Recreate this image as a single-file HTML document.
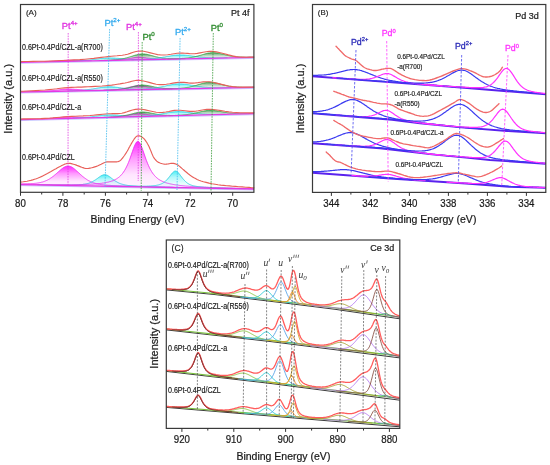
<!DOCTYPE html>
<html><head><meta charset="utf-8"><style>
html,body{margin:0;padding:0;background:#fff;}
body{width:550px;height:465px;overflow:hidden;}
svg{display:block;}
#w{will-change:transform;width:550px;height:465px;}
text{font-family:"Liberation Sans",sans-serif;}
.serif{font-family:"Liberation Serif",serif;font-style:italic;}
</style></head><body>
<div id="w">
<svg width="550" height="465" viewBox="0 0 550 465">
<defs><linearGradient id="g1" x1="0" y1="0" x2="0" y2="1"><stop offset="0" stop-color="#ff00ff" stop-opacity="0.85"/><stop offset="0.35" stop-color="#ff00ff" stop-opacity="0.4"/><stop offset="0.7" stop-color="#ff00ff" stop-opacity="0.1"/><stop offset="1" stop-color="#ff00ff" stop-opacity="0.03"/></linearGradient>
<linearGradient id="g2" x1="0" y1="0" x2="0" y2="1"><stop offset="0" stop-color="#00e8f0" stop-opacity="0.7"/><stop offset="0.35" stop-color="#00e8f0" stop-opacity="0.3"/><stop offset="0.7" stop-color="#00e8f0" stop-opacity="0.1"/><stop offset="1" stop-color="#00e8f0" stop-opacity="0.03"/></linearGradient>
<linearGradient id="g3" x1="0" y1="0" x2="0" y2="1"><stop offset="0" stop-color="#ff00ff" stop-opacity="0.85"/><stop offset="0.35" stop-color="#ff00ff" stop-opacity="0.4"/><stop offset="0.7" stop-color="#ff00ff" stop-opacity="0.1"/><stop offset="1" stop-color="#ff00ff" stop-opacity="0.03"/></linearGradient>
<linearGradient id="g4" x1="0" y1="0" x2="0" y2="1"><stop offset="0" stop-color="#2e8b3e" stop-opacity="0.85"/><stop offset="0.35" stop-color="#2e8b3e" stop-opacity="0.4"/><stop offset="0.7" stop-color="#2e8b3e" stop-opacity="0.1"/><stop offset="1" stop-color="#2e8b3e" stop-opacity="0.03"/></linearGradient>
<linearGradient id="g5" x1="0" y1="0" x2="0" y2="1"><stop offset="0" stop-color="#00e8f0" stop-opacity="0.7"/><stop offset="0.35" stop-color="#00e8f0" stop-opacity="0.3"/><stop offset="0.7" stop-color="#00e8f0" stop-opacity="0.1"/><stop offset="1" stop-color="#00e8f0" stop-opacity="0.03"/></linearGradient>
<linearGradient id="g6" x1="0" y1="0" x2="0" y2="1"><stop offset="0" stop-color="#2e8b3e" stop-opacity="0.85"/><stop offset="0.35" stop-color="#2e8b3e" stop-opacity="0.4"/><stop offset="0.7" stop-color="#2e8b3e" stop-opacity="0.1"/><stop offset="1" stop-color="#2e8b3e" stop-opacity="0.03"/></linearGradient>
<linearGradient id="g7" x1="0" y1="0" x2="0" y2="1"><stop offset="0" stop-color="#ff00ff" stop-opacity="0.85"/><stop offset="0.35" stop-color="#ff00ff" stop-opacity="0.4"/><stop offset="0.7" stop-color="#ff00ff" stop-opacity="0.1"/><stop offset="1" stop-color="#ff00ff" stop-opacity="0.03"/></linearGradient>
<linearGradient id="g8" x1="0" y1="0" x2="0" y2="1"><stop offset="0" stop-color="#00e8f0" stop-opacity="0.7"/><stop offset="0.35" stop-color="#00e8f0" stop-opacity="0.3"/><stop offset="0.7" stop-color="#00e8f0" stop-opacity="0.1"/><stop offset="1" stop-color="#00e8f0" stop-opacity="0.03"/></linearGradient>
<linearGradient id="g9" x1="0" y1="0" x2="0" y2="1"><stop offset="0" stop-color="#ff00ff" stop-opacity="0.85"/><stop offset="0.35" stop-color="#ff00ff" stop-opacity="0.4"/><stop offset="0.7" stop-color="#ff00ff" stop-opacity="0.1"/><stop offset="1" stop-color="#ff00ff" stop-opacity="0.03"/></linearGradient>
<linearGradient id="g10" x1="0" y1="0" x2="0" y2="1"><stop offset="0" stop-color="#2e8b3e" stop-opacity="0.85"/><stop offset="0.35" stop-color="#2e8b3e" stop-opacity="0.4"/><stop offset="0.7" stop-color="#2e8b3e" stop-opacity="0.1"/><stop offset="1" stop-color="#2e8b3e" stop-opacity="0.03"/></linearGradient>
<linearGradient id="g11" x1="0" y1="0" x2="0" y2="1"><stop offset="0" stop-color="#00e8f0" stop-opacity="0.7"/><stop offset="0.35" stop-color="#00e8f0" stop-opacity="0.3"/><stop offset="0.7" stop-color="#00e8f0" stop-opacity="0.1"/><stop offset="1" stop-color="#00e8f0" stop-opacity="0.03"/></linearGradient>
<linearGradient id="g12" x1="0" y1="0" x2="0" y2="1"><stop offset="0" stop-color="#2e8b3e" stop-opacity="0.85"/><stop offset="0.35" stop-color="#2e8b3e" stop-opacity="0.4"/><stop offset="0.7" stop-color="#2e8b3e" stop-opacity="0.1"/><stop offset="1" stop-color="#2e8b3e" stop-opacity="0.03"/></linearGradient>
<linearGradient id="g13" x1="0" y1="0" x2="0" y2="1"><stop offset="0" stop-color="#ff00ff" stop-opacity="0.85"/><stop offset="0.35" stop-color="#ff00ff" stop-opacity="0.4"/><stop offset="0.7" stop-color="#ff00ff" stop-opacity="0.1"/><stop offset="1" stop-color="#ff00ff" stop-opacity="0.03"/></linearGradient>
<linearGradient id="g14" x1="0" y1="0" x2="0" y2="1"><stop offset="0" stop-color="#00e8f0" stop-opacity="0.7"/><stop offset="0.35" stop-color="#00e8f0" stop-opacity="0.3"/><stop offset="0.7" stop-color="#00e8f0" stop-opacity="0.1"/><stop offset="1" stop-color="#00e8f0" stop-opacity="0.03"/></linearGradient>
<linearGradient id="g15" x1="0" y1="0" x2="0" y2="1"><stop offset="0" stop-color="#ff00ff" stop-opacity="0.85"/><stop offset="0.35" stop-color="#ff00ff" stop-opacity="0.4"/><stop offset="0.7" stop-color="#ff00ff" stop-opacity="0.1"/><stop offset="1" stop-color="#ff00ff" stop-opacity="0.03"/></linearGradient>
<linearGradient id="g16" x1="0" y1="0" x2="0" y2="1"><stop offset="0" stop-color="#2e8b3e" stop-opacity="0.85"/><stop offset="0.35" stop-color="#2e8b3e" stop-opacity="0.4"/><stop offset="0.7" stop-color="#2e8b3e" stop-opacity="0.1"/><stop offset="1" stop-color="#2e8b3e" stop-opacity="0.03"/></linearGradient>
<linearGradient id="g17" x1="0" y1="0" x2="0" y2="1"><stop offset="0" stop-color="#00e8f0" stop-opacity="0.7"/><stop offset="0.35" stop-color="#00e8f0" stop-opacity="0.3"/><stop offset="0.7" stop-color="#00e8f0" stop-opacity="0.1"/><stop offset="1" stop-color="#00e8f0" stop-opacity="0.03"/></linearGradient>
<linearGradient id="g18" x1="0" y1="0" x2="0" y2="1"><stop offset="0" stop-color="#2e8b3e" stop-opacity="0.85"/><stop offset="0.35" stop-color="#2e8b3e" stop-opacity="0.4"/><stop offset="0.7" stop-color="#2e8b3e" stop-opacity="0.1"/><stop offset="1" stop-color="#2e8b3e" stop-opacity="0.03"/></linearGradient>
<linearGradient id="g19" x1="0" y1="0" x2="0" y2="1"><stop offset="0" stop-color="#ff00ff" stop-opacity="0.85"/><stop offset="0.35" stop-color="#ff00ff" stop-opacity="0.4"/><stop offset="0.7" stop-color="#ff00ff" stop-opacity="0.1"/><stop offset="1" stop-color="#ff00ff" stop-opacity="0.03"/></linearGradient>
<linearGradient id="g20" x1="0" y1="0" x2="0" y2="1"><stop offset="0" stop-color="#00e8f0" stop-opacity="0.7"/><stop offset="0.35" stop-color="#00e8f0" stop-opacity="0.3"/><stop offset="0.7" stop-color="#00e8f0" stop-opacity="0.1"/><stop offset="1" stop-color="#00e8f0" stop-opacity="0.03"/></linearGradient>
<linearGradient id="g21" x1="0" y1="0" x2="0" y2="1"><stop offset="0" stop-color="#ff00ff" stop-opacity="0.85"/><stop offset="0.35" stop-color="#ff00ff" stop-opacity="0.4"/><stop offset="0.7" stop-color="#ff00ff" stop-opacity="0.1"/><stop offset="1" stop-color="#ff00ff" stop-opacity="0.03"/></linearGradient>
<linearGradient id="g22" x1="0" y1="0" x2="0" y2="1"><stop offset="0" stop-color="#00e8f0" stop-opacity="0.7"/><stop offset="0.35" stop-color="#00e8f0" stop-opacity="0.3"/><stop offset="0.7" stop-color="#00e8f0" stop-opacity="0.1"/><stop offset="1" stop-color="#00e8f0" stop-opacity="0.03"/></linearGradient></defs>
<rect width="550" height="465" fill="#fff"/>
<path d="M44.5 61.7 L45.5 61.6 L46.5 61.6 L47.5 61.5 L48.5 61.5 L49.5 61.4 L50.5 61.4 L51.5 61.3 L52.5 61.2 L53.5 61.2 L54.5 61.1 L55.5 61 L56.5 61 L57.5 60.9 L58.5 60.8 L59.5 60.8 L60.5 60.7 L61.5 60.6 L62.5 60.5 L63.5 60.5 L64.5 60.4 L65.5 60.4 L66.5 60.3 L67.5 60.3 L68.5 60.3 L69.5 60.3 L70.5 60.3 L71.5 60.3 L72.5 60.3 L73.5 60.3 L74.5 60.3 L75.5 60.4 L76.5 60.4 L77.5 60.4 L78.5 60.5 L79.5 60.5 L80.5 60.5 L81.5 60.5 L82.5 60.6 L83.5 60.6 L84.5 60.6 L85.5 60.6 L86.5 60.6 L87.5 60.7 L88.5 60.7 L89.5 60.7 L90.5 60.7 L91.5 60.7 L91.5 60.8 L90.5 60.8 L89.5 60.9 L88.5 60.9 L87.5 60.9 L86.5 60.9 L85.5 60.9 L84.5 61 L83.5 61 L82.5 61 L81.5 61 L80.5 61 L79.5 61.1 L78.5 61.1 L77.5 61.1 L76.5 61.1 L75.5 61.1 L74.5 61.2 L73.5 61.2 L72.5 61.2 L71.5 61.2 L70.5 61.3 L69.5 61.3 L68.5 61.3 L67.5 61.3 L66.5 61.3 L65.5 61.4 L64.5 61.4 L63.5 61.4 L62.5 61.4 L61.5 61.4 L60.5 61.5 L59.5 61.5 L58.5 61.5 L57.5 61.5 L56.5 61.5 L55.5 61.6 L54.5 61.6 L53.5 61.6 L52.5 61.6 L51.5 61.6 L50.5 61.7 L49.5 61.7 L48.5 61.7 L47.5 61.7 L46.5 61.8 L45.5 61.8 L44.5 61.8 Z" fill="url(#g1)" stroke="none"/>
<path d="M44.5 61.7 L45.5 61.6 L46.5 61.6 L47.5 61.5 L48.5 61.5 L49.5 61.4 L50.5 61.4 L51.5 61.3 L52.5 61.2 L53.5 61.2 L54.5 61.1 L55.5 61 L56.5 61 L57.5 60.9 L58.5 60.8 L59.5 60.8 L60.5 60.7 L61.5 60.6 L62.5 60.5 L63.5 60.5 L64.5 60.4 L65.5 60.4 L66.5 60.3 L67.5 60.3 L68.5 60.3 L69.5 60.3 L70.5 60.3 L71.5 60.3 L72.5 60.3 L73.5 60.3 L74.5 60.3 L75.5 60.4 L76.5 60.4 L77.5 60.4 L78.5 60.5 L79.5 60.5 L80.5 60.5 L81.5 60.5 L82.5 60.6 L83.5 60.6 L84.5 60.6 L85.5 60.6 L86.5 60.6 L87.5 60.7 L88.5 60.7 L89.5 60.7 L90.5 60.7 L91.5 60.7" stroke="#ee22ee" stroke-width="0.8" fill="none"/>
<path d="M72.5 61.1 L73.5 61 L74.5 61 L75.5 61 L76.5 60.9 L77.5 60.9 L78.5 60.8 L79.5 60.8 L80.5 60.7 L81.5 60.7 L82.5 60.6 L83.5 60.5 L84.5 60.4 L85.5 60.4 L86.5 60.3 L87.5 60.2 L88.5 60.1 L89.5 60 L90.5 59.9 L91.5 59.8 L92.5 59.6 L93.5 59.5 L94.5 59.4 L95.5 59.3 L96.5 59.1 L97.5 59 L98.5 58.9 L99.5 58.7 L100.5 58.6 L101.5 58.5 L102.5 58.4 L103.5 58.3 L104.5 58.2 L105.5 58.1 L106.5 58 L107.5 58 L108.5 58 L109.5 57.9 L110.5 57.9 L111.5 58 L112.5 58 L113.5 58.1 L114.5 58.1 L115.5 58.2 L116.5 58.3 L117.5 58.3 L118.5 58.4 L119.5 58.5 L120.5 58.6 L121.5 58.7 L122.5 58.8 L123.5 58.9 L124.5 59 L125.5 59 L126.5 59.1 L127.5 59.2 L128.5 59.3 L129.5 59.3 L130.5 59.4 L131.5 59.4 L132.5 59.4 L133.5 59.5 L134.5 59.5 L135.5 59.5 L136.5 59.5 L137.5 59.6 L138.5 59.6 L139.5 59.6 L140.5 59.6 L141.5 59.6 L142.5 59.6 L143.5 59.6 L144.5 59.6 L144.5 59.7 L143.5 59.7 L142.5 59.7 L141.5 59.8 L140.5 59.8 L139.5 59.8 L138.5 59.8 L137.5 59.8 L136.5 59.9 L135.5 59.9 L134.5 59.9 L133.5 59.9 L132.5 59.9 L131.5 60 L130.5 60 L129.5 60 L128.5 60 L127.5 60.1 L126.5 60.1 L125.5 60.1 L124.5 60.1 L123.5 60.1 L122.5 60.2 L121.5 60.2 L120.5 60.2 L119.5 60.2 L118.5 60.2 L117.5 60.3 L116.5 60.3 L115.5 60.3 L114.5 60.3 L113.5 60.3 L112.5 60.4 L111.5 60.4 L110.5 60.4 L109.5 60.4 L108.5 60.5 L107.5 60.5 L106.5 60.5 L105.5 60.5 L104.5 60.5 L103.5 60.6 L102.5 60.6 L101.5 60.6 L100.5 60.6 L99.5 60.6 L98.5 60.7 L97.5 60.7 L96.5 60.7 L95.5 60.7 L94.5 60.7 L93.5 60.8 L92.5 60.8 L91.5 60.8 L90.5 60.8 L89.5 60.9 L88.5 60.9 L87.5 60.9 L86.5 60.9 L85.5 60.9 L84.5 61 L83.5 61 L82.5 61 L81.5 61 L80.5 61 L79.5 61.1 L78.5 61.1 L77.5 61.1 L76.5 61.1 L75.5 61.1 L74.5 61.2 L73.5 61.2 L72.5 61.2 Z" fill="url(#g2)" stroke="none"/>
<path d="M72.5 61.1 L73.5 61 L74.5 61 L75.5 61 L76.5 60.9 L77.5 60.9 L78.5 60.8 L79.5 60.8 L80.5 60.7 L81.5 60.7 L82.5 60.6 L83.5 60.5 L84.5 60.4 L85.5 60.4 L86.5 60.3 L87.5 60.2 L88.5 60.1 L89.5 60 L90.5 59.9 L91.5 59.8 L92.5 59.6 L93.5 59.5 L94.5 59.4 L95.5 59.3 L96.5 59.1 L97.5 59 L98.5 58.9 L99.5 58.7 L100.5 58.6 L101.5 58.5 L102.5 58.4 L103.5 58.3 L104.5 58.2 L105.5 58.1 L106.5 58 L107.5 58 L108.5 58 L109.5 57.9 L110.5 57.9 L111.5 58 L112.5 58 L113.5 58.1 L114.5 58.1 L115.5 58.2 L116.5 58.3 L117.5 58.3 L118.5 58.4 L119.5 58.5 L120.5 58.6 L121.5 58.7 L122.5 58.8 L123.5 58.9 L124.5 59 L125.5 59 L126.5 59.1 L127.5 59.2 L128.5 59.3 L129.5 59.3 L130.5 59.4 L131.5 59.4 L132.5 59.4 L133.5 59.5 L134.5 59.5 L135.5 59.5 L136.5 59.5 L137.5 59.6 L138.5 59.6 L139.5 59.6 L140.5 59.6 L141.5 59.6 L142.5 59.6 L143.5 59.6 L144.5 59.6" stroke="#22ccdd" stroke-width="0.8" fill="none"/>
<path d="M111.5 60.3 L112.5 60.2 L113.5 60.2 L114.5 60.1 L115.5 60.1 L116.5 60 L117.5 60 L118.5 59.9 L119.5 59.8 L120.5 59.7 L121.5 59.6 L122.5 59.5 L123.5 59.4 L124.5 59.3 L125.5 59.1 L126.5 59 L127.5 58.8 L128.5 58.6 L129.5 58.5 L130.5 58.3 L131.5 58.1 L132.5 57.9 L133.5 57.8 L134.5 57.6 L135.5 57.5 L136.5 57.4 L137.5 57.4 L138.5 57.3 L139.5 57.3 L140.5 57.3 L141.5 57.4 L142.5 57.5 L143.5 57.6 L144.5 57.7 L145.5 57.8 L146.5 58 L147.5 58.1 L148.5 58.2 L149.5 58.3 L150.5 58.5 L151.5 58.6 L152.5 58.7 L153.5 58.8 L154.5 58.8 L155.5 58.9 L156.5 59 L157.5 59 L158.5 59.1 L159.5 59.1 L160.5 59.1 L161.5 59.1 L162.5 59.1 L163.5 59.1 L164.5 59.1 L165.5 59.1 L165.5 59.3 L164.5 59.3 L163.5 59.3 L162.5 59.3 L161.5 59.3 L160.5 59.4 L159.5 59.4 L158.5 59.4 L157.5 59.4 L156.5 59.4 L155.5 59.5 L154.5 59.5 L153.5 59.5 L152.5 59.5 L151.5 59.5 L150.5 59.6 L149.5 59.6 L148.5 59.6 L147.5 59.6 L146.5 59.7 L145.5 59.7 L144.5 59.7 L143.5 59.7 L142.5 59.7 L141.5 59.8 L140.5 59.8 L139.5 59.8 L138.5 59.8 L137.5 59.8 L136.5 59.9 L135.5 59.9 L134.5 59.9 L133.5 59.9 L132.5 59.9 L131.5 60 L130.5 60 L129.5 60 L128.5 60 L127.5 60.1 L126.5 60.1 L125.5 60.1 L124.5 60.1 L123.5 60.1 L122.5 60.2 L121.5 60.2 L120.5 60.2 L119.5 60.2 L118.5 60.2 L117.5 60.3 L116.5 60.3 L115.5 60.3 L114.5 60.3 L113.5 60.3 L112.5 60.4 L111.5 60.4 Z" fill="url(#g3)" stroke="none"/>
<path d="M111.5 60.3 L112.5 60.2 L113.5 60.2 L114.5 60.1 L115.5 60.1 L116.5 60 L117.5 60 L118.5 59.9 L119.5 59.8 L120.5 59.7 L121.5 59.6 L122.5 59.5 L123.5 59.4 L124.5 59.3 L125.5 59.1 L126.5 59 L127.5 58.8 L128.5 58.6 L129.5 58.5 L130.5 58.3 L131.5 58.1 L132.5 57.9 L133.5 57.8 L134.5 57.6 L135.5 57.5 L136.5 57.4 L137.5 57.4 L138.5 57.3 L139.5 57.3 L140.5 57.3 L141.5 57.4 L142.5 57.5 L143.5 57.6 L144.5 57.7 L145.5 57.8 L146.5 58 L147.5 58.1 L148.5 58.2 L149.5 58.3 L150.5 58.5 L151.5 58.6 L152.5 58.7 L153.5 58.8 L154.5 58.8 L155.5 58.9 L156.5 59 L157.5 59 L158.5 59.1 L159.5 59.1 L160.5 59.1 L161.5 59.1 L162.5 59.1 L163.5 59.1 L164.5 59.1 L165.5 59.1" stroke="#ee22ee" stroke-width="0.8" fill="none"/>
<path d="M99.5 60.5 L100.5 60.5 L101.5 60.4 L102.5 60.4 L103.5 60.4 L104.5 60.3 L105.5 60.3 L106.5 60.3 L107.5 60.2 L108.5 60.2 L109.5 60.1 L110.5 60.1 L111.5 60 L112.5 60 L113.5 59.9 L114.5 59.8 L115.5 59.8 L116.5 59.7 L117.5 59.6 L118.5 59.4 L119.5 59.3 L120.5 59.2 L121.5 59 L122.5 58.8 L123.5 58.6 L124.5 58.4 L125.5 58.1 L126.5 57.9 L127.5 57.6 L128.5 57.3 L129.5 57 L130.5 56.7 L131.5 56.4 L132.5 56.1 L133.5 55.7 L134.5 55.4 L135.5 55.1 L136.5 54.9 L137.5 54.6 L138.5 54.4 L139.5 54.2 L140.5 54.1 L141.5 54 L142.5 53.9 L143.5 54 L144.5 54 L145.5 54.2 L146.5 54.3 L147.5 54.5 L148.5 54.8 L149.5 55 L150.5 55.3 L151.5 55.6 L152.5 55.8 L153.5 56.1 L154.5 56.4 L155.5 56.7 L156.5 56.9 L157.5 57.1 L158.5 57.4 L159.5 57.6 L160.5 57.7 L161.5 57.9 L162.5 58.1 L163.5 58.2 L164.5 58.3 L165.5 58.4 L166.5 58.5 L167.5 58.6 L168.5 58.6 L169.5 58.7 L170.5 58.7 L171.5 58.7 L172.5 58.7 L173.5 58.8 L174.5 58.8 L175.5 58.8 L176.5 58.8 L177.5 58.8 L178.5 58.8 L179.5 58.8 L180.5 58.8 L181.5 58.7 L182.5 58.7 L183.5 58.7 L184.5 58.7 L185.5 58.7 L185.5 58.8 L184.5 58.9 L183.5 58.9 L182.5 58.9 L181.5 58.9 L180.5 58.9 L179.5 59 L178.5 59 L177.5 59 L176.5 59 L175.5 59 L174.5 59.1 L173.5 59.1 L172.5 59.1 L171.5 59.1 L170.5 59.2 L169.5 59.2 L168.5 59.2 L167.5 59.2 L166.5 59.2 L165.5 59.3 L164.5 59.3 L163.5 59.3 L162.5 59.3 L161.5 59.3 L160.5 59.4 L159.5 59.4 L158.5 59.4 L157.5 59.4 L156.5 59.4 L155.5 59.5 L154.5 59.5 L153.5 59.5 L152.5 59.5 L151.5 59.5 L150.5 59.6 L149.5 59.6 L148.5 59.6 L147.5 59.6 L146.5 59.7 L145.5 59.7 L144.5 59.7 L143.5 59.7 L142.5 59.7 L141.5 59.8 L140.5 59.8 L139.5 59.8 L138.5 59.8 L137.5 59.8 L136.5 59.9 L135.5 59.9 L134.5 59.9 L133.5 59.9 L132.5 59.9 L131.5 60 L130.5 60 L129.5 60 L128.5 60 L127.5 60.1 L126.5 60.1 L125.5 60.1 L124.5 60.1 L123.5 60.1 L122.5 60.2 L121.5 60.2 L120.5 60.2 L119.5 60.2 L118.5 60.2 L117.5 60.3 L116.5 60.3 L115.5 60.3 L114.5 60.3 L113.5 60.3 L112.5 60.4 L111.5 60.4 L110.5 60.4 L109.5 60.4 L108.5 60.5 L107.5 60.5 L106.5 60.5 L105.5 60.5 L104.5 60.5 L103.5 60.6 L102.5 60.6 L101.5 60.6 L100.5 60.6 L99.5 60.6 Z" fill="url(#g4)" stroke="none"/>
<path d="M99.5 60.5 L100.5 60.5 L101.5 60.4 L102.5 60.4 L103.5 60.4 L104.5 60.3 L105.5 60.3 L106.5 60.3 L107.5 60.2 L108.5 60.2 L109.5 60.1 L110.5 60.1 L111.5 60 L112.5 60 L113.5 59.9 L114.5 59.8 L115.5 59.8 L116.5 59.7 L117.5 59.6 L118.5 59.4 L119.5 59.3 L120.5 59.2 L121.5 59 L122.5 58.8 L123.5 58.6 L124.5 58.4 L125.5 58.1 L126.5 57.9 L127.5 57.6 L128.5 57.3 L129.5 57 L130.5 56.7 L131.5 56.4 L132.5 56.1 L133.5 55.7 L134.5 55.4 L135.5 55.1 L136.5 54.9 L137.5 54.6 L138.5 54.4 L139.5 54.2 L140.5 54.1 L141.5 54 L142.5 53.9 L143.5 54 L144.5 54 L145.5 54.2 L146.5 54.3 L147.5 54.5 L148.5 54.8 L149.5 55 L150.5 55.3 L151.5 55.6 L152.5 55.8 L153.5 56.1 L154.5 56.4 L155.5 56.7 L156.5 56.9 L157.5 57.1 L158.5 57.4 L159.5 57.6 L160.5 57.7 L161.5 57.9 L162.5 58.1 L163.5 58.2 L164.5 58.3 L165.5 58.4 L166.5 58.5 L167.5 58.6 L168.5 58.6 L169.5 58.7 L170.5 58.7 L171.5 58.7 L172.5 58.7 L173.5 58.8 L174.5 58.8 L175.5 58.8 L176.5 58.8 L177.5 58.8 L178.5 58.8 L179.5 58.8 L180.5 58.8 L181.5 58.7 L182.5 58.7 L183.5 58.7 L184.5 58.7 L185.5 58.7" stroke="#2a9a3a" stroke-width="0.8" fill="none"/>
<path d="M131.5 59.8 L132.5 59.8 L133.5 59.8 L134.5 59.7 L135.5 59.7 L136.5 59.7 L137.5 59.6 L138.5 59.6 L139.5 59.6 L140.5 59.5 L141.5 59.5 L142.5 59.4 L143.5 59.4 L144.5 59.3 L145.5 59.3 L146.5 59.2 L147.5 59.1 L148.5 59.1 L149.5 59 L150.5 58.9 L151.5 58.8 L152.5 58.7 L153.5 58.6 L154.5 58.5 L155.5 58.4 L156.5 58.2 L157.5 58.1 L158.5 58 L159.5 57.8 L160.5 57.6 L161.5 57.5 L162.5 57.3 L163.5 57.1 L164.5 57 L165.5 56.8 L166.5 56.6 L167.5 56.4 L168.5 56.3 L169.5 56.1 L170.5 55.9 L171.5 55.7 L172.5 55.6 L173.5 55.5 L174.5 55.3 L175.5 55.2 L176.5 55.1 L177.5 55 L178.5 55 L179.5 55 L180.5 55 L181.5 55 L182.5 55 L183.5 55 L184.5 55.1 L185.5 55.2 L186.5 55.3 L187.5 55.4 L188.5 55.5 L189.5 55.7 L190.5 55.8 L191.5 55.9 L192.5 56.1 L193.5 56.2 L194.5 56.3 L195.5 56.5 L196.5 56.6 L197.5 56.7 L198.5 56.9 L199.5 57 L200.5 57.1 L201.5 57.2 L202.5 57.3 L203.5 57.4 L204.5 57.4 L205.5 57.5 L206.5 57.6 L207.5 57.6 L208.5 57.7 L209.5 57.7 L210.5 57.8 L211.5 57.8 L212.5 57.8 L213.5 57.8 L214.5 57.8 L215.5 57.9 L216.5 57.9 L217.5 57.9 L218.5 57.9 L219.5 57.9 L220.5 57.9 L221.5 57.9 L222.5 57.9 L223.5 57.9 L224.5 57.8 L225.5 57.8 L226.5 57.8 L227.5 57.8 L227.5 58 L226.5 58 L225.5 58 L224.5 58 L223.5 58 L222.5 58.1 L221.5 58.1 L220.5 58.1 L219.5 58.1 L218.5 58.1 L217.5 58.2 L216.5 58.2 L215.5 58.2 L214.5 58.2 L213.5 58.2 L212.5 58.3 L211.5 58.3 L210.5 58.3 L209.5 58.3 L208.5 58.4 L207.5 58.4 L206.5 58.4 L205.5 58.4 L204.5 58.4 L203.5 58.5 L202.5 58.5 L201.5 58.5 L200.5 58.5 L199.5 58.5 L198.5 58.6 L197.5 58.6 L196.5 58.6 L195.5 58.6 L194.5 58.6 L193.5 58.7 L192.5 58.7 L191.5 58.7 L190.5 58.7 L189.5 58.8 L188.5 58.8 L187.5 58.8 L186.5 58.8 L185.5 58.8 L184.5 58.9 L183.5 58.9 L182.5 58.9 L181.5 58.9 L180.5 58.9 L179.5 59 L178.5 59 L177.5 59 L176.5 59 L175.5 59 L174.5 59.1 L173.5 59.1 L172.5 59.1 L171.5 59.1 L170.5 59.2 L169.5 59.2 L168.5 59.2 L167.5 59.2 L166.5 59.2 L165.5 59.3 L164.5 59.3 L163.5 59.3 L162.5 59.3 L161.5 59.3 L160.5 59.4 L159.5 59.4 L158.5 59.4 L157.5 59.4 L156.5 59.4 L155.5 59.5 L154.5 59.5 L153.5 59.5 L152.5 59.5 L151.5 59.5 L150.5 59.6 L149.5 59.6 L148.5 59.6 L147.5 59.6 L146.5 59.7 L145.5 59.7 L144.5 59.7 L143.5 59.7 L142.5 59.7 L141.5 59.8 L140.5 59.8 L139.5 59.8 L138.5 59.8 L137.5 59.8 L136.5 59.9 L135.5 59.9 L134.5 59.9 L133.5 59.9 L132.5 59.9 L131.5 60 Z" fill="url(#g5)" stroke="none"/>
<path d="M131.5 59.8 L132.5 59.8 L133.5 59.8 L134.5 59.7 L135.5 59.7 L136.5 59.7 L137.5 59.6 L138.5 59.6 L139.5 59.6 L140.5 59.5 L141.5 59.5 L142.5 59.4 L143.5 59.4 L144.5 59.3 L145.5 59.3 L146.5 59.2 L147.5 59.1 L148.5 59.1 L149.5 59 L150.5 58.9 L151.5 58.8 L152.5 58.7 L153.5 58.6 L154.5 58.5 L155.5 58.4 L156.5 58.2 L157.5 58.1 L158.5 58 L159.5 57.8 L160.5 57.6 L161.5 57.5 L162.5 57.3 L163.5 57.1 L164.5 57 L165.5 56.8 L166.5 56.6 L167.5 56.4 L168.5 56.3 L169.5 56.1 L170.5 55.9 L171.5 55.7 L172.5 55.6 L173.5 55.5 L174.5 55.3 L175.5 55.2 L176.5 55.1 L177.5 55 L178.5 55 L179.5 55 L180.5 55 L181.5 55 L182.5 55 L183.5 55 L184.5 55.1 L185.5 55.2 L186.5 55.3 L187.5 55.4 L188.5 55.5 L189.5 55.7 L190.5 55.8 L191.5 55.9 L192.5 56.1 L193.5 56.2 L194.5 56.3 L195.5 56.5 L196.5 56.6 L197.5 56.7 L198.5 56.9 L199.5 57 L200.5 57.1 L201.5 57.2 L202.5 57.3 L203.5 57.4 L204.5 57.4 L205.5 57.5 L206.5 57.6 L207.5 57.6 L208.5 57.7 L209.5 57.7 L210.5 57.8 L211.5 57.8 L212.5 57.8 L213.5 57.8 L214.5 57.8 L215.5 57.9 L216.5 57.9 L217.5 57.9 L218.5 57.9 L219.5 57.9 L220.5 57.9 L221.5 57.9 L222.5 57.9 L223.5 57.9 L224.5 57.8 L225.5 57.8 L226.5 57.8 L227.5 57.8" stroke="#22ccdd" stroke-width="0.8" fill="none"/>
<path d="M167.5 59.1 L168.5 59 L169.5 59 L170.5 59 L171.5 58.9 L172.5 58.9 L173.5 58.9 L174.5 58.8 L175.5 58.8 L176.5 58.8 L177.5 58.7 L178.5 58.7 L179.5 58.6 L180.5 58.6 L181.5 58.5 L182.5 58.4 L183.5 58.4 L184.5 58.3 L185.5 58.2 L186.5 58.1 L187.5 58 L188.5 57.9 L189.5 57.7 L190.5 57.6 L191.5 57.4 L192.5 57.2 L193.5 57 L194.5 56.8 L195.5 56.6 L196.5 56.3 L197.5 56.1 L198.5 55.8 L199.5 55.5 L200.5 55.3 L201.5 55 L202.5 54.7 L203.5 54.4 L204.5 54.1 L205.5 53.8 L206.5 53.6 L207.5 53.3 L208.5 53.1 L209.5 53 L210.5 52.8 L211.5 52.7 L212.5 52.7 L213.5 52.7 L214.5 52.7 L215.5 52.8 L216.5 52.9 L217.5 53 L218.5 53.2 L219.5 53.4 L220.5 53.7 L221.5 53.9 L222.5 54.1 L223.5 54.4 L224.5 54.6 L225.5 54.9 L226.5 55.1 L227.5 55.4 L228.5 55.6 L229.5 55.8 L230.5 56 L231.5 56.1 L232.5 56.3 L233.5 56.5 L234.5 56.6 L235.5 56.7 L236.5 56.8 L237.5 56.9 L238.5 57 L239.5 57 L240.5 57.1 L241.5 57.1 L242.5 57.2 L243.5 57.2 L244.5 57.2 L245.5 57.2 L246.5 57.2 L247.5 57.2 L248.5 57.2 L249.5 57.2 L250.5 57.2 L251.5 57.2 L252.5 57.2 L253.5 57.2 L253.9 57.2 L253.9 57.4 L253.5 57.4 L252.5 57.4 L251.5 57.5 L250.5 57.5 L249.5 57.5 L248.5 57.5 L247.5 57.5 L246.5 57.6 L245.5 57.6 L244.5 57.6 L243.5 57.6 L242.5 57.6 L241.5 57.7 L240.5 57.7 L239.5 57.7 L238.5 57.7 L237.5 57.7 L236.5 57.8 L235.5 57.8 L234.5 57.8 L233.5 57.8 L232.5 57.8 L231.5 57.9 L230.5 57.9 L229.5 57.9 L228.5 57.9 L227.5 58 L226.5 58 L225.5 58 L224.5 58 L223.5 58 L222.5 58.1 L221.5 58.1 L220.5 58.1 L219.5 58.1 L218.5 58.1 L217.5 58.2 L216.5 58.2 L215.5 58.2 L214.5 58.2 L213.5 58.2 L212.5 58.3 L211.5 58.3 L210.5 58.3 L209.5 58.3 L208.5 58.4 L207.5 58.4 L206.5 58.4 L205.5 58.4 L204.5 58.4 L203.5 58.5 L202.5 58.5 L201.5 58.5 L200.5 58.5 L199.5 58.5 L198.5 58.6 L197.5 58.6 L196.5 58.6 L195.5 58.6 L194.5 58.6 L193.5 58.7 L192.5 58.7 L191.5 58.7 L190.5 58.7 L189.5 58.8 L188.5 58.8 L187.5 58.8 L186.5 58.8 L185.5 58.8 L184.5 58.9 L183.5 58.9 L182.5 58.9 L181.5 58.9 L180.5 58.9 L179.5 59 L178.5 59 L177.5 59 L176.5 59 L175.5 59 L174.5 59.1 L173.5 59.1 L172.5 59.1 L171.5 59.1 L170.5 59.2 L169.5 59.2 L168.5 59.2 L167.5 59.2 Z" fill="url(#g6)" stroke="none"/>
<path d="M167.5 59.1 L168.5 59 L169.5 59 L170.5 59 L171.5 58.9 L172.5 58.9 L173.5 58.9 L174.5 58.8 L175.5 58.8 L176.5 58.8 L177.5 58.7 L178.5 58.7 L179.5 58.6 L180.5 58.6 L181.5 58.5 L182.5 58.4 L183.5 58.4 L184.5 58.3 L185.5 58.2 L186.5 58.1 L187.5 58 L188.5 57.9 L189.5 57.7 L190.5 57.6 L191.5 57.4 L192.5 57.2 L193.5 57 L194.5 56.8 L195.5 56.6 L196.5 56.3 L197.5 56.1 L198.5 55.8 L199.5 55.5 L200.5 55.3 L201.5 55 L202.5 54.7 L203.5 54.4 L204.5 54.1 L205.5 53.8 L206.5 53.6 L207.5 53.3 L208.5 53.1 L209.5 53 L210.5 52.8 L211.5 52.7 L212.5 52.7 L213.5 52.7 L214.5 52.7 L215.5 52.8 L216.5 52.9 L217.5 53 L218.5 53.2 L219.5 53.4 L220.5 53.7 L221.5 53.9 L222.5 54.1 L223.5 54.4 L224.5 54.6 L225.5 54.9 L226.5 55.1 L227.5 55.4 L228.5 55.6 L229.5 55.8 L230.5 56 L231.5 56.1 L232.5 56.3 L233.5 56.5 L234.5 56.6 L235.5 56.7 L236.5 56.8 L237.5 56.9 L238.5 57 L239.5 57 L240.5 57.1 L241.5 57.1 L242.5 57.2 L243.5 57.2 L244.5 57.2 L245.5 57.2 L246.5 57.2 L247.5 57.2 L248.5 57.2 L249.5 57.2 L250.5 57.2 L251.5 57.2 L252.5 57.2 L253.5 57.2 L253.9 57.2" stroke="#2a9a3a" stroke-width="0.8" fill="none"/>
<path d="M20.5 63.3 L253.9 58.4" stroke="#9a9cff" stroke-width="0.7" fill="none" opacity="0.8"/>
<path d="M20.5 62.3 L253.9 57.4" stroke="#e438e4" stroke-width="1.3" fill="none"/>
<path d="M20.5 61.6 L23.6 61.5 L27.9 61.5 L33.1 61.4 L38.7 61.3 L44.4 61.2 L50 61 L55.7 60.8 L61.7 60.5 L67.9 60.2 L74 59.9 L79.8 59.6 L85 59.2 L89.6 58.8 L93.8 58.4 L97.6 57.9 L101.2 57.4 L104.7 57 L108 56.6 L111.2 56.3 L114.2 56 L117 55.8 L119.7 55.5 L122.3 55.2 L125 54.8 L127.6 54.2 L130.1 53.4 L132.5 52.5 L135 51.8 L137.6 51.2 L140.5 51 L143.6 51.3 L147 52 L150.5 52.9 L154.1 53.8 L157.6 54.6 L161 55 L164.3 55 L167.6 54.7 L170.9 54.3 L174.1 53.8 L177.1 53.3 L180 53.1 L182.6 53.1 L185 53.2 L187.3 53.4 L189.6 53.6 L191.9 53.7 L194.5 53.7 L197.3 53.4 L200.1 52.9 L203.1 52.3 L206.1 51.7 L209.3 51.4 L212.7 51.4 L216.4 51.9 L220.3 52.8 L224.4 53.8 L228.4 54.9 L232.4 55.9 L236 56.6 L239.5 57 L243 57.1 L246.4 57.2 L249.5 57.1 L252 57.1 L253.9 57.1" stroke="#e8605a" stroke-width="1.15" fill="none" stroke-linejoin="round" stroke-linecap="round" />
<path d="M38.5 91.5 L39.5 91.5 L40.5 91.4 L41.5 91.4 L42.5 91.3 L43.5 91.3 L44.5 91.2 L45.5 91.2 L46.5 91.1 L47.5 91 L48.5 91 L49.5 90.9 L50.5 90.8 L51.5 90.7 L52.5 90.6 L53.5 90.5 L54.5 90.4 L55.5 90.3 L56.5 90.1 L57.5 90 L58.5 89.9 L59.5 89.8 L60.5 89.6 L61.5 89.5 L62.5 89.4 L63.5 89.3 L64.5 89.2 L65.5 89.2 L66.5 89.1 L67.5 89.1 L68.5 89.1 L69.5 89.1 L70.5 89.1 L71.5 89.1 L72.5 89.2 L73.5 89.2 L74.5 89.3 L75.5 89.4 L76.5 89.4 L77.5 89.5 L78.5 89.6 L79.5 89.7 L80.5 89.8 L81.5 89.8 L82.5 89.9 L83.5 90 L84.5 90.1 L85.5 90.1 L86.5 90.2 L87.5 90.2 L88.5 90.2 L89.5 90.3 L90.5 90.3 L91.5 90.3 L92.5 90.3 L93.5 90.3 L94.5 90.3 L95.5 90.3 L96.5 90.3 L97.5 90.3 L97.5 90.5 L96.5 90.5 L95.5 90.5 L94.5 90.5 L93.5 90.6 L92.5 90.6 L91.5 90.6 L90.5 90.6 L89.5 90.6 L88.5 90.7 L87.5 90.7 L86.5 90.7 L85.5 90.7 L84.5 90.7 L83.5 90.8 L82.5 90.8 L81.5 90.8 L80.5 90.8 L79.5 90.8 L78.5 90.9 L77.5 90.9 L76.5 90.9 L75.5 90.9 L74.5 90.9 L73.5 91 L72.5 91 L71.5 91 L70.5 91 L69.5 91 L68.5 91.1 L67.5 91.1 L66.5 91.1 L65.5 91.1 L64.5 91.1 L63.5 91.2 L62.5 91.2 L61.5 91.2 L60.5 91.2 L59.5 91.2 L58.5 91.3 L57.5 91.3 L56.5 91.3 L55.5 91.3 L54.5 91.3 L53.5 91.3 L52.5 91.4 L51.5 91.4 L50.5 91.4 L49.5 91.4 L48.5 91.4 L47.5 91.5 L46.5 91.5 L45.5 91.5 L44.5 91.5 L43.5 91.5 L42.5 91.6 L41.5 91.6 L40.5 91.6 L39.5 91.6 L38.5 91.6 Z" fill="url(#g7)" stroke="none"/>
<path d="M38.5 91.5 L39.5 91.5 L40.5 91.4 L41.5 91.4 L42.5 91.3 L43.5 91.3 L44.5 91.2 L45.5 91.2 L46.5 91.1 L47.5 91 L48.5 91 L49.5 90.9 L50.5 90.8 L51.5 90.7 L52.5 90.6 L53.5 90.5 L54.5 90.4 L55.5 90.3 L56.5 90.1 L57.5 90 L58.5 89.9 L59.5 89.8 L60.5 89.6 L61.5 89.5 L62.5 89.4 L63.5 89.3 L64.5 89.2 L65.5 89.2 L66.5 89.1 L67.5 89.1 L68.5 89.1 L69.5 89.1 L70.5 89.1 L71.5 89.1 L72.5 89.2 L73.5 89.2 L74.5 89.3 L75.5 89.4 L76.5 89.4 L77.5 89.5 L78.5 89.6 L79.5 89.7 L80.5 89.8 L81.5 89.8 L82.5 89.9 L83.5 90 L84.5 90.1 L85.5 90.1 L86.5 90.2 L87.5 90.2 L88.5 90.2 L89.5 90.3 L90.5 90.3 L91.5 90.3 L92.5 90.3 L93.5 90.3 L94.5 90.3 L95.5 90.3 L96.5 90.3 L97.5 90.3" stroke="#ee22ee" stroke-width="0.8" fill="none"/>
<path d="M68.5 90.9 L69.5 90.9 L70.5 90.8 L71.5 90.8 L72.5 90.8 L73.5 90.7 L74.5 90.7 L75.5 90.7 L76.5 90.6 L77.5 90.6 L78.5 90.5 L79.5 90.4 L80.5 90.4 L81.5 90.3 L82.5 90.2 L83.5 90.1 L84.5 90 L85.5 89.9 L86.5 89.8 L87.5 89.7 L88.5 89.6 L89.5 89.4 L90.5 89.3 L91.5 89.1 L92.5 89 L93.5 88.8 L94.5 88.6 L95.5 88.5 L96.5 88.3 L97.5 88.1 L98.5 87.9 L99.5 87.8 L100.5 87.6 L101.5 87.4 L102.5 87.3 L103.5 87.2 L104.5 87 L105.5 86.9 L106.5 86.9 L107.5 86.8 L108.5 86.8 L109.5 86.8 L110.5 86.8 L111.5 86.8 L112.5 86.9 L113.5 87 L114.5 87 L115.5 87.2 L116.5 87.3 L117.5 87.4 L118.5 87.5 L119.5 87.7 L120.5 87.8 L121.5 88 L122.5 88.1 L123.5 88.2 L124.5 88.3 L125.5 88.5 L126.5 88.6 L127.5 88.7 L128.5 88.8 L129.5 88.9 L130.5 88.9 L131.5 89 L132.5 89.1 L133.5 89.1 L134.5 89.2 L135.5 89.2 L136.5 89.3 L137.5 89.3 L138.5 89.3 L139.5 89.3 L140.5 89.3 L141.5 89.3 L142.5 89.4 L143.5 89.4 L144.5 89.4 L145.5 89.4 L146.5 89.3 L147.5 89.3 L148.5 89.3 L148.5 89.5 L147.5 89.5 L146.5 89.5 L145.5 89.5 L144.5 89.6 L143.5 89.6 L142.5 89.6 L141.5 89.6 L140.5 89.6 L139.5 89.7 L138.5 89.7 L137.5 89.7 L136.5 89.7 L135.5 89.7 L134.5 89.8 L133.5 89.8 L132.5 89.8 L131.5 89.8 L130.5 89.8 L129.5 89.9 L128.5 89.9 L127.5 89.9 L126.5 89.9 L125.5 89.9 L124.5 90 L123.5 90 L122.5 90 L121.5 90 L120.5 90 L119.5 90 L118.5 90.1 L117.5 90.1 L116.5 90.1 L115.5 90.1 L114.5 90.1 L113.5 90.2 L112.5 90.2 L111.5 90.2 L110.5 90.2 L109.5 90.2 L108.5 90.3 L107.5 90.3 L106.5 90.3 L105.5 90.3 L104.5 90.3 L103.5 90.4 L102.5 90.4 L101.5 90.4 L100.5 90.4 L99.5 90.4 L98.5 90.5 L97.5 90.5 L96.5 90.5 L95.5 90.5 L94.5 90.5 L93.5 90.6 L92.5 90.6 L91.5 90.6 L90.5 90.6 L89.5 90.6 L88.5 90.7 L87.5 90.7 L86.5 90.7 L85.5 90.7 L84.5 90.7 L83.5 90.8 L82.5 90.8 L81.5 90.8 L80.5 90.8 L79.5 90.8 L78.5 90.9 L77.5 90.9 L76.5 90.9 L75.5 90.9 L74.5 90.9 L73.5 91 L72.5 91 L71.5 91 L70.5 91 L69.5 91 L68.5 91.1 Z" fill="url(#g8)" stroke="none"/>
<path d="M68.5 90.9 L69.5 90.9 L70.5 90.8 L71.5 90.8 L72.5 90.8 L73.5 90.7 L74.5 90.7 L75.5 90.7 L76.5 90.6 L77.5 90.6 L78.5 90.5 L79.5 90.4 L80.5 90.4 L81.5 90.3 L82.5 90.2 L83.5 90.1 L84.5 90 L85.5 89.9 L86.5 89.8 L87.5 89.7 L88.5 89.6 L89.5 89.4 L90.5 89.3 L91.5 89.1 L92.5 89 L93.5 88.8 L94.5 88.6 L95.5 88.5 L96.5 88.3 L97.5 88.1 L98.5 87.9 L99.5 87.8 L100.5 87.6 L101.5 87.4 L102.5 87.3 L103.5 87.2 L104.5 87 L105.5 86.9 L106.5 86.9 L107.5 86.8 L108.5 86.8 L109.5 86.8 L110.5 86.8 L111.5 86.8 L112.5 86.9 L113.5 87 L114.5 87 L115.5 87.2 L116.5 87.3 L117.5 87.4 L118.5 87.5 L119.5 87.7 L120.5 87.8 L121.5 88 L122.5 88.1 L123.5 88.2 L124.5 88.3 L125.5 88.5 L126.5 88.6 L127.5 88.7 L128.5 88.8 L129.5 88.9 L130.5 88.9 L131.5 89 L132.5 89.1 L133.5 89.1 L134.5 89.2 L135.5 89.2 L136.5 89.3 L137.5 89.3 L138.5 89.3 L139.5 89.3 L140.5 89.3 L141.5 89.3 L142.5 89.4 L143.5 89.4 L144.5 89.4 L145.5 89.4 L146.5 89.3 L147.5 89.3 L148.5 89.3" stroke="#22ccdd" stroke-width="0.8" fill="none"/>
<path d="M104.5 90.2 L105.5 90.2 L106.5 90.1 L107.5 90.1 L108.5 90.1 L109.5 90 L110.5 90 L111.5 89.9 L112.5 89.9 L113.5 89.8 L114.5 89.7 L115.5 89.7 L116.5 89.6 L117.5 89.5 L118.5 89.3 L119.5 89.2 L120.5 89.1 L121.5 88.9 L122.5 88.7 L123.5 88.6 L124.5 88.4 L125.5 88.1 L126.5 87.9 L127.5 87.7 L128.5 87.4 L129.5 87.2 L130.5 86.9 L131.5 86.7 L132.5 86.5 L133.5 86.3 L134.5 86.1 L135.5 85.9 L136.5 85.8 L137.5 85.7 L138.5 85.7 L139.5 85.7 L140.5 85.7 L141.5 85.8 L142.5 85.9 L143.5 86.1 L144.5 86.2 L145.5 86.4 L146.5 86.6 L147.5 86.8 L148.5 87 L149.5 87.2 L150.5 87.4 L151.5 87.6 L152.5 87.8 L153.5 88 L154.5 88.1 L155.5 88.2 L156.5 88.4 L157.5 88.5 L158.5 88.6 L159.5 88.6 L160.5 88.7 L161.5 88.7 L162.5 88.8 L163.5 88.8 L164.5 88.8 L165.5 88.9 L166.5 88.9 L167.5 88.9 L168.5 88.9 L169.5 88.9 L170.5 88.9 L171.5 88.9 L172.5 88.9 L172.5 89 L171.5 89 L170.5 89 L169.5 89.1 L168.5 89.1 L167.5 89.1 L166.5 89.1 L165.5 89.1 L164.5 89.2 L163.5 89.2 L162.5 89.2 L161.5 89.2 L160.5 89.2 L159.5 89.3 L158.5 89.3 L157.5 89.3 L156.5 89.3 L155.5 89.3 L154.5 89.4 L153.5 89.4 L152.5 89.4 L151.5 89.4 L150.5 89.4 L149.5 89.5 L148.5 89.5 L147.5 89.5 L146.5 89.5 L145.5 89.5 L144.5 89.6 L143.5 89.6 L142.5 89.6 L141.5 89.6 L140.5 89.6 L139.5 89.7 L138.5 89.7 L137.5 89.7 L136.5 89.7 L135.5 89.7 L134.5 89.8 L133.5 89.8 L132.5 89.8 L131.5 89.8 L130.5 89.8 L129.5 89.9 L128.5 89.9 L127.5 89.9 L126.5 89.9 L125.5 89.9 L124.5 90 L123.5 90 L122.5 90 L121.5 90 L120.5 90 L119.5 90 L118.5 90.1 L117.5 90.1 L116.5 90.1 L115.5 90.1 L114.5 90.1 L113.5 90.2 L112.5 90.2 L111.5 90.2 L110.5 90.2 L109.5 90.2 L108.5 90.3 L107.5 90.3 L106.5 90.3 L105.5 90.3 L104.5 90.3 Z" fill="url(#g9)" stroke="none"/>
<path d="M104.5 90.2 L105.5 90.2 L106.5 90.1 L107.5 90.1 L108.5 90.1 L109.5 90 L110.5 90 L111.5 89.9 L112.5 89.9 L113.5 89.8 L114.5 89.7 L115.5 89.7 L116.5 89.6 L117.5 89.5 L118.5 89.3 L119.5 89.2 L120.5 89.1 L121.5 88.9 L122.5 88.7 L123.5 88.6 L124.5 88.4 L125.5 88.1 L126.5 87.9 L127.5 87.7 L128.5 87.4 L129.5 87.2 L130.5 86.9 L131.5 86.7 L132.5 86.5 L133.5 86.3 L134.5 86.1 L135.5 85.9 L136.5 85.8 L137.5 85.7 L138.5 85.7 L139.5 85.7 L140.5 85.7 L141.5 85.8 L142.5 85.9 L143.5 86.1 L144.5 86.2 L145.5 86.4 L146.5 86.6 L147.5 86.8 L148.5 87 L149.5 87.2 L150.5 87.4 L151.5 87.6 L152.5 87.8 L153.5 88 L154.5 88.1 L155.5 88.2 L156.5 88.4 L157.5 88.5 L158.5 88.6 L159.5 88.6 L160.5 88.7 L161.5 88.7 L162.5 88.8 L163.5 88.8 L164.5 88.8 L165.5 88.9 L166.5 88.9 L167.5 88.9 L168.5 88.9 L169.5 88.9 L170.5 88.9 L171.5 88.9 L172.5 88.9" stroke="#ee22ee" stroke-width="0.8" fill="none"/>
<path d="M103.5 90.2 L104.5 90.2 L105.5 90.2 L106.5 90.1 L107.5 90.1 L108.5 90.1 L109.5 90 L110.5 90 L111.5 89.9 L112.5 89.9 L113.5 89.8 L114.5 89.8 L115.5 89.7 L116.5 89.6 L117.5 89.5 L118.5 89.4 L119.5 89.3 L120.5 89.2 L121.5 89.1 L122.5 88.9 L123.5 88.8 L124.5 88.6 L125.5 88.4 L126.5 88.2 L127.5 88 L128.5 87.8 L129.5 87.5 L130.5 87.3 L131.5 87 L132.5 86.8 L133.5 86.5 L134.5 86.3 L135.5 86 L136.5 85.8 L137.5 85.6 L138.5 85.4 L139.5 85.3 L140.5 85.2 L141.5 85.1 L142.5 85.1 L143.5 85.1 L144.5 85.2 L145.5 85.3 L146.5 85.4 L147.5 85.5 L148.5 85.7 L149.5 85.9 L150.5 86.1 L151.5 86.3 L152.5 86.5 L153.5 86.7 L154.5 87 L155.5 87.2 L156.5 87.3 L157.5 87.5 L158.5 87.7 L159.5 87.9 L160.5 88 L161.5 88.1 L162.5 88.2 L163.5 88.3 L164.5 88.4 L165.5 88.5 L166.5 88.5 L167.5 88.6 L168.5 88.6 L169.5 88.7 L170.5 88.7 L171.5 88.7 L172.5 88.7 L173.5 88.7 L174.5 88.7 L175.5 88.7 L176.5 88.7 L177.5 88.7 L178.5 88.7 L179.5 88.7 L180.5 88.7 L180.5 88.8 L179.5 88.9 L178.5 88.9 L177.5 88.9 L176.5 88.9 L175.5 88.9 L174.5 89 L173.5 89 L172.5 89 L171.5 89 L170.5 89 L169.5 89.1 L168.5 89.1 L167.5 89.1 L166.5 89.1 L165.5 89.1 L164.5 89.2 L163.5 89.2 L162.5 89.2 L161.5 89.2 L160.5 89.2 L159.5 89.3 L158.5 89.3 L157.5 89.3 L156.5 89.3 L155.5 89.3 L154.5 89.4 L153.5 89.4 L152.5 89.4 L151.5 89.4 L150.5 89.4 L149.5 89.5 L148.5 89.5 L147.5 89.5 L146.5 89.5 L145.5 89.5 L144.5 89.6 L143.5 89.6 L142.5 89.6 L141.5 89.6 L140.5 89.6 L139.5 89.7 L138.5 89.7 L137.5 89.7 L136.5 89.7 L135.5 89.7 L134.5 89.8 L133.5 89.8 L132.5 89.8 L131.5 89.8 L130.5 89.8 L129.5 89.9 L128.5 89.9 L127.5 89.9 L126.5 89.9 L125.5 89.9 L124.5 90 L123.5 90 L122.5 90 L121.5 90 L120.5 90 L119.5 90 L118.5 90.1 L117.5 90.1 L116.5 90.1 L115.5 90.1 L114.5 90.1 L113.5 90.2 L112.5 90.2 L111.5 90.2 L110.5 90.2 L109.5 90.2 L108.5 90.3 L107.5 90.3 L106.5 90.3 L105.5 90.3 L104.5 90.3 L103.5 90.4 Z" fill="url(#g10)" stroke="none"/>
<path d="M103.5 90.2 L104.5 90.2 L105.5 90.2 L106.5 90.1 L107.5 90.1 L108.5 90.1 L109.5 90 L110.5 90 L111.5 89.9 L112.5 89.9 L113.5 89.8 L114.5 89.8 L115.5 89.7 L116.5 89.6 L117.5 89.5 L118.5 89.4 L119.5 89.3 L120.5 89.2 L121.5 89.1 L122.5 88.9 L123.5 88.8 L124.5 88.6 L125.5 88.4 L126.5 88.2 L127.5 88 L128.5 87.8 L129.5 87.5 L130.5 87.3 L131.5 87 L132.5 86.8 L133.5 86.5 L134.5 86.3 L135.5 86 L136.5 85.8 L137.5 85.6 L138.5 85.4 L139.5 85.3 L140.5 85.2 L141.5 85.1 L142.5 85.1 L143.5 85.1 L144.5 85.2 L145.5 85.3 L146.5 85.4 L147.5 85.5 L148.5 85.7 L149.5 85.9 L150.5 86.1 L151.5 86.3 L152.5 86.5 L153.5 86.7 L154.5 87 L155.5 87.2 L156.5 87.3 L157.5 87.5 L158.5 87.7 L159.5 87.9 L160.5 88 L161.5 88.1 L162.5 88.2 L163.5 88.3 L164.5 88.4 L165.5 88.5 L166.5 88.5 L167.5 88.6 L168.5 88.6 L169.5 88.7 L170.5 88.7 L171.5 88.7 L172.5 88.7 L173.5 88.7 L174.5 88.7 L175.5 88.7 L176.5 88.7 L177.5 88.7 L178.5 88.7 L179.5 88.7 L180.5 88.7" stroke="#2a9a3a" stroke-width="0.8" fill="none"/>
<path d="M126.5 89.8 L127.5 89.7 L128.5 89.7 L129.5 89.7 L130.5 89.7 L131.5 89.6 L132.5 89.6 L133.5 89.6 L134.5 89.5 L135.5 89.5 L136.5 89.5 L137.5 89.4 L138.5 89.4 L139.5 89.3 L140.5 89.3 L141.5 89.2 L142.5 89.2 L143.5 89.1 L144.5 89.1 L145.5 89 L146.5 88.9 L147.5 88.8 L148.5 88.7 L149.5 88.6 L150.5 88.5 L151.5 88.4 L152.5 88.3 L153.5 88.2 L154.5 88 L155.5 87.9 L156.5 87.7 L157.5 87.6 L158.5 87.4 L159.5 87.2 L160.5 87 L161.5 86.8 L162.5 86.6 L163.5 86.4 L164.5 86.2 L165.5 86 L166.5 85.7 L167.5 85.5 L168.5 85.3 L169.5 85.1 L170.5 84.9 L171.5 84.7 L172.5 84.5 L173.5 84.4 L174.5 84.2 L175.5 84.1 L176.5 84 L177.5 83.9 L178.5 83.9 L179.5 83.9 L180.5 83.9 L181.5 83.9 L182.5 84 L183.5 84.1 L184.5 84.2 L185.5 84.3 L186.5 84.4 L187.5 84.6 L188.5 84.7 L189.5 84.9 L190.5 85.1 L191.5 85.3 L192.5 85.4 L193.5 85.6 L194.5 85.8 L195.5 86 L196.5 86.1 L197.5 86.3 L198.5 86.4 L199.5 86.6 L200.5 86.7 L201.5 86.8 L202.5 87 L203.5 87.1 L204.5 87.2 L205.5 87.3 L206.5 87.3 L207.5 87.4 L208.5 87.5 L209.5 87.5 L210.5 87.6 L211.5 87.6 L212.5 87.7 L213.5 87.7 L214.5 87.7 L215.5 87.7 L216.5 87.8 L217.5 87.8 L218.5 87.8 L219.5 87.8 L220.5 87.8 L221.5 87.8 L222.5 87.8 L223.5 87.8 L224.5 87.8 L225.5 87.8 L226.5 87.8 L227.5 87.7 L228.5 87.7 L229.5 87.7 L230.5 87.7 L231.5 87.7 L231.5 87.8 L230.5 87.9 L229.5 87.9 L228.5 87.9 L227.5 87.9 L226.5 87.9 L225.5 88 L224.5 88 L223.5 88 L222.5 88 L221.5 88 L220.5 88.1 L219.5 88.1 L218.5 88.1 L217.5 88.1 L216.5 88.1 L215.5 88.2 L214.5 88.2 L213.5 88.2 L212.5 88.2 L211.5 88.2 L210.5 88.3 L209.5 88.3 L208.5 88.3 L207.5 88.3 L206.5 88.3 L205.5 88.4 L204.5 88.4 L203.5 88.4 L202.5 88.4 L201.5 88.4 L200.5 88.5 L199.5 88.5 L198.5 88.5 L197.5 88.5 L196.5 88.5 L195.5 88.6 L194.5 88.6 L193.5 88.6 L192.5 88.6 L191.5 88.6 L190.5 88.6 L189.5 88.7 L188.5 88.7 L187.5 88.7 L186.5 88.7 L185.5 88.7 L184.5 88.8 L183.5 88.8 L182.5 88.8 L181.5 88.8 L180.5 88.8 L179.5 88.9 L178.5 88.9 L177.5 88.9 L176.5 88.9 L175.5 88.9 L174.5 89 L173.5 89 L172.5 89 L171.5 89 L170.5 89 L169.5 89.1 L168.5 89.1 L167.5 89.1 L166.5 89.1 L165.5 89.1 L164.5 89.2 L163.5 89.2 L162.5 89.2 L161.5 89.2 L160.5 89.2 L159.5 89.3 L158.5 89.3 L157.5 89.3 L156.5 89.3 L155.5 89.3 L154.5 89.4 L153.5 89.4 L152.5 89.4 L151.5 89.4 L150.5 89.4 L149.5 89.5 L148.5 89.5 L147.5 89.5 L146.5 89.5 L145.5 89.5 L144.5 89.6 L143.5 89.6 L142.5 89.6 L141.5 89.6 L140.5 89.6 L139.5 89.7 L138.5 89.7 L137.5 89.7 L136.5 89.7 L135.5 89.7 L134.5 89.8 L133.5 89.8 L132.5 89.8 L131.5 89.8 L130.5 89.8 L129.5 89.9 L128.5 89.9 L127.5 89.9 L126.5 89.9 Z" fill="url(#g11)" stroke="none"/>
<path d="M126.5 89.8 L127.5 89.7 L128.5 89.7 L129.5 89.7 L130.5 89.7 L131.5 89.6 L132.5 89.6 L133.5 89.6 L134.5 89.5 L135.5 89.5 L136.5 89.5 L137.5 89.4 L138.5 89.4 L139.5 89.3 L140.5 89.3 L141.5 89.2 L142.5 89.2 L143.5 89.1 L144.5 89.1 L145.5 89 L146.5 88.9 L147.5 88.8 L148.5 88.7 L149.5 88.6 L150.5 88.5 L151.5 88.4 L152.5 88.3 L153.5 88.2 L154.5 88 L155.5 87.9 L156.5 87.7 L157.5 87.6 L158.5 87.4 L159.5 87.2 L160.5 87 L161.5 86.8 L162.5 86.6 L163.5 86.4 L164.5 86.2 L165.5 86 L166.5 85.7 L167.5 85.5 L168.5 85.3 L169.5 85.1 L170.5 84.9 L171.5 84.7 L172.5 84.5 L173.5 84.4 L174.5 84.2 L175.5 84.1 L176.5 84 L177.5 83.9 L178.5 83.9 L179.5 83.9 L180.5 83.9 L181.5 83.9 L182.5 84 L183.5 84.1 L184.5 84.2 L185.5 84.3 L186.5 84.4 L187.5 84.6 L188.5 84.7 L189.5 84.9 L190.5 85.1 L191.5 85.3 L192.5 85.4 L193.5 85.6 L194.5 85.8 L195.5 86 L196.5 86.1 L197.5 86.3 L198.5 86.4 L199.5 86.6 L200.5 86.7 L201.5 86.8 L202.5 87 L203.5 87.1 L204.5 87.2 L205.5 87.3 L206.5 87.3 L207.5 87.4 L208.5 87.5 L209.5 87.5 L210.5 87.6 L211.5 87.6 L212.5 87.7 L213.5 87.7 L214.5 87.7 L215.5 87.7 L216.5 87.8 L217.5 87.8 L218.5 87.8 L219.5 87.8 L220.5 87.8 L221.5 87.8 L222.5 87.8 L223.5 87.8 L224.5 87.8 L225.5 87.8 L226.5 87.8 L227.5 87.7 L228.5 87.7 L229.5 87.7 L230.5 87.7 L231.5 87.7" stroke="#22ccdd" stroke-width="0.8" fill="none"/>
<path d="M162.5 89.1 L163.5 89 L164.5 89 L165.5 89 L166.5 88.9 L167.5 88.9 L168.5 88.9 L169.5 88.9 L170.5 88.8 L171.5 88.8 L172.5 88.7 L173.5 88.7 L174.5 88.7 L175.5 88.6 L176.5 88.6 L177.5 88.5 L178.5 88.4 L179.5 88.4 L180.5 88.3 L181.5 88.2 L182.5 88.1 L183.5 88 L184.5 87.9 L185.5 87.7 L186.5 87.6 L187.5 87.4 L188.5 87.3 L189.5 87.1 L190.5 86.8 L191.5 86.6 L192.5 86.4 L193.5 86.1 L194.5 85.8 L195.5 85.6 L196.5 85.3 L197.5 84.9 L198.5 84.6 L199.5 84.3 L200.5 84 L201.5 83.7 L202.5 83.4 L203.5 83.2 L204.5 82.9 L205.5 82.7 L206.5 82.5 L207.5 82.4 L208.5 82.3 L209.5 82.3 L210.5 82.3 L211.5 82.3 L212.5 82.4 L213.5 82.6 L214.5 82.7 L215.5 82.9 L216.5 83.2 L217.5 83.4 L218.5 83.7 L219.5 83.9 L220.5 84.2 L221.5 84.5 L222.5 84.7 L223.5 85 L224.5 85.2 L225.5 85.5 L226.5 85.7 L227.5 85.9 L228.5 86.1 L229.5 86.3 L230.5 86.4 L231.5 86.6 L232.5 86.7 L233.5 86.8 L234.5 86.9 L235.5 87 L236.5 87 L237.5 87.1 L238.5 87.1 L239.5 87.2 L240.5 87.2 L241.5 87.2 L242.5 87.3 L243.5 87.3 L244.5 87.3 L245.5 87.3 L246.5 87.3 L247.5 87.3 L248.5 87.3 L249.5 87.3 L250.5 87.3 L251.5 87.3 L252.5 87.2 L253.5 87.2 L253.9 87.2 L253.9 87.4 L253.5 87.4 L252.5 87.4 L251.5 87.4 L250.5 87.5 L249.5 87.5 L248.5 87.5 L247.5 87.5 L246.5 87.5 L245.5 87.6 L244.5 87.6 L243.5 87.6 L242.5 87.6 L241.5 87.6 L240.5 87.7 L239.5 87.7 L238.5 87.7 L237.5 87.7 L236.5 87.7 L235.5 87.8 L234.5 87.8 L233.5 87.8 L232.5 87.8 L231.5 87.8 L230.5 87.9 L229.5 87.9 L228.5 87.9 L227.5 87.9 L226.5 87.9 L225.5 88 L224.5 88 L223.5 88 L222.5 88 L221.5 88 L220.5 88.1 L219.5 88.1 L218.5 88.1 L217.5 88.1 L216.5 88.1 L215.5 88.2 L214.5 88.2 L213.5 88.2 L212.5 88.2 L211.5 88.2 L210.5 88.3 L209.5 88.3 L208.5 88.3 L207.5 88.3 L206.5 88.3 L205.5 88.4 L204.5 88.4 L203.5 88.4 L202.5 88.4 L201.5 88.4 L200.5 88.5 L199.5 88.5 L198.5 88.5 L197.5 88.5 L196.5 88.5 L195.5 88.6 L194.5 88.6 L193.5 88.6 L192.5 88.6 L191.5 88.6 L190.5 88.6 L189.5 88.7 L188.5 88.7 L187.5 88.7 L186.5 88.7 L185.5 88.7 L184.5 88.8 L183.5 88.8 L182.5 88.8 L181.5 88.8 L180.5 88.8 L179.5 88.9 L178.5 88.9 L177.5 88.9 L176.5 88.9 L175.5 88.9 L174.5 89 L173.5 89 L172.5 89 L171.5 89 L170.5 89 L169.5 89.1 L168.5 89.1 L167.5 89.1 L166.5 89.1 L165.5 89.1 L164.5 89.2 L163.5 89.2 L162.5 89.2 Z" fill="url(#g12)" stroke="none"/>
<path d="M162.5 89.1 L163.5 89 L164.5 89 L165.5 89 L166.5 88.9 L167.5 88.9 L168.5 88.9 L169.5 88.9 L170.5 88.8 L171.5 88.8 L172.5 88.7 L173.5 88.7 L174.5 88.7 L175.5 88.6 L176.5 88.6 L177.5 88.5 L178.5 88.4 L179.5 88.4 L180.5 88.3 L181.5 88.2 L182.5 88.1 L183.5 88 L184.5 87.9 L185.5 87.7 L186.5 87.6 L187.5 87.4 L188.5 87.3 L189.5 87.1 L190.5 86.8 L191.5 86.6 L192.5 86.4 L193.5 86.1 L194.5 85.8 L195.5 85.6 L196.5 85.3 L197.5 84.9 L198.5 84.6 L199.5 84.3 L200.5 84 L201.5 83.7 L202.5 83.4 L203.5 83.2 L204.5 82.9 L205.5 82.7 L206.5 82.5 L207.5 82.4 L208.5 82.3 L209.5 82.3 L210.5 82.3 L211.5 82.3 L212.5 82.4 L213.5 82.6 L214.5 82.7 L215.5 82.9 L216.5 83.2 L217.5 83.4 L218.5 83.7 L219.5 83.9 L220.5 84.2 L221.5 84.5 L222.5 84.7 L223.5 85 L224.5 85.2 L225.5 85.5 L226.5 85.7 L227.5 85.9 L228.5 86.1 L229.5 86.3 L230.5 86.4 L231.5 86.6 L232.5 86.7 L233.5 86.8 L234.5 86.9 L235.5 87 L236.5 87 L237.5 87.1 L238.5 87.1 L239.5 87.2 L240.5 87.2 L241.5 87.2 L242.5 87.3 L243.5 87.3 L244.5 87.3 L245.5 87.3 L246.5 87.3 L247.5 87.3 L248.5 87.3 L249.5 87.3 L250.5 87.3 L251.5 87.3 L252.5 87.2 L253.5 87.2 L253.9 87.2" stroke="#2a9a3a" stroke-width="0.8" fill="none"/>
<path d="M20.5 93 L253.9 88.4" stroke="#9a9cff" stroke-width="0.7" fill="none" opacity="0.8"/>
<path d="M20.5 92 L253.9 87.4" stroke="#e438e4" stroke-width="1.3" fill="none"/>
<path d="M20.5 91.3 L23.2 91.2 L26.9 91 L31.3 90.8 L36 90.6 L40.7 90.3 L45 90 L49 89.6 L52.9 89.2 L56.8 88.8 L60.6 88.3 L64.4 87.9 L68 87.6 L71.5 87.4 L74.9 87.2 L78.1 87.1 L81.4 87.1 L84.7 86.9 L88 86.8 L91.5 86.6 L95 86.4 L98.6 86.2 L102.1 86 L105.5 85.7 L108.7 85.4 L111.7 85.1 L114.5 84.7 L117.2 84.3 L119.9 83.9 L122.5 83.4 L125 83 L127.4 82.5 L129.7 81.9 L131.9 81.2 L134.2 80.7 L136.6 80.3 L139.3 80.3 L142.3 80.7 L145.7 81.5 L149.1 82.4 L152.7 83.4 L156.2 84.2 L159.6 84.6 L162.9 84.6 L166.3 84.2 L169.7 83.7 L173 83.1 L176.1 82.6 L179 82.3 L181.6 82.3 L184 82.4 L186.2 82.6 L188.4 82.9 L190.6 83.1 L193 83.1 L195.5 82.9 L198 82.6 L200.5 82.2 L203.2 81.9 L206.1 81.7 L209.2 81.8 L212.7 82.3 L216.5 83.1 L220.5 84.1 L224.6 85.1 L228.6 86 L232.5 86.6 L236.4 86.9 L240.6 87.1 L244.7 87.1 L248.4 87.1 L251.6 87.1 L253.9 87.1" stroke="#e8605a" stroke-width="1.15" fill="none" stroke-linejoin="round" stroke-linecap="round" />
<path d="M41.5 118.9 L42.5 118.9 L43.5 118.8 L44.5 118.8 L45.5 118.7 L46.5 118.7 L47.5 118.6 L48.5 118.5 L49.5 118.5 L50.5 118.4 L51.5 118.3 L52.5 118.2 L53.5 118.1 L54.5 118 L55.5 117.9 L56.5 117.8 L57.5 117.7 L58.5 117.6 L59.5 117.5 L60.5 117.4 L61.5 117.3 L62.5 117.2 L63.5 117.1 L64.5 117.1 L65.5 117 L66.5 117 L67.5 116.9 L68.5 116.9 L69.5 116.9 L70.5 116.9 L71.5 116.9 L72.5 116.9 L73.5 117 L74.5 117 L75.5 117 L76.5 117.1 L77.5 117.1 L78.5 117.2 L79.5 117.2 L80.5 117.3 L81.5 117.3 L82.5 117.4 L83.5 117.4 L84.5 117.5 L85.5 117.5 L86.5 117.5 L87.5 117.5 L88.5 117.6 L89.5 117.6 L90.5 117.6 L91.5 117.6 L92.5 117.6 L93.5 117.6 L94.5 117.6 L94.5 117.7 L93.5 117.8 L92.5 117.8 L91.5 117.8 L90.5 117.8 L89.5 117.9 L88.5 117.9 L87.5 117.9 L86.5 117.9 L85.5 118 L84.5 118 L83.5 118 L82.5 118 L81.5 118.1 L80.5 118.1 L79.5 118.1 L78.5 118.1 L77.5 118.2 L76.5 118.2 L75.5 118.2 L74.5 118.2 L73.5 118.3 L72.5 118.3 L71.5 118.3 L70.5 118.3 L69.5 118.4 L68.5 118.4 L67.5 118.4 L66.5 118.4 L65.5 118.5 L64.5 118.5 L63.5 118.5 L62.5 118.5 L61.5 118.6 L60.5 118.6 L59.5 118.6 L58.5 118.6 L57.5 118.7 L56.5 118.7 L55.5 118.7 L54.5 118.7 L53.5 118.8 L52.5 118.8 L51.5 118.8 L50.5 118.8 L49.5 118.9 L48.5 118.9 L47.5 118.9 L46.5 118.9 L45.5 119 L44.5 119 L43.5 119 L42.5 119 L41.5 119.1 Z" fill="url(#g13)" stroke="none"/>
<path d="M41.5 118.9 L42.5 118.9 L43.5 118.8 L44.5 118.8 L45.5 118.7 L46.5 118.7 L47.5 118.6 L48.5 118.5 L49.5 118.5 L50.5 118.4 L51.5 118.3 L52.5 118.2 L53.5 118.1 L54.5 118 L55.5 117.9 L56.5 117.8 L57.5 117.7 L58.5 117.6 L59.5 117.5 L60.5 117.4 L61.5 117.3 L62.5 117.2 L63.5 117.1 L64.5 117.1 L65.5 117 L66.5 117 L67.5 116.9 L68.5 116.9 L69.5 116.9 L70.5 116.9 L71.5 116.9 L72.5 116.9 L73.5 117 L74.5 117 L75.5 117 L76.5 117.1 L77.5 117.1 L78.5 117.2 L79.5 117.2 L80.5 117.3 L81.5 117.3 L82.5 117.4 L83.5 117.4 L84.5 117.5 L85.5 117.5 L86.5 117.5 L87.5 117.5 L88.5 117.6 L89.5 117.6 L90.5 117.6 L91.5 117.6 L92.5 117.6 L93.5 117.6 L94.5 117.6" stroke="#ee22ee" stroke-width="0.8" fill="none"/>
<path d="M72.5 118.1 L73.5 118.1 L74.5 118.1 L75.5 118 L76.5 118 L77.5 117.9 L78.5 117.9 L79.5 117.8 L80.5 117.8 L81.5 117.7 L82.5 117.6 L83.5 117.6 L84.5 117.5 L85.5 117.4 L86.5 117.3 L87.5 117.2 L88.5 117.1 L89.5 117 L90.5 116.9 L91.5 116.8 L92.5 116.6 L93.5 116.5 L94.5 116.4 L95.5 116.2 L96.5 116.1 L97.5 116 L98.5 115.8 L99.5 115.7 L100.5 115.6 L101.5 115.4 L102.5 115.3 L103.5 115.2 L104.5 115.1 L105.5 115 L106.5 115 L107.5 114.9 L108.5 114.9 L109.5 114.9 L110.5 114.9 L111.5 114.9 L112.5 114.9 L113.5 115 L114.5 115 L115.5 115.1 L116.5 115.2 L117.5 115.2 L118.5 115.3 L119.5 115.4 L120.5 115.5 L121.5 115.6 L122.5 115.7 L123.5 115.7 L124.5 115.8 L125.5 115.9 L126.5 116 L127.5 116 L128.5 116.1 L129.5 116.1 L130.5 116.2 L131.5 116.2 L132.5 116.3 L133.5 116.3 L134.5 116.3 L135.5 116.3 L136.5 116.3 L137.5 116.4 L138.5 116.4 L139.5 116.4 L140.5 116.4 L141.5 116.4 L142.5 116.3 L143.5 116.3 L144.5 116.3 L144.5 116.5 L143.5 116.5 L142.5 116.5 L141.5 116.5 L140.5 116.6 L139.5 116.6 L138.5 116.6 L137.5 116.6 L136.5 116.7 L135.5 116.7 L134.5 116.7 L133.5 116.7 L132.5 116.8 L131.5 116.8 L130.5 116.8 L129.5 116.8 L128.5 116.9 L127.5 116.9 L126.5 116.9 L125.5 116.9 L124.5 117 L123.5 117 L122.5 117 L121.5 117 L120.5 117.1 L119.5 117.1 L118.5 117.1 L117.5 117.1 L116.5 117.2 L115.5 117.2 L114.5 117.2 L113.5 117.2 L112.5 117.3 L111.5 117.3 L110.5 117.3 L109.5 117.4 L108.5 117.4 L107.5 117.4 L106.5 117.4 L105.5 117.5 L104.5 117.5 L103.5 117.5 L102.5 117.5 L101.5 117.6 L100.5 117.6 L99.5 117.6 L98.5 117.6 L97.5 117.7 L96.5 117.7 L95.5 117.7 L94.5 117.7 L93.5 117.8 L92.5 117.8 L91.5 117.8 L90.5 117.8 L89.5 117.9 L88.5 117.9 L87.5 117.9 L86.5 117.9 L85.5 118 L84.5 118 L83.5 118 L82.5 118 L81.5 118.1 L80.5 118.1 L79.5 118.1 L78.5 118.1 L77.5 118.2 L76.5 118.2 L75.5 118.2 L74.5 118.2 L73.5 118.3 L72.5 118.3 Z" fill="url(#g14)" stroke="none"/>
<path d="M72.5 118.1 L73.5 118.1 L74.5 118.1 L75.5 118 L76.5 118 L77.5 117.9 L78.5 117.9 L79.5 117.8 L80.5 117.8 L81.5 117.7 L82.5 117.6 L83.5 117.6 L84.5 117.5 L85.5 117.4 L86.5 117.3 L87.5 117.2 L88.5 117.1 L89.5 117 L90.5 116.9 L91.5 116.8 L92.5 116.6 L93.5 116.5 L94.5 116.4 L95.5 116.2 L96.5 116.1 L97.5 116 L98.5 115.8 L99.5 115.7 L100.5 115.6 L101.5 115.4 L102.5 115.3 L103.5 115.2 L104.5 115.1 L105.5 115 L106.5 115 L107.5 114.9 L108.5 114.9 L109.5 114.9 L110.5 114.9 L111.5 114.9 L112.5 114.9 L113.5 115 L114.5 115 L115.5 115.1 L116.5 115.2 L117.5 115.2 L118.5 115.3 L119.5 115.4 L120.5 115.5 L121.5 115.6 L122.5 115.7 L123.5 115.7 L124.5 115.8 L125.5 115.9 L126.5 116 L127.5 116 L128.5 116.1 L129.5 116.1 L130.5 116.2 L131.5 116.2 L132.5 116.3 L133.5 116.3 L134.5 116.3 L135.5 116.3 L136.5 116.3 L137.5 116.4 L138.5 116.4 L139.5 116.4 L140.5 116.4 L141.5 116.4 L142.5 116.3 L143.5 116.3 L144.5 116.3" stroke="#22ccdd" stroke-width="0.8" fill="none"/>
<path d="M110.5 117.2 L111.5 117.1 L112.5 117.1 L113.5 117 L114.5 117 L115.5 116.9 L116.5 116.9 L117.5 116.8 L118.5 116.7 L119.5 116.6 L120.5 116.5 L121.5 116.4 L122.5 116.2 L123.5 116.1 L124.5 115.9 L125.5 115.8 L126.5 115.6 L127.5 115.4 L128.5 115.2 L129.5 115 L130.5 114.8 L131.5 114.6 L132.5 114.4 L133.5 114.2 L134.5 114 L135.5 113.9 L136.5 113.7 L137.5 113.7 L138.5 113.6 L139.5 113.6 L140.5 113.6 L141.5 113.7 L142.5 113.8 L143.5 113.9 L144.5 114.1 L145.5 114.2 L146.5 114.4 L147.5 114.5 L148.5 114.7 L149.5 114.8 L150.5 115 L151.5 115.1 L152.5 115.2 L153.5 115.3 L154.5 115.4 L155.5 115.5 L156.5 115.6 L157.5 115.6 L158.5 115.7 L159.5 115.7 L160.5 115.7 L161.5 115.8 L162.5 115.8 L163.5 115.8 L164.5 115.8 L165.5 115.8 L166.5 115.8 L166.5 115.9 L165.5 115.9 L164.5 116 L163.5 116 L162.5 116 L161.5 116 L160.5 116.1 L159.5 116.1 L158.5 116.1 L157.5 116.1 L156.5 116.2 L155.5 116.2 L154.5 116.2 L153.5 116.2 L152.5 116.3 L151.5 116.3 L150.5 116.3 L149.5 116.3 L148.5 116.4 L147.5 116.4 L146.5 116.4 L145.5 116.4 L144.5 116.5 L143.5 116.5 L142.5 116.5 L141.5 116.5 L140.5 116.6 L139.5 116.6 L138.5 116.6 L137.5 116.6 L136.5 116.7 L135.5 116.7 L134.5 116.7 L133.5 116.7 L132.5 116.8 L131.5 116.8 L130.5 116.8 L129.5 116.8 L128.5 116.9 L127.5 116.9 L126.5 116.9 L125.5 116.9 L124.5 117 L123.5 117 L122.5 117 L121.5 117 L120.5 117.1 L119.5 117.1 L118.5 117.1 L117.5 117.1 L116.5 117.2 L115.5 117.2 L114.5 117.2 L113.5 117.2 L112.5 117.3 L111.5 117.3 L110.5 117.3 Z" fill="url(#g15)" stroke="none"/>
<path d="M110.5 117.2 L111.5 117.1 L112.5 117.1 L113.5 117 L114.5 117 L115.5 116.9 L116.5 116.9 L117.5 116.8 L118.5 116.7 L119.5 116.6 L120.5 116.5 L121.5 116.4 L122.5 116.2 L123.5 116.1 L124.5 115.9 L125.5 115.8 L126.5 115.6 L127.5 115.4 L128.5 115.2 L129.5 115 L130.5 114.8 L131.5 114.6 L132.5 114.4 L133.5 114.2 L134.5 114 L135.5 113.9 L136.5 113.7 L137.5 113.7 L138.5 113.6 L139.5 113.6 L140.5 113.6 L141.5 113.7 L142.5 113.8 L143.5 113.9 L144.5 114.1 L145.5 114.2 L146.5 114.4 L147.5 114.5 L148.5 114.7 L149.5 114.8 L150.5 115 L151.5 115.1 L152.5 115.2 L153.5 115.3 L154.5 115.4 L155.5 115.5 L156.5 115.6 L157.5 115.6 L158.5 115.7 L159.5 115.7 L160.5 115.7 L161.5 115.8 L162.5 115.8 L163.5 115.8 L164.5 115.8 L165.5 115.8 L166.5 115.8" stroke="#ee22ee" stroke-width="0.8" fill="none"/>
<path d="M103.5 117.4 L104.5 117.3 L105.5 117.3 L106.5 117.3 L107.5 117.2 L108.5 117.2 L109.5 117.1 L110.5 117.1 L111.5 117 L112.5 117 L113.5 116.9 L114.5 116.8 L115.5 116.8 L116.5 116.7 L117.5 116.6 L118.5 116.5 L119.5 116.4 L120.5 116.3 L121.5 116.1 L122.5 116 L123.5 115.8 L124.5 115.6 L125.5 115.4 L126.5 115.2 L127.5 115 L128.5 114.8 L129.5 114.5 L130.5 114.3 L131.5 114 L132.5 113.8 L133.5 113.5 L134.5 113.2 L135.5 113 L136.5 112.8 L137.5 112.6 L138.5 112.4 L139.5 112.2 L140.5 112.1 L141.5 112.1 L142.5 112 L143.5 112 L144.5 112.1 L145.5 112.2 L146.5 112.3 L147.5 112.4 L148.5 112.6 L149.5 112.8 L150.5 113 L151.5 113.2 L152.5 113.4 L153.5 113.6 L154.5 113.8 L155.5 114 L156.5 114.2 L157.5 114.4 L158.5 114.5 L159.5 114.7 L160.5 114.8 L161.5 114.9 L162.5 115 L163.5 115.1 L164.5 115.2 L165.5 115.3 L166.5 115.3 L167.5 115.4 L168.5 115.4 L169.5 115.4 L170.5 115.5 L171.5 115.5 L172.5 115.5 L173.5 115.5 L174.5 115.5 L175.5 115.5 L176.5 115.5 L177.5 115.5 L178.5 115.4 L179.5 115.4 L180.5 115.4 L180.5 115.6 L179.5 115.6 L178.5 115.6 L177.5 115.6 L176.5 115.7 L175.5 115.7 L174.5 115.7 L173.5 115.7 L172.5 115.8 L171.5 115.8 L170.5 115.8 L169.5 115.8 L168.5 115.9 L167.5 115.9 L166.5 115.9 L165.5 115.9 L164.5 116 L163.5 116 L162.5 116 L161.5 116 L160.5 116.1 L159.5 116.1 L158.5 116.1 L157.5 116.1 L156.5 116.2 L155.5 116.2 L154.5 116.2 L153.5 116.2 L152.5 116.3 L151.5 116.3 L150.5 116.3 L149.5 116.3 L148.5 116.4 L147.5 116.4 L146.5 116.4 L145.5 116.4 L144.5 116.5 L143.5 116.5 L142.5 116.5 L141.5 116.5 L140.5 116.6 L139.5 116.6 L138.5 116.6 L137.5 116.6 L136.5 116.7 L135.5 116.7 L134.5 116.7 L133.5 116.7 L132.5 116.8 L131.5 116.8 L130.5 116.8 L129.5 116.8 L128.5 116.9 L127.5 116.9 L126.5 116.9 L125.5 116.9 L124.5 117 L123.5 117 L122.5 117 L121.5 117 L120.5 117.1 L119.5 117.1 L118.5 117.1 L117.5 117.1 L116.5 117.2 L115.5 117.2 L114.5 117.2 L113.5 117.2 L112.5 117.3 L111.5 117.3 L110.5 117.3 L109.5 117.4 L108.5 117.4 L107.5 117.4 L106.5 117.4 L105.5 117.5 L104.5 117.5 L103.5 117.5 Z" fill="url(#g16)" stroke="none"/>
<path d="M103.5 117.4 L104.5 117.3 L105.5 117.3 L106.5 117.3 L107.5 117.2 L108.5 117.2 L109.5 117.1 L110.5 117.1 L111.5 117 L112.5 117 L113.5 116.9 L114.5 116.8 L115.5 116.8 L116.5 116.7 L117.5 116.6 L118.5 116.5 L119.5 116.4 L120.5 116.3 L121.5 116.1 L122.5 116 L123.5 115.8 L124.5 115.6 L125.5 115.4 L126.5 115.2 L127.5 115 L128.5 114.8 L129.5 114.5 L130.5 114.3 L131.5 114 L132.5 113.8 L133.5 113.5 L134.5 113.2 L135.5 113 L136.5 112.8 L137.5 112.6 L138.5 112.4 L139.5 112.2 L140.5 112.1 L141.5 112.1 L142.5 112 L143.5 112 L144.5 112.1 L145.5 112.2 L146.5 112.3 L147.5 112.4 L148.5 112.6 L149.5 112.8 L150.5 113 L151.5 113.2 L152.5 113.4 L153.5 113.6 L154.5 113.8 L155.5 114 L156.5 114.2 L157.5 114.4 L158.5 114.5 L159.5 114.7 L160.5 114.8 L161.5 114.9 L162.5 115 L163.5 115.1 L164.5 115.2 L165.5 115.3 L166.5 115.3 L167.5 115.4 L168.5 115.4 L169.5 115.4 L170.5 115.5 L171.5 115.5 L172.5 115.5 L173.5 115.5 L174.5 115.5 L175.5 115.5 L176.5 115.5 L177.5 115.5 L178.5 115.4 L179.5 115.4 L180.5 115.4" stroke="#2a9a3a" stroke-width="0.8" fill="none"/>
<path d="M129.5 116.7 L130.5 116.7 L131.5 116.6 L132.5 116.6 L133.5 116.6 L134.5 116.5 L135.5 116.5 L136.5 116.4 L137.5 116.4 L138.5 116.4 L139.5 116.3 L140.5 116.3 L141.5 116.2 L142.5 116.1 L143.5 116.1 L144.5 116 L145.5 115.9 L146.5 115.9 L147.5 115.8 L148.5 115.7 L149.5 115.6 L150.5 115.5 L151.5 115.4 L152.5 115.3 L153.5 115.1 L154.5 115 L155.5 114.9 L156.5 114.7 L157.5 114.6 L158.5 114.4 L159.5 114.2 L160.5 114.1 L161.5 113.9 L162.5 113.7 L163.5 113.5 L164.5 113.3 L165.5 113.2 L166.5 113 L167.5 112.8 L168.5 112.6 L169.5 112.4 L170.5 112.3 L171.5 112.1 L172.5 112 L173.5 111.9 L174.5 111.8 L175.5 111.7 L176.5 111.7 L177.5 111.6 L178.5 111.6 L179.5 111.6 L180.5 111.7 L181.5 111.7 L182.5 111.8 L183.5 111.8 L184.5 111.9 L185.5 112 L186.5 112.2 L187.5 112.3 L188.5 112.4 L189.5 112.5 L190.5 112.7 L191.5 112.8 L192.5 112.9 L193.5 113.1 L194.5 113.2 L195.5 113.3 L196.5 113.4 L197.5 113.5 L198.5 113.7 L199.5 113.7 L200.5 113.8 L201.5 113.9 L202.5 114 L203.5 114.1 L204.5 114.1 L205.5 114.2 L206.5 114.2 L207.5 114.3 L208.5 114.3 L209.5 114.3 L210.5 114.3 L211.5 114.4 L212.5 114.4 L213.5 114.4 L214.5 114.4 L215.5 114.4 L216.5 114.4 L217.5 114.4 L218.5 114.4 L219.5 114.4 L220.5 114.3 L221.5 114.3 L222.5 114.3 L223.5 114.3 L224.5 114.3 L225.5 114.3 L225.5 114.4 L224.5 114.4 L223.5 114.5 L222.5 114.5 L221.5 114.5 L220.5 114.5 L219.5 114.6 L218.5 114.6 L217.5 114.6 L216.5 114.6 L215.5 114.7 L214.5 114.7 L213.5 114.7 L212.5 114.7 L211.5 114.8 L210.5 114.8 L209.5 114.8 L208.5 114.8 L207.5 114.9 L206.5 114.9 L205.5 114.9 L204.5 114.9 L203.5 115 L202.5 115 L201.5 115 L200.5 115 L199.5 115.1 L198.5 115.1 L197.5 115.1 L196.5 115.2 L195.5 115.2 L194.5 115.2 L193.5 115.2 L192.5 115.3 L191.5 115.3 L190.5 115.3 L189.5 115.3 L188.5 115.4 L187.5 115.4 L186.5 115.4 L185.5 115.4 L184.5 115.5 L183.5 115.5 L182.5 115.5 L181.5 115.5 L180.5 115.6 L179.5 115.6 L178.5 115.6 L177.5 115.6 L176.5 115.7 L175.5 115.7 L174.5 115.7 L173.5 115.7 L172.5 115.8 L171.5 115.8 L170.5 115.8 L169.5 115.8 L168.5 115.9 L167.5 115.9 L166.5 115.9 L165.5 115.9 L164.5 116 L163.5 116 L162.5 116 L161.5 116 L160.5 116.1 L159.5 116.1 L158.5 116.1 L157.5 116.1 L156.5 116.2 L155.5 116.2 L154.5 116.2 L153.5 116.2 L152.5 116.3 L151.5 116.3 L150.5 116.3 L149.5 116.3 L148.5 116.4 L147.5 116.4 L146.5 116.4 L145.5 116.4 L144.5 116.5 L143.5 116.5 L142.5 116.5 L141.5 116.5 L140.5 116.6 L139.5 116.6 L138.5 116.6 L137.5 116.6 L136.5 116.7 L135.5 116.7 L134.5 116.7 L133.5 116.7 L132.5 116.8 L131.5 116.8 L130.5 116.8 L129.5 116.8 Z" fill="url(#g17)" stroke="none"/>
<path d="M129.5 116.7 L130.5 116.7 L131.5 116.6 L132.5 116.6 L133.5 116.6 L134.5 116.5 L135.5 116.5 L136.5 116.4 L137.5 116.4 L138.5 116.4 L139.5 116.3 L140.5 116.3 L141.5 116.2 L142.5 116.1 L143.5 116.1 L144.5 116 L145.5 115.9 L146.5 115.9 L147.5 115.8 L148.5 115.7 L149.5 115.6 L150.5 115.5 L151.5 115.4 L152.5 115.3 L153.5 115.1 L154.5 115 L155.5 114.9 L156.5 114.7 L157.5 114.6 L158.5 114.4 L159.5 114.2 L160.5 114.1 L161.5 113.9 L162.5 113.7 L163.5 113.5 L164.5 113.3 L165.5 113.2 L166.5 113 L167.5 112.8 L168.5 112.6 L169.5 112.4 L170.5 112.3 L171.5 112.1 L172.5 112 L173.5 111.9 L174.5 111.8 L175.5 111.7 L176.5 111.7 L177.5 111.6 L178.5 111.6 L179.5 111.6 L180.5 111.7 L181.5 111.7 L182.5 111.8 L183.5 111.8 L184.5 111.9 L185.5 112 L186.5 112.2 L187.5 112.3 L188.5 112.4 L189.5 112.5 L190.5 112.7 L191.5 112.8 L192.5 112.9 L193.5 113.1 L194.5 113.2 L195.5 113.3 L196.5 113.4 L197.5 113.5 L198.5 113.7 L199.5 113.7 L200.5 113.8 L201.5 113.9 L202.5 114 L203.5 114.1 L204.5 114.1 L205.5 114.2 L206.5 114.2 L207.5 114.3 L208.5 114.3 L209.5 114.3 L210.5 114.3 L211.5 114.4 L212.5 114.4 L213.5 114.4 L214.5 114.4 L215.5 114.4 L216.5 114.4 L217.5 114.4 L218.5 114.4 L219.5 114.4 L220.5 114.3 L221.5 114.3 L222.5 114.3 L223.5 114.3 L224.5 114.3 L225.5 114.3" stroke="#22ccdd" stroke-width="0.8" fill="none"/>
<path d="M168.5 115.7 L169.5 115.7 L170.5 115.6 L171.5 115.6 L172.5 115.6 L173.5 115.5 L174.5 115.5 L175.5 115.4 L176.5 115.4 L177.5 115.3 L178.5 115.3 L179.5 115.2 L180.5 115.2 L181.5 115.1 L182.5 115 L183.5 114.9 L184.5 114.8 L185.5 114.7 L186.5 114.6 L187.5 114.5 L188.5 114.3 L189.5 114.2 L190.5 114 L191.5 113.8 L192.5 113.7 L193.5 113.5 L194.5 113.2 L195.5 113 L196.5 112.8 L197.5 112.6 L198.5 112.3 L199.5 112.1 L200.5 111.8 L201.5 111.6 L202.5 111.4 L203.5 111.2 L204.5 110.9 L205.5 110.8 L206.5 110.6 L207.5 110.5 L208.5 110.4 L209.5 110.3 L210.5 110.3 L211.5 110.3 L212.5 110.4 L213.5 110.4 L214.5 110.5 L215.5 110.7 L216.5 110.8 L217.5 111 L218.5 111.2 L219.5 111.4 L220.5 111.5 L221.5 111.7 L222.5 111.9 L223.5 112.1 L224.5 112.3 L225.5 112.5 L226.5 112.6 L227.5 112.8 L228.5 112.9 L229.5 113 L230.5 113.1 L231.5 113.2 L232.5 113.3 L233.5 113.4 L234.5 113.5 L235.5 113.5 L236.5 113.6 L237.5 113.6 L238.5 113.6 L239.5 113.7 L240.5 113.7 L241.5 113.7 L242.5 113.7 L243.5 113.7 L244.5 113.7 L245.5 113.7 L246.5 113.7 L247.5 113.7 L248.5 113.7 L249.5 113.6 L250.5 113.6 L251.5 113.6 L251.5 113.8 L250.5 113.8 L249.5 113.8 L248.5 113.8 L247.5 113.9 L246.5 113.9 L245.5 113.9 L244.5 113.9 L243.5 114 L242.5 114 L241.5 114 L240.5 114 L239.5 114.1 L238.5 114.1 L237.5 114.1 L236.5 114.1 L235.5 114.2 L234.5 114.2 L233.5 114.2 L232.5 114.2 L231.5 114.3 L230.5 114.3 L229.5 114.3 L228.5 114.3 L227.5 114.4 L226.5 114.4 L225.5 114.4 L224.5 114.4 L223.5 114.5 L222.5 114.5 L221.5 114.5 L220.5 114.5 L219.5 114.6 L218.5 114.6 L217.5 114.6 L216.5 114.6 L215.5 114.7 L214.5 114.7 L213.5 114.7 L212.5 114.7 L211.5 114.8 L210.5 114.8 L209.5 114.8 L208.5 114.8 L207.5 114.9 L206.5 114.9 L205.5 114.9 L204.5 114.9 L203.5 115 L202.5 115 L201.5 115 L200.5 115 L199.5 115.1 L198.5 115.1 L197.5 115.1 L196.5 115.2 L195.5 115.2 L194.5 115.2 L193.5 115.2 L192.5 115.3 L191.5 115.3 L190.5 115.3 L189.5 115.3 L188.5 115.4 L187.5 115.4 L186.5 115.4 L185.5 115.4 L184.5 115.5 L183.5 115.5 L182.5 115.5 L181.5 115.5 L180.5 115.6 L179.5 115.6 L178.5 115.6 L177.5 115.6 L176.5 115.7 L175.5 115.7 L174.5 115.7 L173.5 115.7 L172.5 115.8 L171.5 115.8 L170.5 115.8 L169.5 115.8 L168.5 115.9 Z" fill="url(#g18)" stroke="none"/>
<path d="M168.5 115.7 L169.5 115.7 L170.5 115.6 L171.5 115.6 L172.5 115.6 L173.5 115.5 L174.5 115.5 L175.5 115.4 L176.5 115.4 L177.5 115.3 L178.5 115.3 L179.5 115.2 L180.5 115.2 L181.5 115.1 L182.5 115 L183.5 114.9 L184.5 114.8 L185.5 114.7 L186.5 114.6 L187.5 114.5 L188.5 114.3 L189.5 114.2 L190.5 114 L191.5 113.8 L192.5 113.7 L193.5 113.5 L194.5 113.2 L195.5 113 L196.5 112.8 L197.5 112.6 L198.5 112.3 L199.5 112.1 L200.5 111.8 L201.5 111.6 L202.5 111.4 L203.5 111.2 L204.5 110.9 L205.5 110.8 L206.5 110.6 L207.5 110.5 L208.5 110.4 L209.5 110.3 L210.5 110.3 L211.5 110.3 L212.5 110.4 L213.5 110.4 L214.5 110.5 L215.5 110.7 L216.5 110.8 L217.5 111 L218.5 111.2 L219.5 111.4 L220.5 111.5 L221.5 111.7 L222.5 111.9 L223.5 112.1 L224.5 112.3 L225.5 112.5 L226.5 112.6 L227.5 112.8 L228.5 112.9 L229.5 113 L230.5 113.1 L231.5 113.2 L232.5 113.3 L233.5 113.4 L234.5 113.5 L235.5 113.5 L236.5 113.6 L237.5 113.6 L238.5 113.6 L239.5 113.7 L240.5 113.7 L241.5 113.7 L242.5 113.7 L243.5 113.7 L244.5 113.7 L245.5 113.7 L246.5 113.7 L247.5 113.7 L248.5 113.7 L249.5 113.6 L250.5 113.6 L251.5 113.6" stroke="#2a9a3a" stroke-width="0.8" fill="none"/>
<path d="M20.5 120.6 L253.9 114.7" stroke="#9a9cff" stroke-width="0.7" fill="none" opacity="0.8"/>
<path d="M20.5 119.6 L253.9 113.7" stroke="#e438e4" stroke-width="1.3" fill="none"/>
<path d="M20.5 119 L23.2 118.9 L26.9 118.9 L31.3 118.8 L36 118.7 L40.7 118.6 L45 118.4 L48.9 118.2 L52.8 117.9 L56.7 117.5 L60.5 117.2 L64.2 116.9 L68 116.6 L71.8 116.4 L75.6 116.2 L79.3 116 L83 115.9 L86.6 115.7 L90 115.5 L93.3 115.2 L96.5 114.9 L99.5 114.6 L102.5 114.3 L105.3 114 L108 113.8 L110.5 113.7 L112.8 113.6 L115 113.6 L117.1 113.6 L119.4 113.5 L121.8 113.2 L124.4 112.6 L127 111.8 L129.7 110.9 L132.5 110 L135.4 109.4 L138.5 109.1 L141.8 109.3 L145.3 109.9 L149 110.7 L152.7 111.5 L156.2 112.2 L159.6 112.5 L162.8 112.4 L165.8 112 L168.8 111.5 L171.7 110.9 L174.5 110.4 L177.3 110.2 L180 110.2 L182.6 110.5 L185.1 110.8 L187.6 111.1 L190.1 111.4 L192.8 111.4 L195.5 111.2 L198.2 110.8 L201 110.2 L203.8 109.7 L206.8 109.4 L210 109.3 L213.5 109.5 L217.1 110 L221 110.6 L224.9 111.3 L228.8 111.9 L232.5 112.3 L236.4 112.5 L240.5 112.7 L244.6 112.7 L248.4 112.8 L251.6 112.8 L253.9 112.8" stroke="#e8605a" stroke-width="1.15" fill="none" stroke-linejoin="round" stroke-linecap="round" />
<path d="M20.5 183.9 L20.5 183.9 L21.5 183.9 L22.5 183.9 L23.5 183.9 L24.5 183.8 L25.5 183.8 L26.5 183.8 L27.5 183.8 L28.5 183.7 L29.5 183.7 L30.5 183.7 L31.5 183.6 L32.5 183.5 L33.5 183.5 L34.5 183.4 L35.5 183.3 L36.5 183.2 L37.5 183 L38.5 182.9 L39.5 182.7 L40.5 182.5 L41.5 182.2 L42.5 182 L43.5 181.7 L44.5 181.3 L45.5 180.9 L46.5 180.5 L47.5 180 L48.5 179.5 L49.5 178.9 L50.5 178.2 L51.5 177.6 L52.5 176.8 L53.5 176.1 L54.5 175.2 L55.5 174.4 L56.5 173.5 L57.5 172.6 L58.5 171.7 L59.5 170.8 L60.5 169.9 L61.5 169.1 L62.5 168.3 L63.5 167.6 L64.5 167 L65.5 166.5 L66.5 166.2 L67.5 166 L68.5 166 L69.5 166.2 L70.5 166.5 L71.5 166.9 L72.5 167.5 L73.5 168.2 L74.5 169 L75.5 169.9 L76.5 170.8 L77.5 171.7 L78.5 172.6 L79.5 173.6 L80.5 174.5 L81.5 175.4 L82.5 176.3 L83.5 177.1 L84.5 177.9 L85.5 178.6 L86.5 179.3 L87.5 180 L88.5 180.6 L89.5 181.1 L90.5 181.6 L91.5 182 L92.5 182.4 L93.5 182.8 L94.5 183.1 L95.5 183.4 L96.5 183.7 L97.5 183.9 L98.5 184.1 L99.5 184.3 L100.5 184.5 L101.5 184.6 L102.5 184.7 L103.5 184.8 L104.5 184.9 L105.5 185 L106.5 185.1 L107.5 185.2 L108.5 185.3 L109.5 185.3 L110.5 185.4 L111.5 185.5 L112.5 185.5 L113.5 185.6 L114.5 185.6 L115.5 185.7 L116.5 185.7 L117.5 185.8 L118.5 185.8 L119.5 185.9 L120.5 185.9 L121.5 185.9 L122.5 186 L123.5 186 L124.5 186 L125.5 186.1 L126.5 186.1 L127.5 186.2 L128.5 186.2 L129.5 186.2 L130.5 186.3 L131.5 186.3 L132.5 186.3 L133.5 186.3 L134.5 186.4 L135.5 186.4 L136.5 186.4 L137.5 186.5 L138.5 186.5 L139.5 186.5 L140.5 186.5 L141.5 186.6 L142.5 186.6 L143.5 186.6 L144.5 186.7 L145.5 186.7 L146.5 186.7 L147.5 186.7 L148.5 186.8 L149.5 186.8 L150.5 186.8 L151.5 186.8 L152.5 186.9 L153.5 186.9 L154.5 186.9 L155.5 186.9 L156.5 186.9 L157.5 187 L158.5 187 L159.5 187 L160.5 187 L161.5 187.1 L162.5 187.1 L163.5 187.1 L164.5 187.1 L165.5 187.2 L166.5 187.2 L167.5 187.2 L168.5 187.2 L169.5 187.2 L170.5 187.3 L171.5 187.3 L172.5 187.3 L173.5 187.3 L174.5 187.4 L174.5 187.5 L173.5 187.5 L172.5 187.5 L171.5 187.4 L170.5 187.4 L169.5 187.4 L168.5 187.4 L167.5 187.4 L166.5 187.4 L165.5 187.3 L164.5 187.3 L163.5 187.3 L162.5 187.3 L161.5 187.3 L160.5 187.2 L159.5 187.2 L158.5 187.2 L157.5 187.2 L156.5 187.2 L155.5 187.1 L154.5 187.1 L153.5 187.1 L152.5 187.1 L151.5 187.1 L150.5 187.1 L149.5 187 L148.5 187 L147.5 187 L146.5 187 L145.5 187 L144.5 186.9 L143.5 186.9 L142.5 186.9 L141.5 186.9 L140.5 186.9 L139.5 186.8 L138.5 186.8 L137.5 186.8 L136.5 186.8 L135.5 186.8 L134.5 186.7 L133.5 186.7 L132.5 186.7 L131.5 186.7 L130.5 186.7 L129.5 186.7 L128.5 186.6 L127.5 186.6 L126.5 186.6 L125.5 186.6 L124.5 186.6 L123.5 186.5 L122.5 186.5 L121.5 186.5 L120.5 186.5 L119.5 186.5 L118.5 186.4 L117.5 186.4 L116.5 186.4 L115.5 186.4 L114.5 186.4 L113.5 186.4 L112.5 186.3 L111.5 186.3 L110.5 186.3 L109.5 186.3 L108.5 186.3 L107.5 186.2 L106.5 186.2 L105.5 186.2 L104.5 186.2 L103.5 186.2 L102.5 186.1 L101.5 186.1 L100.5 186.1 L99.5 186.1 L98.5 186.1 L97.5 186.1 L96.5 186 L95.5 186 L94.5 186 L93.5 186 L92.5 186 L91.5 185.9 L90.5 185.9 L89.5 185.9 L88.5 185.9 L87.5 185.9 L86.5 185.8 L85.5 185.8 L84.5 185.8 L83.5 185.8 L82.5 185.8 L81.5 185.7 L80.5 185.7 L79.5 185.7 L78.5 185.7 L77.5 185.7 L76.5 185.7 L75.5 185.6 L74.5 185.6 L73.5 185.6 L72.5 185.6 L71.5 185.6 L70.5 185.5 L69.5 185.5 L68.5 185.5 L67.5 185.5 L66.5 185.5 L65.5 185.4 L64.5 185.4 L63.5 185.4 L62.5 185.4 L61.5 185.4 L60.5 185.4 L59.5 185.3 L58.5 185.3 L57.5 185.3 L56.5 185.3 L55.5 185.3 L54.5 185.2 L53.5 185.2 L52.5 185.2 L51.5 185.2 L50.5 185.2 L49.5 185.1 L48.5 185.1 L47.5 185.1 L46.5 185.1 L45.5 185.1 L44.5 185.1 L43.5 185 L42.5 185 L41.5 185 L40.5 185 L39.5 185 L38.5 184.9 L37.5 184.9 L36.5 184.9 L35.5 184.9 L34.5 184.9 L33.5 184.8 L32.5 184.8 L31.5 184.8 L30.5 184.8 L29.5 184.8 L28.5 184.8 L27.5 184.7 L26.5 184.7 L25.5 184.7 L24.5 184.7 L23.5 184.7 L22.5 184.6 L21.5 184.6 L20.5 184.6 L20.5 184.6 Z" fill="url(#g19)" stroke="none"/>
<path d="M20.5 183.9 L20.5 183.9 L21.5 183.9 L22.5 183.9 L23.5 183.9 L24.5 183.8 L25.5 183.8 L26.5 183.8 L27.5 183.8 L28.5 183.7 L29.5 183.7 L30.5 183.7 L31.5 183.6 L32.5 183.5 L33.5 183.5 L34.5 183.4 L35.5 183.3 L36.5 183.2 L37.5 183 L38.5 182.9 L39.5 182.7 L40.5 182.5 L41.5 182.2 L42.5 182 L43.5 181.7 L44.5 181.3 L45.5 180.9 L46.5 180.5 L47.5 180 L48.5 179.5 L49.5 178.9 L50.5 178.2 L51.5 177.6 L52.5 176.8 L53.5 176.1 L54.5 175.2 L55.5 174.4 L56.5 173.5 L57.5 172.6 L58.5 171.7 L59.5 170.8 L60.5 169.9 L61.5 169.1 L62.5 168.3 L63.5 167.6 L64.5 167 L65.5 166.5 L66.5 166.2 L67.5 166 L68.5 166 L69.5 166.2 L70.5 166.5 L71.5 166.9 L72.5 167.5 L73.5 168.2 L74.5 169 L75.5 169.9 L76.5 170.8 L77.5 171.7 L78.5 172.6 L79.5 173.6 L80.5 174.5 L81.5 175.4 L82.5 176.3 L83.5 177.1 L84.5 177.9 L85.5 178.6 L86.5 179.3 L87.5 180 L88.5 180.6 L89.5 181.1 L90.5 181.6 L91.5 182 L92.5 182.4 L93.5 182.8 L94.5 183.1 L95.5 183.4 L96.5 183.7 L97.5 183.9 L98.5 184.1 L99.5 184.3 L100.5 184.5 L101.5 184.6 L102.5 184.7 L103.5 184.8 L104.5 184.9 L105.5 185 L106.5 185.1 L107.5 185.2 L108.5 185.3 L109.5 185.3 L110.5 185.4 L111.5 185.5 L112.5 185.5 L113.5 185.6 L114.5 185.6 L115.5 185.7 L116.5 185.7 L117.5 185.8 L118.5 185.8 L119.5 185.9 L120.5 185.9 L121.5 185.9 L122.5 186 L123.5 186 L124.5 186 L125.5 186.1 L126.5 186.1 L127.5 186.2 L128.5 186.2 L129.5 186.2 L130.5 186.3 L131.5 186.3 L132.5 186.3 L133.5 186.3 L134.5 186.4 L135.5 186.4 L136.5 186.4 L137.5 186.5 L138.5 186.5 L139.5 186.5 L140.5 186.5 L141.5 186.6 L142.5 186.6 L143.5 186.6 L144.5 186.7 L145.5 186.7 L146.5 186.7 L147.5 186.7 L148.5 186.8 L149.5 186.8 L150.5 186.8 L151.5 186.8 L152.5 186.9 L153.5 186.9 L154.5 186.9 L155.5 186.9 L156.5 186.9 L157.5 187 L158.5 187 L159.5 187 L160.5 187 L161.5 187.1 L162.5 187.1 L163.5 187.1 L164.5 187.1 L165.5 187.2 L166.5 187.2 L167.5 187.2 L168.5 187.2 L169.5 187.2 L170.5 187.3 L171.5 187.3 L172.5 187.3 L173.5 187.3 L174.5 187.4" stroke="#ee22ee" stroke-width="0.8" fill="none"/>
<path d="M37.5 184.8 L38.5 184.8 L39.5 184.8 L40.5 184.8 L41.5 184.8 L42.5 184.8 L43.5 184.9 L44.5 184.9 L45.5 184.9 L46.5 184.9 L47.5 184.9 L48.5 184.9 L49.5 184.9 L50.5 184.9 L51.5 184.9 L52.5 185 L53.5 185 L54.5 185 L55.5 185 L56.5 185 L57.5 185 L58.5 185 L59.5 185 L60.5 185 L61.5 185 L62.5 185 L63.5 185 L64.5 185 L65.5 185 L66.5 185 L67.5 185 L68.5 185 L69.5 185 L70.5 185 L71.5 185 L72.5 185 L73.5 185 L74.5 184.9 L75.5 184.9 L76.5 184.9 L77.5 184.8 L78.5 184.8 L79.5 184.7 L80.5 184.7 L81.5 184.6 L82.5 184.5 L83.5 184.3 L84.5 184.2 L85.5 184 L86.5 183.8 L87.5 183.6 L88.5 183.3 L89.5 182.9 L90.5 182.5 L91.5 182.1 L92.5 181.6 L93.5 181 L94.5 180.4 L95.5 179.8 L96.5 179.1 L97.5 178.4 L98.5 177.6 L99.5 176.9 L100.5 176.2 L101.5 175.6 L102.5 175.2 L103.5 174.8 L104.5 174.7 L105.5 174.8 L106.5 175 L107.5 175.4 L108.5 176 L109.5 176.7 L110.5 177.4 L111.5 178.2 L112.5 179 L113.5 179.7 L114.5 180.4 L115.5 181.1 L116.5 181.7 L117.5 182.3 L118.5 182.8 L119.5 183.3 L120.5 183.7 L121.5 184 L122.5 184.3 L123.5 184.6 L124.5 184.8 L125.5 185 L126.5 185.2 L127.5 185.4 L128.5 185.5 L129.5 185.6 L130.5 185.7 L131.5 185.8 L132.5 185.9 L133.5 186 L134.5 186 L135.5 186.1 L136.5 186.2 L137.5 186.2 L138.5 186.3 L139.5 186.3 L140.5 186.4 L141.5 186.4 L142.5 186.4 L143.5 186.5 L144.5 186.5 L145.5 186.6 L146.5 186.6 L147.5 186.6 L148.5 186.7 L149.5 186.7 L150.5 186.7 L151.5 186.8 L152.5 186.8 L153.5 186.8 L154.5 186.9 L155.5 186.9 L156.5 186.9 L157.5 186.9 L158.5 187 L159.5 187 L160.5 187 L161.5 187 L162.5 187.1 L163.5 187.1 L164.5 187.1 L165.5 187.2 L166.5 187.2 L167.5 187.2 L168.5 187.2 L169.5 187.2 L170.5 187.3 L171.5 187.3 L172.5 187.3 L172.5 187.5 L171.5 187.4 L170.5 187.4 L169.5 187.4 L168.5 187.4 L167.5 187.4 L166.5 187.4 L165.5 187.3 L164.5 187.3 L163.5 187.3 L162.5 187.3 L161.5 187.3 L160.5 187.2 L159.5 187.2 L158.5 187.2 L157.5 187.2 L156.5 187.2 L155.5 187.1 L154.5 187.1 L153.5 187.1 L152.5 187.1 L151.5 187.1 L150.5 187.1 L149.5 187 L148.5 187 L147.5 187 L146.5 187 L145.5 187 L144.5 186.9 L143.5 186.9 L142.5 186.9 L141.5 186.9 L140.5 186.9 L139.5 186.8 L138.5 186.8 L137.5 186.8 L136.5 186.8 L135.5 186.8 L134.5 186.7 L133.5 186.7 L132.5 186.7 L131.5 186.7 L130.5 186.7 L129.5 186.7 L128.5 186.6 L127.5 186.6 L126.5 186.6 L125.5 186.6 L124.5 186.6 L123.5 186.5 L122.5 186.5 L121.5 186.5 L120.5 186.5 L119.5 186.5 L118.5 186.4 L117.5 186.4 L116.5 186.4 L115.5 186.4 L114.5 186.4 L113.5 186.4 L112.5 186.3 L111.5 186.3 L110.5 186.3 L109.5 186.3 L108.5 186.3 L107.5 186.2 L106.5 186.2 L105.5 186.2 L104.5 186.2 L103.5 186.2 L102.5 186.1 L101.5 186.1 L100.5 186.1 L99.5 186.1 L98.5 186.1 L97.5 186.1 L96.5 186 L95.5 186 L94.5 186 L93.5 186 L92.5 186 L91.5 185.9 L90.5 185.9 L89.5 185.9 L88.5 185.9 L87.5 185.9 L86.5 185.8 L85.5 185.8 L84.5 185.8 L83.5 185.8 L82.5 185.8 L81.5 185.7 L80.5 185.7 L79.5 185.7 L78.5 185.7 L77.5 185.7 L76.5 185.7 L75.5 185.6 L74.5 185.6 L73.5 185.6 L72.5 185.6 L71.5 185.6 L70.5 185.5 L69.5 185.5 L68.5 185.5 L67.5 185.5 L66.5 185.5 L65.5 185.4 L64.5 185.4 L63.5 185.4 L62.5 185.4 L61.5 185.4 L60.5 185.4 L59.5 185.3 L58.5 185.3 L57.5 185.3 L56.5 185.3 L55.5 185.3 L54.5 185.2 L53.5 185.2 L52.5 185.2 L51.5 185.2 L50.5 185.2 L49.5 185.1 L48.5 185.1 L47.5 185.1 L46.5 185.1 L45.5 185.1 L44.5 185.1 L43.5 185 L42.5 185 L41.5 185 L40.5 185 L39.5 185 L38.5 184.9 L37.5 184.9 Z" fill="url(#g20)" stroke="none"/>
<path d="M37.5 184.8 L38.5 184.8 L39.5 184.8 L40.5 184.8 L41.5 184.8 L42.5 184.8 L43.5 184.9 L44.5 184.9 L45.5 184.9 L46.5 184.9 L47.5 184.9 L48.5 184.9 L49.5 184.9 L50.5 184.9 L51.5 184.9 L52.5 185 L53.5 185 L54.5 185 L55.5 185 L56.5 185 L57.5 185 L58.5 185 L59.5 185 L60.5 185 L61.5 185 L62.5 185 L63.5 185 L64.5 185 L65.5 185 L66.5 185 L67.5 185 L68.5 185 L69.5 185 L70.5 185 L71.5 185 L72.5 185 L73.5 185 L74.5 184.9 L75.5 184.9 L76.5 184.9 L77.5 184.8 L78.5 184.8 L79.5 184.7 L80.5 184.7 L81.5 184.6 L82.5 184.5 L83.5 184.3 L84.5 184.2 L85.5 184 L86.5 183.8 L87.5 183.6 L88.5 183.3 L89.5 182.9 L90.5 182.5 L91.5 182.1 L92.5 181.6 L93.5 181 L94.5 180.4 L95.5 179.8 L96.5 179.1 L97.5 178.4 L98.5 177.6 L99.5 176.9 L100.5 176.2 L101.5 175.6 L102.5 175.2 L103.5 174.8 L104.5 174.7 L105.5 174.8 L106.5 175 L107.5 175.4 L108.5 176 L109.5 176.7 L110.5 177.4 L111.5 178.2 L112.5 179 L113.5 179.7 L114.5 180.4 L115.5 181.1 L116.5 181.7 L117.5 182.3 L118.5 182.8 L119.5 183.3 L120.5 183.7 L121.5 184 L122.5 184.3 L123.5 184.6 L124.5 184.8 L125.5 185 L126.5 185.2 L127.5 185.4 L128.5 185.5 L129.5 185.6 L130.5 185.7 L131.5 185.8 L132.5 185.9 L133.5 186 L134.5 186 L135.5 186.1 L136.5 186.2 L137.5 186.2 L138.5 186.3 L139.5 186.3 L140.5 186.4 L141.5 186.4 L142.5 186.4 L143.5 186.5 L144.5 186.5 L145.5 186.6 L146.5 186.6 L147.5 186.6 L148.5 186.7 L149.5 186.7 L150.5 186.7 L151.5 186.8 L152.5 186.8 L153.5 186.8 L154.5 186.9 L155.5 186.9 L156.5 186.9 L157.5 186.9 L158.5 187 L159.5 187 L160.5 187 L161.5 187 L162.5 187.1 L163.5 187.1 L164.5 187.1 L165.5 187.2 L166.5 187.2 L167.5 187.2 L168.5 187.2 L169.5 187.2 L170.5 187.3 L171.5 187.3 L172.5 187.3" stroke="#22ccdd" stroke-width="0.8" fill="none"/>
<path d="M20.5 184.3 L20.5 184.3 L21.5 184.3 L22.5 184.3 L23.5 184.3 L24.5 184.4 L25.5 184.4 L26.5 184.4 L27.5 184.4 L28.5 184.4 L29.5 184.4 L30.5 184.4 L31.5 184.4 L32.5 184.5 L33.5 184.5 L34.5 184.5 L35.5 184.5 L36.5 184.5 L37.5 184.5 L38.5 184.5 L39.5 184.5 L40.5 184.5 L41.5 184.6 L42.5 184.6 L43.5 184.6 L44.5 184.6 L45.5 184.6 L46.5 184.6 L47.5 184.6 L48.5 184.6 L49.5 184.6 L50.5 184.6 L51.5 184.6 L52.5 184.6 L53.5 184.7 L54.5 184.7 L55.5 184.7 L56.5 184.7 L57.5 184.7 L58.5 184.7 L59.5 184.7 L60.5 184.7 L61.5 184.7 L62.5 184.7 L63.5 184.7 L64.5 184.7 L65.5 184.7 L66.5 184.7 L67.5 184.7 L68.5 184.7 L69.5 184.7 L70.5 184.7 L71.5 184.7 L72.5 184.6 L73.5 184.6 L74.5 184.6 L75.5 184.6 L76.5 184.6 L77.5 184.6 L78.5 184.6 L79.5 184.5 L80.5 184.5 L81.5 184.5 L82.5 184.5 L83.5 184.4 L84.5 184.4 L85.5 184.4 L86.5 184.4 L87.5 184.3 L88.5 184.3 L89.5 184.2 L90.5 184.2 L91.5 184.1 L92.5 184.1 L93.5 184 L94.5 183.9 L95.5 183.9 L96.5 183.8 L97.5 183.7 L98.5 183.6 L99.5 183.5 L100.5 183.4 L101.5 183.3 L102.5 183.1 L103.5 183 L104.5 182.8 L105.5 182.6 L106.5 182.4 L107.5 182.2 L108.5 182 L109.5 181.7 L110.5 181.5 L111.5 181.1 L112.5 180.8 L113.5 180.4 L114.5 179.9 L115.5 179.4 L116.5 178.9 L117.5 178.2 L118.5 177.5 L119.5 176.7 L120.5 175.8 L121.5 174.7 L122.5 173.5 L123.5 172.1 L124.5 170.6 L125.5 168.9 L126.5 166.9 L127.5 164.8 L128.5 162.4 L129.5 159.9 L130.5 157.1 L131.5 154.2 L132.5 151.3 L133.5 148.4 L134.5 145.8 L135.5 143.7 L136.5 142.1 L137.5 141.4 L138.5 141.5 L139.5 142.4 L140.5 144.2 L141.5 146.5 L142.5 149.2 L143.5 152.1 L144.5 155 L145.5 158 L146.5 160.7 L147.5 163.3 L148.5 165.6 L149.5 167.8 L150.5 169.7 L151.5 171.4 L152.5 173 L153.5 174.3 L154.5 175.5 L155.5 176.6 L156.5 177.6 L157.5 178.4 L158.5 179.2 L159.5 179.8 L160.5 180.4 L161.5 180.9 L162.5 181.4 L163.5 181.8 L164.5 182.2 L165.5 182.6 L166.5 182.9 L167.5 183.2 L168.5 183.4 L169.5 183.7 L170.5 183.9 L171.5 184.1 L172.5 184.3 L173.5 184.5 L174.5 184.7 L175.5 184.8 L176.5 185 L177.5 185.1 L178.5 185.2 L179.5 185.4 L180.5 185.5 L181.5 185.6 L182.5 185.7 L183.5 185.8 L184.5 185.9 L185.5 186 L186.5 186.1 L187.5 186.1 L188.5 186.2 L189.5 186.3 L190.5 186.4 L191.5 186.4 L192.5 186.5 L193.5 186.6 L194.5 186.6 L195.5 186.7 L196.5 186.8 L197.5 186.8 L198.5 186.9 L199.5 186.9 L200.5 187 L201.5 187 L202.5 187.1 L203.5 187.1 L204.5 187.2 L205.5 187.2 L206.5 187.3 L207.5 187.3 L208.5 187.3 L209.5 187.4 L210.5 187.4 L211.5 187.5 L212.5 187.5 L213.5 187.5 L214.5 187.6 L215.5 187.6 L216.5 187.6 L217.5 187.7 L218.5 187.7 L219.5 187.7 L220.5 187.8 L221.5 187.8 L222.5 187.8 L223.5 187.9 L224.5 187.9 L225.5 187.9 L226.5 188 L227.5 188 L228.5 188 L229.5 188.1 L230.5 188.1 L231.5 188.1 L232.5 188.1 L233.5 188.2 L234.5 188.2 L235.5 188.2 L236.5 188.3 L237.5 188.3 L238.5 188.3 L239.5 188.3 L240.5 188.4 L241.5 188.4 L242.5 188.4 L243.5 188.4 L244.5 188.5 L245.5 188.5 L246.5 188.5 L247.5 188.5 L248.5 188.6 L249.5 188.6 L250.5 188.6 L251.5 188.6 L252.5 188.7 L253.5 188.7 L253.9 188.7 L253.9 189 L253.5 189 L252.5 189 L251.5 189 L250.5 188.9 L249.5 188.9 L248.5 188.9 L247.5 188.9 L246.5 188.9 L245.5 188.8 L244.5 188.8 L243.5 188.8 L242.5 188.8 L241.5 188.8 L240.5 188.7 L239.5 188.7 L238.5 188.7 L237.5 188.7 L236.5 188.7 L235.5 188.7 L234.5 188.6 L233.5 188.6 L232.5 188.6 L231.5 188.6 L230.5 188.6 L229.5 188.5 L228.5 188.5 L227.5 188.5 L226.5 188.5 L225.5 188.5 L224.5 188.4 L223.5 188.4 L222.5 188.4 L221.5 188.4 L220.5 188.4 L219.5 188.4 L218.5 188.3 L217.5 188.3 L216.5 188.3 L215.5 188.3 L214.5 188.3 L213.5 188.2 L212.5 188.2 L211.5 188.2 L210.5 188.2 L209.5 188.2 L208.5 188.1 L207.5 188.1 L206.5 188.1 L205.5 188.1 L204.5 188.1 L203.5 188 L202.5 188 L201.5 188 L200.5 188 L199.5 188 L198.5 188 L197.5 187.9 L196.5 187.9 L195.5 187.9 L194.5 187.9 L193.5 187.9 L192.5 187.8 L191.5 187.8 L190.5 187.8 L189.5 187.8 L188.5 187.8 L187.5 187.7 L186.5 187.7 L185.5 187.7 L184.5 187.7 L183.5 187.7 L182.5 187.7 L181.5 187.6 L180.5 187.6 L179.5 187.6 L178.5 187.6 L177.5 187.6 L176.5 187.5 L175.5 187.5 L174.5 187.5 L173.5 187.5 L172.5 187.5 L171.5 187.4 L170.5 187.4 L169.5 187.4 L168.5 187.4 L167.5 187.4 L166.5 187.4 L165.5 187.3 L164.5 187.3 L163.5 187.3 L162.5 187.3 L161.5 187.3 L160.5 187.2 L159.5 187.2 L158.5 187.2 L157.5 187.2 L156.5 187.2 L155.5 187.1 L154.5 187.1 L153.5 187.1 L152.5 187.1 L151.5 187.1 L150.5 187.1 L149.5 187 L148.5 187 L147.5 187 L146.5 187 L145.5 187 L144.5 186.9 L143.5 186.9 L142.5 186.9 L141.5 186.9 L140.5 186.9 L139.5 186.8 L138.5 186.8 L137.5 186.8 L136.5 186.8 L135.5 186.8 L134.5 186.7 L133.5 186.7 L132.5 186.7 L131.5 186.7 L130.5 186.7 L129.5 186.7 L128.5 186.6 L127.5 186.6 L126.5 186.6 L125.5 186.6 L124.5 186.6 L123.5 186.5 L122.5 186.5 L121.5 186.5 L120.5 186.5 L119.5 186.5 L118.5 186.4 L117.5 186.4 L116.5 186.4 L115.5 186.4 L114.5 186.4 L113.5 186.4 L112.5 186.3 L111.5 186.3 L110.5 186.3 L109.5 186.3 L108.5 186.3 L107.5 186.2 L106.5 186.2 L105.5 186.2 L104.5 186.2 L103.5 186.2 L102.5 186.1 L101.5 186.1 L100.5 186.1 L99.5 186.1 L98.5 186.1 L97.5 186.1 L96.5 186 L95.5 186 L94.5 186 L93.5 186 L92.5 186 L91.5 185.9 L90.5 185.9 L89.5 185.9 L88.5 185.9 L87.5 185.9 L86.5 185.8 L85.5 185.8 L84.5 185.8 L83.5 185.8 L82.5 185.8 L81.5 185.7 L80.5 185.7 L79.5 185.7 L78.5 185.7 L77.5 185.7 L76.5 185.7 L75.5 185.6 L74.5 185.6 L73.5 185.6 L72.5 185.6 L71.5 185.6 L70.5 185.5 L69.5 185.5 L68.5 185.5 L67.5 185.5 L66.5 185.5 L65.5 185.4 L64.5 185.4 L63.5 185.4 L62.5 185.4 L61.5 185.4 L60.5 185.4 L59.5 185.3 L58.5 185.3 L57.5 185.3 L56.5 185.3 L55.5 185.3 L54.5 185.2 L53.5 185.2 L52.5 185.2 L51.5 185.2 L50.5 185.2 L49.5 185.1 L48.5 185.1 L47.5 185.1 L46.5 185.1 L45.5 185.1 L44.5 185.1 L43.5 185 L42.5 185 L41.5 185 L40.5 185 L39.5 185 L38.5 184.9 L37.5 184.9 L36.5 184.9 L35.5 184.9 L34.5 184.9 L33.5 184.8 L32.5 184.8 L31.5 184.8 L30.5 184.8 L29.5 184.8 L28.5 184.8 L27.5 184.7 L26.5 184.7 L25.5 184.7 L24.5 184.7 L23.5 184.7 L22.5 184.6 L21.5 184.6 L20.5 184.6 L20.5 184.6 Z" fill="url(#g21)" stroke="none"/>
<path d="M20.5 184.3 L20.5 184.3 L21.5 184.3 L22.5 184.3 L23.5 184.3 L24.5 184.4 L25.5 184.4 L26.5 184.4 L27.5 184.4 L28.5 184.4 L29.5 184.4 L30.5 184.4 L31.5 184.4 L32.5 184.5 L33.5 184.5 L34.5 184.5 L35.5 184.5 L36.5 184.5 L37.5 184.5 L38.5 184.5 L39.5 184.5 L40.5 184.5 L41.5 184.6 L42.5 184.6 L43.5 184.6 L44.5 184.6 L45.5 184.6 L46.5 184.6 L47.5 184.6 L48.5 184.6 L49.5 184.6 L50.5 184.6 L51.5 184.6 L52.5 184.6 L53.5 184.7 L54.5 184.7 L55.5 184.7 L56.5 184.7 L57.5 184.7 L58.5 184.7 L59.5 184.7 L60.5 184.7 L61.5 184.7 L62.5 184.7 L63.5 184.7 L64.5 184.7 L65.5 184.7 L66.5 184.7 L67.5 184.7 L68.5 184.7 L69.5 184.7 L70.5 184.7 L71.5 184.7 L72.5 184.6 L73.5 184.6 L74.5 184.6 L75.5 184.6 L76.5 184.6 L77.5 184.6 L78.5 184.6 L79.5 184.5 L80.5 184.5 L81.5 184.5 L82.5 184.5 L83.5 184.4 L84.5 184.4 L85.5 184.4 L86.5 184.4 L87.5 184.3 L88.5 184.3 L89.5 184.2 L90.5 184.2 L91.5 184.1 L92.5 184.1 L93.5 184 L94.5 183.9 L95.5 183.9 L96.5 183.8 L97.5 183.7 L98.5 183.6 L99.5 183.5 L100.5 183.4 L101.5 183.3 L102.5 183.1 L103.5 183 L104.5 182.8 L105.5 182.6 L106.5 182.4 L107.5 182.2 L108.5 182 L109.5 181.7 L110.5 181.5 L111.5 181.1 L112.5 180.8 L113.5 180.4 L114.5 179.9 L115.5 179.4 L116.5 178.9 L117.5 178.2 L118.5 177.5 L119.5 176.7 L120.5 175.8 L121.5 174.7 L122.5 173.5 L123.5 172.1 L124.5 170.6 L125.5 168.9 L126.5 166.9 L127.5 164.8 L128.5 162.4 L129.5 159.9 L130.5 157.1 L131.5 154.2 L132.5 151.3 L133.5 148.4 L134.5 145.8 L135.5 143.7 L136.5 142.1 L137.5 141.4 L138.5 141.5 L139.5 142.4 L140.5 144.2 L141.5 146.5 L142.5 149.2 L143.5 152.1 L144.5 155 L145.5 158 L146.5 160.7 L147.5 163.3 L148.5 165.6 L149.5 167.8 L150.5 169.7 L151.5 171.4 L152.5 173 L153.5 174.3 L154.5 175.5 L155.5 176.6 L156.5 177.6 L157.5 178.4 L158.5 179.2 L159.5 179.8 L160.5 180.4 L161.5 180.9 L162.5 181.4 L163.5 181.8 L164.5 182.2 L165.5 182.6 L166.5 182.9 L167.5 183.2 L168.5 183.4 L169.5 183.7 L170.5 183.9 L171.5 184.1 L172.5 184.3 L173.5 184.5 L174.5 184.7 L175.5 184.8 L176.5 185 L177.5 185.1 L178.5 185.2 L179.5 185.4 L180.5 185.5 L181.5 185.6 L182.5 185.7 L183.5 185.8 L184.5 185.9 L185.5 186 L186.5 186.1 L187.5 186.1 L188.5 186.2 L189.5 186.3 L190.5 186.4 L191.5 186.4 L192.5 186.5 L193.5 186.6 L194.5 186.6 L195.5 186.7 L196.5 186.8 L197.5 186.8 L198.5 186.9 L199.5 186.9 L200.5 187 L201.5 187 L202.5 187.1 L203.5 187.1 L204.5 187.2 L205.5 187.2 L206.5 187.3 L207.5 187.3 L208.5 187.3 L209.5 187.4 L210.5 187.4 L211.5 187.5 L212.5 187.5 L213.5 187.5 L214.5 187.6 L215.5 187.6 L216.5 187.6 L217.5 187.7 L218.5 187.7 L219.5 187.7 L220.5 187.8 L221.5 187.8 L222.5 187.8 L223.5 187.9 L224.5 187.9 L225.5 187.9 L226.5 188 L227.5 188 L228.5 188 L229.5 188.1 L230.5 188.1 L231.5 188.1 L232.5 188.1 L233.5 188.2 L234.5 188.2 L235.5 188.2 L236.5 188.3 L237.5 188.3 L238.5 188.3 L239.5 188.3 L240.5 188.4 L241.5 188.4 L242.5 188.4 L243.5 188.4 L244.5 188.5 L245.5 188.5 L246.5 188.5 L247.5 188.5 L248.5 188.6 L249.5 188.6 L250.5 188.6 L251.5 188.6 L252.5 188.7 L253.5 188.7 L253.9 188.7" stroke="#ee22ee" stroke-width="0.8" fill="none"/>
<path d="M105.5 186.1 L106.5 186.1 L107.5 186.1 L108.5 186.1 L109.5 186.1 L110.5 186.1 L111.5 186.1 L112.5 186.2 L113.5 186.2 L114.5 186.2 L115.5 186.2 L116.5 186.2 L117.5 186.2 L118.5 186.2 L119.5 186.2 L120.5 186.2 L121.5 186.3 L122.5 186.3 L123.5 186.3 L124.5 186.3 L125.5 186.3 L126.5 186.3 L127.5 186.3 L128.5 186.3 L129.5 186.3 L130.5 186.3 L131.5 186.3 L132.5 186.3 L133.5 186.3 L134.5 186.3 L135.5 186.3 L136.5 186.3 L137.5 186.3 L138.5 186.3 L139.5 186.3 L140.5 186.3 L141.5 186.3 L142.5 186.3 L143.5 186.2 L144.5 186.2 L145.5 186.2 L146.5 186.2 L147.5 186.1 L148.5 186.1 L149.5 186 L150.5 186 L151.5 185.9 L152.5 185.8 L153.5 185.7 L154.5 185.6 L155.5 185.5 L156.5 185.3 L157.5 185.1 L158.5 184.9 L159.5 184.6 L160.5 184.2 L161.5 183.8 L162.5 183.3 L163.5 182.7 L164.5 182 L165.5 181.2 L166.5 180.2 L167.5 179.1 L168.5 177.9 L169.5 176.7 L170.5 175.3 L171.5 174 L172.5 172.8 L173.5 171.9 L174.5 171.2 L175.5 171 L176.5 171.3 L177.5 171.9 L178.5 173 L179.5 174.2 L180.5 175.5 L181.5 176.9 L182.5 178.2 L183.5 179.4 L184.5 180.5 L185.5 181.5 L186.5 182.4 L187.5 183.2 L188.5 183.8 L189.5 184.4 L190.5 184.8 L191.5 185.2 L192.5 185.5 L193.5 185.8 L194.5 186 L195.5 186.2 L196.5 186.4 L197.5 186.6 L198.5 186.7 L199.5 186.8 L200.5 186.9 L201.5 187 L202.5 187.1 L203.5 187.2 L204.5 187.3 L205.5 187.3 L206.5 187.4 L207.5 187.4 L208.5 187.5 L209.5 187.6 L210.5 187.6 L211.5 187.7 L212.5 187.7 L213.5 187.7 L214.5 187.8 L215.5 187.8 L216.5 187.9 L217.5 187.9 L218.5 187.9 L219.5 188 L220.5 188 L221.5 188.1 L222.5 188.1 L223.5 188.1 L224.5 188.1 L225.5 188.2 L226.5 188.2 L227.5 188.2 L228.5 188.3 L229.5 188.3 L230.5 188.3 L231.5 188.3 L232.5 188.4 L233.5 188.4 L234.5 188.4 L235.5 188.5 L236.5 188.5 L237.5 188.5 L238.5 188.5 L239.5 188.6 L240.5 188.6 L241.5 188.6 L242.5 188.6 L243.5 188.6 L244.5 188.7 L245.5 188.7 L245.5 188.8 L244.5 188.8 L243.5 188.8 L242.5 188.8 L241.5 188.8 L240.5 188.7 L239.5 188.7 L238.5 188.7 L237.5 188.7 L236.5 188.7 L235.5 188.7 L234.5 188.6 L233.5 188.6 L232.5 188.6 L231.5 188.6 L230.5 188.6 L229.5 188.5 L228.5 188.5 L227.5 188.5 L226.5 188.5 L225.5 188.5 L224.5 188.4 L223.5 188.4 L222.5 188.4 L221.5 188.4 L220.5 188.4 L219.5 188.4 L218.5 188.3 L217.5 188.3 L216.5 188.3 L215.5 188.3 L214.5 188.3 L213.5 188.2 L212.5 188.2 L211.5 188.2 L210.5 188.2 L209.5 188.2 L208.5 188.1 L207.5 188.1 L206.5 188.1 L205.5 188.1 L204.5 188.1 L203.5 188 L202.5 188 L201.5 188 L200.5 188 L199.5 188 L198.5 188 L197.5 187.9 L196.5 187.9 L195.5 187.9 L194.5 187.9 L193.5 187.9 L192.5 187.8 L191.5 187.8 L190.5 187.8 L189.5 187.8 L188.5 187.8 L187.5 187.7 L186.5 187.7 L185.5 187.7 L184.5 187.7 L183.5 187.7 L182.5 187.7 L181.5 187.6 L180.5 187.6 L179.5 187.6 L178.5 187.6 L177.5 187.6 L176.5 187.5 L175.5 187.5 L174.5 187.5 L173.5 187.5 L172.5 187.5 L171.5 187.4 L170.5 187.4 L169.5 187.4 L168.5 187.4 L167.5 187.4 L166.5 187.4 L165.5 187.3 L164.5 187.3 L163.5 187.3 L162.5 187.3 L161.5 187.3 L160.5 187.2 L159.5 187.2 L158.5 187.2 L157.5 187.2 L156.5 187.2 L155.5 187.1 L154.5 187.1 L153.5 187.1 L152.5 187.1 L151.5 187.1 L150.5 187.1 L149.5 187 L148.5 187 L147.5 187 L146.5 187 L145.5 187 L144.5 186.9 L143.5 186.9 L142.5 186.9 L141.5 186.9 L140.5 186.9 L139.5 186.8 L138.5 186.8 L137.5 186.8 L136.5 186.8 L135.5 186.8 L134.5 186.7 L133.5 186.7 L132.5 186.7 L131.5 186.7 L130.5 186.7 L129.5 186.7 L128.5 186.6 L127.5 186.6 L126.5 186.6 L125.5 186.6 L124.5 186.6 L123.5 186.5 L122.5 186.5 L121.5 186.5 L120.5 186.5 L119.5 186.5 L118.5 186.4 L117.5 186.4 L116.5 186.4 L115.5 186.4 L114.5 186.4 L113.5 186.4 L112.5 186.3 L111.5 186.3 L110.5 186.3 L109.5 186.3 L108.5 186.3 L107.5 186.2 L106.5 186.2 L105.5 186.2 Z" fill="url(#g22)" stroke="none"/>
<path d="M105.5 186.1 L106.5 186.1 L107.5 186.1 L108.5 186.1 L109.5 186.1 L110.5 186.1 L111.5 186.1 L112.5 186.2 L113.5 186.2 L114.5 186.2 L115.5 186.2 L116.5 186.2 L117.5 186.2 L118.5 186.2 L119.5 186.2 L120.5 186.2 L121.5 186.3 L122.5 186.3 L123.5 186.3 L124.5 186.3 L125.5 186.3 L126.5 186.3 L127.5 186.3 L128.5 186.3 L129.5 186.3 L130.5 186.3 L131.5 186.3 L132.5 186.3 L133.5 186.3 L134.5 186.3 L135.5 186.3 L136.5 186.3 L137.5 186.3 L138.5 186.3 L139.5 186.3 L140.5 186.3 L141.5 186.3 L142.5 186.3 L143.5 186.2 L144.5 186.2 L145.5 186.2 L146.5 186.2 L147.5 186.1 L148.5 186.1 L149.5 186 L150.5 186 L151.5 185.9 L152.5 185.8 L153.5 185.7 L154.5 185.6 L155.5 185.5 L156.5 185.3 L157.5 185.1 L158.5 184.9 L159.5 184.6 L160.5 184.2 L161.5 183.8 L162.5 183.3 L163.5 182.7 L164.5 182 L165.5 181.2 L166.5 180.2 L167.5 179.1 L168.5 177.9 L169.5 176.7 L170.5 175.3 L171.5 174 L172.5 172.8 L173.5 171.9 L174.5 171.2 L175.5 171 L176.5 171.3 L177.5 171.9 L178.5 173 L179.5 174.2 L180.5 175.5 L181.5 176.9 L182.5 178.2 L183.5 179.4 L184.5 180.5 L185.5 181.5 L186.5 182.4 L187.5 183.2 L188.5 183.8 L189.5 184.4 L190.5 184.8 L191.5 185.2 L192.5 185.5 L193.5 185.8 L194.5 186 L195.5 186.2 L196.5 186.4 L197.5 186.6 L198.5 186.7 L199.5 186.8 L200.5 186.9 L201.5 187 L202.5 187.1 L203.5 187.2 L204.5 187.3 L205.5 187.3 L206.5 187.4 L207.5 187.4 L208.5 187.5 L209.5 187.6 L210.5 187.6 L211.5 187.7 L212.5 187.7 L213.5 187.7 L214.5 187.8 L215.5 187.8 L216.5 187.9 L217.5 187.9 L218.5 187.9 L219.5 188 L220.5 188 L221.5 188.1 L222.5 188.1 L223.5 188.1 L224.5 188.1 L225.5 188.2 L226.5 188.2 L227.5 188.2 L228.5 188.3 L229.5 188.3 L230.5 188.3 L231.5 188.3 L232.5 188.4 L233.5 188.4 L234.5 188.4 L235.5 188.5 L236.5 188.5 L237.5 188.5 L238.5 188.5 L239.5 188.6 L240.5 188.6 L241.5 188.6 L242.5 188.6 L243.5 188.6 L244.5 188.7 L245.5 188.7" stroke="#22ccdd" stroke-width="0.8" fill="none"/>
<path d="M20.5 185.6 L253.9 190" stroke="#9a9cff" stroke-width="0.7" fill="none" opacity="0.8"/>
<path d="M20.5 184.6 L253.9 189" stroke="#e438e4" stroke-width="1.3" fill="none"/>
<path d="M20.5 182.2 L21.6 182 L23.2 181.8 L25 181.5 L27 181.2 L29 180.8 L30.9 180.4 L32.7 179.9 L34.5 179.3 L36.3 178.7 L38.1 178 L40 177.2 L41.8 176.4 L43.6 175.5 L45.5 174.5 L47.4 173.5 L49.2 172.5 L51 171.5 L52.7 170.5 L54.4 169.6 L56 168.7 L57.5 167.8 L59 166.9 L60.5 166.2 L61.8 165.5 L63 164.9 L64.1 164.4 L65.2 164 L66.2 163.7 L67.2 163.4 L68.2 163.3 L69.2 163.3 L70.3 163.4 L71.3 163.6 L72.3 163.9 L73.4 164.2 L74.5 164.5 L75.7 164.9 L76.9 165.4 L78.2 165.9 L79.5 166.4 L80.7 166.9 L81.8 167.3 L82.8 167.6 L83.6 167.9 L84.4 168.2 L85.3 168.4 L86.2 168.5 L87.3 168.5 L88.6 168.4 L90.1 168.1 L91.6 167.8 L93.2 167.4 L94.8 166.9 L96.4 166.4 L97.9 165.8 L99.5 165 L101.1 164.2 L102.6 163.4 L104.1 162.7 L105.5 162.2 L106.8 161.9 L108.1 161.8 L109.3 161.8 L110.5 161.8 L111.6 161.8 L112.7 161.8 L113.8 161.8 L114.9 161.8 L115.9 161.8 L116.9 161.8 L117.8 161.7 L118.7 161.4 L119.5 161 L120.3 160.5 L121 159.8 L121.6 159.1 L122.3 158.3 L123 157.5 L123.7 156.5 L124.5 155.5 L125.2 154.3 L126 153.2 L126.7 152 L127.3 151 L127.8 150.1 L128.3 149.2 L128.7 148.4 L129.1 147.6 L129.6 146.8 L130 146 L130.5 145.1 L131 144.3 L131.5 143.4 L132 142.5 L132.5 141.7 L133 140.9 L133.4 140.2 L133.9 139.5 L134.3 138.9 L134.7 138.3 L135.1 137.8 L135.5 137.3 L135.9 136.9 L136.3 136.6 L136.8 136.3 L137.2 136.1 L137.6 135.9 L138.1 135.8 L138.6 135.8 L139 135.8 L139.5 135.9 L140 136.1 L140.5 136.3 L141 136.6 L141.6 136.9 L142.1 137.2 L142.7 137.6 L143.3 138.1 L143.9 138.7 L144.6 139.4 L145.3 140.3 L146 141.4 L146.8 142.5 L147.5 143.8 L148.3 145.2 L149 146.6 L149.7 148.2 L150.4 149.9 L151.2 151.8 L151.9 153.6 L152.6 155.3 L153.3 156.7 L154 157.9 L154.7 158.9 L155.4 159.7 L156.1 160.5 L156.8 161.2 L157.6 161.8 L158.5 162.4 L159.5 162.8 L160.5 163.2 L161.5 163.5 L162.5 163.8 L163.4 164 L164.2 164.1 L164.8 164.2 L165.5 164.2 L166.1 164.1 L166.8 164.1 L167.5 164 L168.3 163.9 L169.2 163.7 L170.1 163.5 L171 163.4 L171.9 163.3 L172.8 163.3 L173.6 163.4 L174.4 163.6 L175.2 163.8 L176 164.1 L176.8 164.5 L177.7 165 L178.6 165.6 L179.6 166.4 L180.6 167.2 L181.6 168.1 L182.7 169.1 L183.8 170 L184.9 171 L186.1 172 L187.3 173 L188.5 174 L189.8 175 L191.2 176 L192.6 176.9 L194 177.8 L195.5 178.6 L197.1 179.5 L198.9 180.3 L201 181 L203.4 181.7 L206.1 182.4 L209 183.1 L212 183.7 L215.1 184.2 L218 184.7 L220.9 185.1 L223.7 185.4 L226.6 185.7 L229.5 185.9 L232.4 186.2 L235.4 186.4 L238.6 186.7 L242.2 186.9 L245.7 187.2 L249.1 187.4 L251.9 187.7 L253.9 187.8" stroke="#e8605a" stroke-width="1.15" fill="none" stroke-linejoin="round" stroke-linecap="round" />
<path d="M68.2 33 L68 185" stroke="#e040e0" stroke-width="0.8" stroke-dasharray="1.6 1" fill="none"/>
<path d="M109.6 29 L105 187" stroke="#44bbee" stroke-width="0.8" stroke-dasharray="1.6 1" fill="none"/>
<path d="M138.4 32 L138.2 181" stroke="#e040e0" stroke-width="0.8" stroke-dasharray="1.6 1" fill="none"/>
<path d="M142.2 42 L141.2 191" stroke="#3a9a3a" stroke-width="0.8" stroke-dasharray="1.6 1" fill="none"/>
<path d="M180.1 38 L177 190" stroke="#44bbee" stroke-width="0.8" stroke-dasharray="1.6 1" fill="none"/>
<path d="M213.3 33 L211 191" stroke="#3a9a3a" stroke-width="0.8" stroke-dasharray="1.6 1" fill="none"/>
<rect x="20.5" y="4.5" width="233.4" height="187.8" fill="none" stroke="#3a3a3a" stroke-width="1.2"/>
<path d="M20.5 192.3 v3.5 M62.9 192.3 v3.5 M105.4 192.3 v3.5 M147.8 192.3 v3.5 M190.2 192.3 v3.5 M232.7 192.3 v3.5 M41.7 192.3 v2.2 M84.2 192.3 v2.2 M126.6 192.3 v2.2 M169 192.3 v2.2 M211.5 192.3 v2.2" stroke="#333" stroke-width="1" fill="none"/>
<text transform="translate(20.5 206.9) scale(1 1.12)" font-size="9.7" fill="#1a1a1a" stroke="#1a1a1a" stroke-width="0.2" text-anchor="middle">80</text>
<text transform="translate(62.9 206.9) scale(1 1.12)" font-size="9.7" fill="#1a1a1a" stroke="#1a1a1a" stroke-width="0.2" text-anchor="middle">78</text>
<text transform="translate(105.4 206.9) scale(1 1.12)" font-size="9.7" fill="#1a1a1a" stroke="#1a1a1a" stroke-width="0.2" text-anchor="middle">76</text>
<text transform="translate(147.8 206.9) scale(1 1.12)" font-size="9.7" fill="#1a1a1a" stroke="#1a1a1a" stroke-width="0.2" text-anchor="middle">74</text>
<text transform="translate(190.2 206.9) scale(1 1.12)" font-size="9.7" fill="#1a1a1a" stroke="#1a1a1a" stroke-width="0.2" text-anchor="middle">72</text>
<text transform="translate(232.7 206.9) scale(1 1.12)" font-size="9.7" fill="#1a1a1a" stroke="#1a1a1a" stroke-width="0.2" text-anchor="middle">70</text>
<text x="137.4" y="223.3" font-size="10.5" fill="#1a1a1a" text-anchor="middle"  stroke="#1a1a1a" stroke-width="0.22">Binding Energy (eV)</text>
<text x="11.8" y="98.8" font-size="11" fill="#222" text-anchor="middle" transform="rotate(-90 11.8 98.8)" stroke="#222" stroke-width="0.22">Intensity (a.u.)</text>
<text x="25.9" y="15.4" font-size="8.1" fill="#222" text-anchor="start"  stroke="#222" stroke-width="0.15">(A)</text>
<text x="249.6" y="16.4" font-size="9.0" fill="#222" text-anchor="end"  stroke="#222" stroke-width="0.22">Pt 4f</text>
<text transform="translate(22 50.4) scale(1 1.15)" font-size="7.1" fill="#1a1a1a" text-anchor="start"  stroke="#1a1a1a" stroke-width="0.15">0.6Pt-0.4Pd/CZL-a(R700)</text>
<text transform="translate(22 80.6) scale(1 1.15)" font-size="7.1" fill="#1a1a1a" text-anchor="start"  stroke="#1a1a1a" stroke-width="0.15">0.6Pt-0.4Pd/CZL-a(R550)</text>
<text transform="translate(22 110) scale(1 1.15)" font-size="7.1" fill="#1a1a1a" text-anchor="start"  stroke="#1a1a1a" stroke-width="0.15">0.6Pt-0.4Pd/CZL-a</text>
<text transform="translate(22 160) scale(1 1.15)" font-size="7.1" fill="#1a1a1a" text-anchor="start"  stroke="#1a1a1a" stroke-width="0.15">0.6Pt-0.4Pd/CZL</text>
<text x="61.8" y="29" font-size="9.4" fill="#e030e0" stroke="#e030e0" stroke-width="0.3">Pt<tspan font-size="6.2" dy="-3.8">4+</tspan></text>
<text x="104.5" y="26" font-size="9.4" fill="#33aaee" stroke="#33aaee" stroke-width="0.3">Pt<tspan font-size="6.2" dy="-3.8">2+</tspan></text>
<text x="126" y="29.6" font-size="9.4" fill="#e030e0" stroke="#e030e0" stroke-width="0.3">Pt<tspan font-size="6.2" dy="-3.8">4+</tspan></text>
<text x="142.5" y="39.5" font-size="9.4" fill="#2e8b2e" stroke="#2e8b2e" stroke-width="0.3">Pt<tspan font-size="6.2" dy="-3.8">0</tspan></text>
<text x="175" y="35" font-size="9.4" fill="#33aaee" stroke="#33aaee" stroke-width="0.3">Pt<tspan font-size="6.2" dy="-3.8">2+</tspan></text>
<text x="210.7" y="30.5" font-size="9.4" fill="#2e8b2e" stroke="#2e8b2e" stroke-width="0.3">Pt<tspan font-size="6.2" dy="-3.8">0</tspan></text>
<path d="M312.5 76.3 L392 82.4 L461 87.5 L507 91.2 L545.8 94.2" stroke="#5a22ee" stroke-width="1.9" fill="none" stroke-linejoin="round"/>
<path d="M312.5 75.3 L312.5 75.3 L313.5 75.3 L314.5 75.3 L315.5 75.3 L316.5 75.3 L317.5 75.3 L318.5 75.2 L319.5 75.2 L320.5 75.2 L321.5 75.1 L322.5 75 L323.5 75 L324.5 74.9 L325.5 74.8 L326.5 74.7 L327.5 74.5 L328.5 74.4 L329.5 74.3 L330.5 74.1 L331.5 73.9 L332.5 73.7 L333.5 73.5 L334.5 73.3 L335.5 73.1 L336.5 72.9 L337.5 72.6 L338.5 72.4 L339.5 72.1 L340.5 71.9 L341.5 71.6 L342.5 71.4 L343.5 71.1 L344.5 70.9 L345.5 70.6 L346.5 70.4 L347.5 70.2 L348.5 70 L349.5 69.9 L350.5 69.7 L351.5 69.6 L352.5 69.6 L353.5 69.5 L354.5 69.5 L355.5 69.6 L356.5 69.7 L357.5 69.8 L358.5 70 L359.5 70.2 L360.5 70.5 L361.5 70.7 L362.5 71.1 L363.5 71.4 L364.5 71.7 L365.5 72.1 L366.5 72.5 L367.5 72.9 L368.5 73.3 L369.5 73.7 L370.5 74.1 L371.5 74.5 L372.5 74.9 L373.5 75.3 L374.5 75.7 L375.5 76.1 L376.5 76.5 L377.5 76.8 L378.5 77.2 L379.5 77.5 L380.5 77.9 L381.5 78.2 L382.5 78.5 L383.5 78.8 L384.5 79.1 L385.5 79.3 L386.5 79.6 L387.5 79.8 L388.5 80.1 L389.5 80.3 L390.5 80.5 L391.5 80.7 L392.5 80.9 L393.5 81.1 L394.5 81.2 L395.5 81.4 L396.5 81.6 L397.5 81.7 L398.5 81.9 L399.5 82 L400.5 82.1 L401.5 82.2 L402.5 82.4 L403.5 82.5 L404.5 82.6 L405.5 82.7 L406.5 82.8 L407.5 82.9 L408.5 83 L409.5 83.1 L410.5 83.2 L411.5 83.3 L412.5 83.4 L413.5 83.5 L414.5 83.6 L415.5 83.7 L416.5 83.8 L417.5 83.9 L418.5 83.9 L419.5 84 L420.5 84.1 L421.5 84.2 L422.5 84.3 L423.5 84.4 L424.5 84.5 L425.5 84.5 L426.5 84.6 L427.5 84.7 L428.5 84.8 L429.5 84.9 L430.5 84.9 L431.5 85 L432.5 85.1 L433.5 85.2 L434.5 85.3 L435.5 85.3 L436.5 85.4 L437.5 85.5 L438.5 85.6 L439.5 85.7 L440.5 85.7 L441.5 85.8 L442.5 85.9 L443.5 86 L444.5 86.1 L445.5 86.1 L446.5 86.2 L447.5 86.3 L448.5 86.4 L449.5 86.5 L450.5 86.5 L451.5 86.6 L452.5 86.7 L453.5 86.8 L454.5 86.8 L455.5 86.9 L456.5 87 L457.5 87.1 L458.5 87.2 L459.5 87.2 L460.5 87.3 L461.5 87.4 L462.5 87.5 L463.5 87.6" stroke="#3a3af0" stroke-width="1.2" fill="none"/>
<path d="M332.5 77.7 L333.5 77.8 L334.5 77.8 L335.5 77.9 L336.5 78 L337.5 78 L338.5 78.1 L339.5 78.2 L340.5 78.2 L341.5 78.3 L342.5 78.4 L343.5 78.5 L344.5 78.5 L345.5 78.6 L346.5 78.6 L347.5 78.7 L348.5 78.8 L349.5 78.8 L350.5 78.9 L351.5 79 L352.5 79 L353.5 79.1 L354.5 79.1 L355.5 79.2 L356.5 79.2 L357.5 79.3 L358.5 79.3 L359.5 79.3 L360.5 79.4 L361.5 79.4 L362.5 79.4 L363.5 79.4 L364.5 79.3 L365.5 79.3 L366.5 79.2 L367.5 79.1 L368.5 79 L369.5 78.9 L370.5 78.7 L371.5 78.5 L372.5 78.2 L373.5 77.9 L374.5 77.6 L375.5 77.2 L376.5 76.9 L377.5 76.5 L378.5 76 L379.5 75.6 L380.5 75.2 L381.5 74.7 L382.5 74.4 L383.5 74 L384.5 73.8 L385.5 73.6 L386.5 73.5 L387.5 73.6 L388.5 73.7 L389.5 74 L390.5 74.3 L391.5 74.8 L392.5 75.3 L393.5 75.9 L394.5 76.4 L395.5 77 L396.5 77.6 L397.5 78.2 L398.5 78.7 L399.5 79.2 L400.5 79.7 L401.5 80.2 L402.5 80.6 L403.5 81 L404.5 81.4 L405.5 81.7 L406.5 82 L407.5 82.2 L408.5 82.5 L409.5 82.7 L410.5 82.9 L411.5 83 L412.5 83.2 L413.5 83.3 L414.5 83.5 L415.5 83.6 L416.5 83.7 L417.5 83.8 L418.5 83.9 L419.5 84 L420.5 84.1 L421.5 84.2 L422.5 84.3 L423.5 84.4 L424.5 84.5 L425.5 84.6 L426.5 84.7 L427.5 84.8 L428.5 84.8 L429.5 84.9 L430.5 85 L431.5 85.1 L432.5 85.2 L433.5 85.3 L434.5 85.3 L435.5 85.4 L436.5 85.5 L437.5 85.6 L438.5 85.7 L439.5 85.7 L440.5 85.8 L441.5 85.9 L442.5 86" stroke="#ff30ff" stroke-width="1.2" fill="none"/>
<path d="M336.5 78 L337.5 78.1 L338.5 78.1 L339.5 78.2 L340.5 78.3 L341.5 78.4 L342.5 78.4 L343.5 78.5 L344.5 78.6 L345.5 78.7 L346.5 78.7 L347.5 78.8 L348.5 78.9 L349.5 79 L350.5 79 L351.5 79.1 L352.5 79.2 L353.5 79.2 L354.5 79.3 L355.5 79.4 L356.5 79.5 L357.5 79.5 L358.5 79.6 L359.5 79.7 L360.5 79.8 L361.5 79.8 L362.5 79.9 L363.5 80 L364.5 80 L365.5 80.1 L366.5 80.2 L367.5 80.3 L368.5 80.3 L369.5 80.4 L370.5 80.5 L371.5 80.5 L372.5 80.6 L373.5 80.7 L374.5 80.8 L375.5 80.8 L376.5 80.9 L377.5 81 L378.5 81 L379.5 81.1 L380.5 81.2 L381.5 81.2 L382.5 81.3 L383.5 81.4 L384.5 81.4 L385.5 81.5 L386.5 81.6 L387.5 81.6 L388.5 81.7 L389.5 81.8 L390.5 81.8 L391.5 81.9 L392.5 82 L393.5 82 L394.5 82.1 L395.5 82.2 L396.5 82.2 L397.5 82.3 L398.5 82.3 L399.5 82.4 L400.5 82.4 L401.5 82.5 L402.5 82.6 L403.5 82.6 L404.5 82.7 L405.5 82.7 L406.5 82.8 L407.5 82.8 L408.5 82.9 L409.5 82.9 L410.5 82.9 L411.5 83 L412.5 83 L413.5 83 L414.5 83.1 L415.5 83.1 L416.5 83.1 L417.5 83.1 L418.5 83.1 L419.5 83.2 L420.5 83.1 L421.5 83.1 L422.5 83.1 L423.5 83.1 L424.5 83 L425.5 83 L426.5 82.9 L427.5 82.8 L428.5 82.7 L429.5 82.6 L430.5 82.4 L431.5 82.3 L432.5 82.1 L433.5 81.9 L434.5 81.6 L435.5 81.4 L436.5 81.1 L437.5 80.8 L438.5 80.4 L439.5 80 L440.5 79.6 L441.5 79.2 L442.5 78.7 L443.5 78.2 L444.5 77.7 L445.5 77.2 L446.5 76.6 L447.5 76 L448.5 75.5 L449.5 74.9 L450.5 74.3 L451.5 73.7 L452.5 73.1 L453.5 72.6 L454.5 72.1 L455.5 71.6 L456.5 71.2 L457.5 70.8 L458.5 70.5 L459.5 70.3 L460.5 70.1 L461.5 70.1 L462.5 70.1 L463.5 70.3 L464.5 70.5 L465.5 70.8 L466.5 71.2 L467.5 71.7 L468.5 72.3 L469.5 72.9 L470.5 73.5 L471.5 74.2 L472.5 74.9 L473.5 75.7 L474.5 76.4 L475.5 77.2 L476.5 77.9 L477.5 78.6 L478.5 79.4 L479.5 80.1 L480.5 80.7 L481.5 81.4 L482.5 82 L483.5 82.6 L484.5 83.2 L485.5 83.8 L486.5 84.3 L487.5 84.8 L488.5 85.2 L489.5 85.7 L490.5 86.1 L491.5 86.5 L492.5 86.8 L493.5 87.2 L494.5 87.5 L495.5 87.8 L496.5 88 L497.5 88.3 L498.5 88.5 L499.5 88.7 L500.5 89 L501.5 89.2 L502.5 89.3 L503.5 89.5 L504.5 89.7 L505.5 89.8 L506.5 90 L507.5 90.1 L508.5 90.3 L509.5 90.4 L510.5 90.5 L511.5 90.6 L512.5 90.7 L513.5 90.9 L514.5 91 L515.5 91.1 L516.5 91.2 L517.5 91.3 L518.5 91.4 L519.5 91.5 L520.5 91.6 L521.5 91.7 L522.5 91.8 L523.5 91.9 L524.5 92 L525.5 92.1 L526.5 92.2 L527.5 92.3 L528.5 92.3 L529.5 92.4 L530.5 92.5 L531.5 92.6 L532.5 92.7 L533.5 92.8 L534.5 92.9 L535.5 93 L536.5 93.1 L537.5 93.2 L538.5 93.2 L539.5 93.3 L540.5 93.4 L541.5 93.5 L542.5 93.6 L543.5 93.7 L544.5 93.8 L545.5 93.8 L545.8 93.9" stroke="#3a3af0" stroke-width="1.2" fill="none"/>
<path d="M424.5 84.7 L425.5 84.7 L426.5 84.8 L427.5 84.9 L428.5 84.9 L429.5 85 L430.5 85.1 L431.5 85.1 L432.5 85.2 L433.5 85.3 L434.5 85.3 L435.5 85.4 L436.5 85.5 L437.5 85.6 L438.5 85.6 L439.5 85.7 L440.5 85.8 L441.5 85.8 L442.5 85.9 L443.5 86 L444.5 86 L445.5 86.1 L446.5 86.2 L447.5 86.2 L448.5 86.3 L449.5 86.3 L450.5 86.4 L451.5 86.5 L452.5 86.5 L453.5 86.6 L454.5 86.7 L455.5 86.7 L456.5 86.8 L457.5 86.8 L458.5 86.9 L459.5 86.9 L460.5 87 L461.5 87.1 L462.5 87.1 L463.5 87.2 L464.5 87.2 L465.5 87.3 L466.5 87.3 L467.5 87.4 L468.5 87.4 L469.5 87.5 L470.5 87.5 L471.5 87.6 L472.5 87.6 L473.5 87.6 L474.5 87.7 L475.5 87.7 L476.5 87.7 L477.5 87.7 L478.5 87.7 L479.5 87.7 L480.5 87.6 L481.5 87.6 L482.5 87.5 L483.5 87.4 L484.5 87.2 L485.5 87 L486.5 86.8 L487.5 86.4 L488.5 86 L489.5 85.5 L490.5 84.9 L491.5 84.2 L492.5 83.4 L493.5 82.5 L494.5 81.5 L495.5 80.3 L496.5 79.1 L497.5 77.8 L498.5 76.4 L499.5 74.9 L500.5 73.5 L501.5 72.1 L502.5 70.9 L503.5 69.8 L504.5 69 L505.5 68.5 L506.5 68.4 L507.5 68.6 L508.5 69.2 L509.5 70.1 L510.5 71.3 L511.5 72.7 L512.5 74.2 L513.5 75.7 L514.5 77.3 L515.5 78.9 L516.5 80.4 L517.5 81.8 L518.5 83.1 L519.5 84.4 L520.5 85.5 L521.5 86.4 L522.5 87.3 L523.5 88.1 L524.5 88.8 L525.5 89.3 L526.5 89.8 L527.5 90.3 L528.5 90.6 L529.5 91 L530.5 91.2 L531.5 91.5 L532.5 91.7 L533.5 91.9 L534.5 92.1 L535.5 92.3 L536.5 92.4 L537.5 92.6 L538.5 92.7 L539.5 92.8 L540.5 93 L541.5 93.1 L542.5 93.2 L543.5 93.3 L544.5 93.4 L545.5 93.5 L545.8 93.6" stroke="#ff30ff" stroke-width="1.2" fill="none"/>
<path d="M336 46.2 L336.5 46.8 L337.3 47.6 L338.2 48.6 L339.2 49.6 L340.1 50.6 L341 51.5 L341.8 52.3 L342.5 53.1 L343.2 53.8 L343.9 54.6 L344.7 55.3 L345.5 55.9 L346.4 56.5 L347.4 57 L348.4 57.5 L349.4 58 L350.4 58.4 L351.3 58.8 L352.1 59.1 L352.8 59.3 L353.5 59.5 L354.2 59.7 L354.9 59.9 L355.6 60.3 L356.3 60.8 L357.1 61.3 L357.8 62 L358.5 62.6 L359.3 63.3 L360 63.9 L360.7 64.5 L361.4 65.2 L362.1 65.8 L362.8 66.4 L363.6 67 L364.4 67.5 L365.3 68 L366.2 68.4 L367.2 68.8 L368.2 69.1 L369.2 69.4 L370.2 69.7 L371.1 69.9 L372.1 70.2 L373 70.3 L374 70.5 L374.9 70.5 L376 70.5 L377.2 70.4 L378.4 70.1 L379.7 69.8 L381 69.5 L382.2 69.2 L383.3 69 L384.2 68.8 L385 68.7 L385.6 68.5 L386.3 68.4 L386.9 68.3 L387.6 68.3 L388.3 68.3 L389 68.3 L389.6 68.3 L390.3 68.4 L391.1 68.6 L392 69 L393.1 69.6 L394.2 70.3 L395.5 71.1 L396.8 72 L398.1 72.9 L399.3 73.6 L400.4 74.2 L401.5 74.8 L402.6 75.4 L403.7 75.9 L404.7 76.4 L405.8 76.9 L406.9 77.3 L407.9 77.7 L409 78.1 L410 78.5 L411.2 78.8 L412.4 79.1 L413.7 79.4 L415.1 79.7 L416.5 79.9 L418 80.1 L419.5 80.3 L421 80.4 L422.4 80.5 L423.8 80.5 L425.2 80.6 L426.7 80.5 L428.3 80.3 L430 80 L432 79.5 L434.1 78.8 L436.4 78 L438.6 77.2 L440.9 76.3 L442.9 75.5 L444.8 74.7 L446.6 73.9 L448.3 73.1 L450 72.3 L451.6 71.6 L453.2 71 L454.8 70.4 L456.3 69.8 L457.8 69.3 L459.2 68.9 L460.7 68.7 L462.3 68.6 L464 68.8 L465.7 69.1 L467.5 69.7 L469.2 70.3 L470.9 71 L472.6 71.6 L474.2 72.3 L475.8 73.1 L477.4 74 L478.9 74.8 L480.3 75.5 L481.6 76.1 L482.7 76.5 L483.6 76.8 L484.5 76.9 L485.3 77 L486.1 77 L487 77 L488 76.9 L489.1 76.8 L490.1 76.5 L491.2 76.3 L492.3 75.9 L493.3 75.5 L494.3 75 L495.3 74.5 L496.3 73.8 L497.3 73.2 L498.2 72.5 L499 71.8 L499.8 71 L500.5 70.2 L501.1 69.3 L501.7 68.4 L502.1 67.7 L502.5 67.2" stroke="#f06a6a" stroke-width="1.35" fill="none" stroke-linejoin="round" stroke-linecap="round" />
<path d="M312.5 113.2 L392 119.8 L420 123.2 L461 127.4 L507 131 L545.8 133.2" stroke="#5a22ee" stroke-width="1.9" fill="none" stroke-linejoin="round"/>
<path d="M312.5 111.7 L312.5 111.7 L313.5 111.7 L314.5 111.7 L315.5 111.6 L316.5 111.6 L317.5 111.5 L318.5 111.4 L319.5 111.3 L320.5 111.2 L321.5 111.1 L322.5 110.9 L323.5 110.7 L324.5 110.5 L325.5 110.3 L326.5 110 L327.5 109.8 L328.5 109.5 L329.5 109.1 L330.5 108.8 L331.5 108.4 L332.5 108 L333.5 107.5 L334.5 107.1 L335.5 106.6 L336.5 106.1 L337.5 105.6 L338.5 105.1 L339.5 104.5 L340.5 104 L341.5 103.4 L342.5 102.9 L343.5 102.4 L344.5 101.9 L345.5 101.4 L346.5 101 L347.5 100.6 L348.5 100.2 L349.5 99.9 L350.5 99.7 L351.5 99.6 L352.5 99.6 L353.5 99.6 L354.5 99.7 L355.5 99.9 L356.5 100.2 L357.5 100.6 L358.5 101.1 L359.5 101.6 L360.5 102.1 L361.5 102.7 L362.5 103.4 L363.5 104 L364.5 104.7 L365.5 105.4 L366.5 106.1 L367.5 106.9 L368.5 107.6 L369.5 108.3 L370.5 108.9 L371.5 109.6 L372.5 110.2 L373.5 110.9 L374.5 111.5 L375.5 112 L376.5 112.6 L377.5 113.1 L378.5 113.6 L379.5 114.1 L380.5 114.5 L381.5 114.9 L382.5 115.3 L383.5 115.7 L384.5 116.1 L385.5 116.4 L386.5 116.7 L387.5 117 L388.5 117.2 L389.5 117.5 L390.5 117.7 L391.5 117.9 L392.5 118.2 L393.5 118.4 L394.5 118.6 L395.5 118.8 L396.5 119 L397.5 119.2 L398.5 119.4 L399.5 119.6 L400.5 119.8 L401.5 119.9 L402.5 120.1 L403.5 120.3 L404.5 120.4 L405.5 120.6 L406.5 120.7 L407.5 120.9 L408.5 121 L409.5 121.2 L410.5 121.3 L411.5 121.5 L412.5 121.6 L413.5 121.8 L414.5 121.9 L415.5 122.1 L416.5 122.2 L417.5 122.3 L418.5 122.5 L419.5 122.6 L420.5 122.7 L421.5 122.9 L422.5 123 L423.5 123.1 L424.5 123.2 L425.5 123.3 L426.5 123.4 L427.5 123.5 L428.5 123.7 L429.5 123.8 L430.5 123.9 L431.5 124 L432.5 124.1 L433.5 124.2 L434.5 124.3 L435.5 124.4 L436.5 124.5 L437.5 124.7 L438.5 124.8 L439.5 124.9 L440.5 125 L441.5 125.1 L442.5 125.2 L443.5 125.3 L444.5 125.4 L445.5 125.5 L446.5 125.6 L447.5 125.7 L448.5 125.9 L449.5 126 L450.5 126.1 L451.5 126.2 L452.5 126.3 L453.5 126.4 L454.5 126.5 L455.5 126.6 L456.5 126.7 L457.5 126.8 L458.5 126.9 L459.5 127 L460.5 127.1 L461.5 127.2 L462.5 127.3 L463.5 127.4 L464.5 127.5 L465.5 127.6 L466.5 127.6 L467.5 127.7 L468.5 127.8 L469.5 127.9 L470.5 128 L471.5 128 L472.5 128.1 L473.5 128.2 L474.5 128.3 L475.5 128.4 L476.5 128.5 L477.5 128.5 L478.5 128.6 L479.5 128.7 L480.5 128.8 L481.5 128.9" stroke="#3a3af0" stroke-width="1.2" fill="none"/>
<path d="M335.5 115 L336.5 115 L337.5 115.1 L338.5 115.2 L339.5 115.3 L340.5 115.3 L341.5 115.4 L342.5 115.5 L343.5 115.6 L344.5 115.6 L345.5 115.7 L346.5 115.8 L347.5 115.9 L348.5 115.9 L349.5 116 L350.5 116.1 L351.5 116.1 L352.5 116.2 L353.5 116.3 L354.5 116.3 L355.5 116.4 L356.5 116.4 L357.5 116.5 L358.5 116.5 L359.5 116.6 L360.5 116.6 L361.5 116.6 L362.5 116.7 L363.5 116.7 L364.5 116.7 L365.5 116.6 L366.5 116.6 L367.5 116.5 L368.5 116.4 L369.5 116.2 L370.5 116 L371.5 115.8 L372.5 115.5 L373.5 115.2 L374.5 114.9 L375.5 114.5 L376.5 114 L377.5 113.5 L378.5 113 L379.5 112.5 L380.5 112 L381.5 111.5 L382.5 111.1 L383.5 110.7 L384.5 110.5 L385.5 110.3 L386.5 110.3 L387.5 110.5 L388.5 110.8 L389.5 111.2 L390.5 111.8 L391.5 112.4 L392.5 113 L393.5 113.7 L394.5 114.5 L395.5 115.2 L396.5 115.8 L397.5 116.5 L398.5 117.1 L399.5 117.7 L400.5 118.2 L401.5 118.7 L402.5 119.1 L403.5 119.5 L404.5 119.8 L405.5 120.2 L406.5 120.4 L407.5 120.7 L408.5 120.9 L409.5 121.2 L410.5 121.4 L411.5 121.5 L412.5 121.7 L413.5 121.9 L414.5 122.1 L415.5 122.2 L416.5 122.4 L417.5 122.5 L418.5 122.7 L419.5 122.8 L420.5 122.9 L421.5 123 L422.5 123.2 L423.5 123.3 L424.5 123.4 L425.5 123.5 L426.5 123.6 L427.5 123.7 L428.5 123.9 L429.5 124 L430.5 124.1 L431.5 124.2 L432.5 124.3 L433.5 124.4 L434.5 124.5 L435.5 124.6 L436.5 124.7 L437.5 124.8" stroke="#ff30ff" stroke-width="1.2" fill="none"/>
<path d="M312.5 113 L312.5 113 L313.5 113.1 L314.5 113.2 L315.5 113.3 L316.5 113.4 L317.5 113.5 L318.5 113.5 L319.5 113.6 L320.5 113.7 L321.5 113.8 L322.5 113.9 L323.5 113.9 L324.5 114 L325.5 114.1 L326.5 114.2 L327.5 114.3 L328.5 114.3 L329.5 114.4 L330.5 114.5 L331.5 114.6 L332.5 114.7 L333.5 114.7 L334.5 114.8 L335.5 114.9 L336.5 115 L337.5 115.1 L338.5 115.1 L339.5 115.2 L340.5 115.3 L341.5 115.4 L342.5 115.5 L343.5 115.5 L344.5 115.6 L345.5 115.7 L346.5 115.8 L347.5 115.8 L348.5 115.9 L349.5 116 L350.5 116.1 L351.5 116.2 L352.5 116.2 L353.5 116.3 L354.5 116.4 L355.5 116.5 L356.5 116.6 L357.5 116.6 L358.5 116.7 L359.5 116.8 L360.5 116.9 L361.5 116.9 L362.5 117 L363.5 117.1 L364.5 117.2 L365.5 117.2 L366.5 117.3 L367.5 117.4 L368.5 117.5 L369.5 117.5 L370.5 117.6 L371.5 117.7 L372.5 117.8 L373.5 117.8 L374.5 117.9 L375.5 118 L376.5 118.1 L377.5 118.1 L378.5 118.2 L379.5 118.3 L380.5 118.3 L381.5 118.4 L382.5 118.5 L383.5 118.6 L384.5 118.6 L385.5 118.7 L386.5 118.8 L387.5 118.8 L388.5 118.9 L389.5 119 L390.5 119 L391.5 119.1 L392.5 119.2 L393.5 119.3 L394.5 119.4 L395.5 119.5 L396.5 119.6 L397.5 119.7 L398.5 119.8 L399.5 119.9 L400.5 120 L401.5 120.1 L402.5 120.2 L403.5 120.2 L404.5 120.3 L405.5 120.4 L406.5 120.5 L407.5 120.6 L408.5 120.7 L409.5 120.7 L410.5 120.8 L411.5 120.9 L412.5 120.9 L413.5 121 L414.5 121 L415.5 121.1 L416.5 121.1 L417.5 121.1 L418.5 121.1 L419.5 121.1 L420.5 121.1 L421.5 121 L422.5 121 L423.5 120.9 L424.5 120.8 L425.5 120.7 L426.5 120.5 L427.5 120.4 L428.5 120.2 L429.5 119.9 L430.5 119.7 L431.5 119.4 L432.5 119.1 L433.5 118.7 L434.5 118.4 L435.5 117.9 L436.5 117.5 L437.5 117 L438.5 116.5 L439.5 115.9 L440.5 115.3 L441.5 114.7 L442.5 114 L443.5 113.3 L444.5 112.6 L445.5 111.9 L446.5 111.1 L447.5 110.4 L448.5 109.7 L449.5 108.9 L450.5 108.2 L451.5 107.5 L452.5 106.9 L453.5 106.3 L454.5 105.7 L455.5 105.2 L456.5 104.9 L457.5 104.6 L458.5 104.4 L459.5 104.3 L460.5 104.3 L461.5 104.5 L462.5 104.8 L463.5 105.1 L464.5 105.6 L465.5 106.2 L466.5 106.8 L467.5 107.5 L468.5 108.3 L469.5 109.1 L470.5 110 L471.5 110.9 L472.5 111.8 L473.5 112.8 L474.5 113.7 L475.5 114.6 L476.5 115.5 L477.5 116.4 L478.5 117.3 L479.5 118.1 L480.5 118.9 L481.5 119.7 L482.5 120.4 L483.5 121.2 L484.5 121.8 L485.5 122.5 L486.5 123.1 L487.5 123.6 L488.5 124.2 L489.5 124.7 L490.5 125.1 L491.5 125.6 L492.5 126 L493.5 126.3 L494.5 126.7 L495.5 127 L496.5 127.3 L497.5 127.6 L498.5 127.9 L499.5 128.1 L500.5 128.3 L501.5 128.6 L502.5 128.8 L503.5 128.9 L504.5 129.1 L505.5 129.3 L506.5 129.4 L507.5 129.6 L508.5 129.7 L509.5 129.8 L510.5 130 L511.5 130.1 L512.5 130.2 L513.5 130.3 L514.5 130.4 L515.5 130.5 L516.5 130.6 L517.5 130.6 L518.5 130.7 L519.5 130.8 L520.5 130.9 L521.5 131 L522.5 131.1 L523.5 131.2 L524.5 131.2 L525.5 131.3 L526.5 131.4 L527.5 131.5 L528.5 131.5 L529.5 131.6 L530.5 131.7 L531.5 131.8 L532.5 131.8 L533.5 131.9 L534.5 132 L535.5 132.1 L536.5 132.1 L537.5 132.2 L538.5 132.3 L539.5 132.3 L540.5 132.4 L541.5 132.5 L542.5 132.5 L543.5 132.6 L544.5 132.7 L545.5 132.7 L545.8 132.8" stroke="#3a3af0" stroke-width="1.2" fill="none"/>
<path d="M422.5 123.3 L423.5 123.4 L424.5 123.5 L425.5 123.6 L426.5 123.7 L427.5 123.8 L428.5 123.9 L429.5 124 L430.5 124.1 L431.5 124.2 L432.5 124.3 L433.5 124.4 L434.5 124.5 L435.5 124.6 L436.5 124.7 L437.5 124.8 L438.5 124.9 L439.5 125 L440.5 125.1 L441.5 125.2 L442.5 125.2 L443.5 125.3 L444.5 125.4 L445.5 125.5 L446.5 125.6 L447.5 125.7 L448.5 125.8 L449.5 125.9 L450.5 126 L451.5 126.1 L452.5 126.2 L453.5 126.3 L454.5 126.3 L455.5 126.4 L456.5 126.5 L457.5 126.6 L458.5 126.7 L459.5 126.8 L460.5 126.8 L461.5 126.9 L462.5 127 L463.5 127 L464.5 127.1 L465.5 127.1 L466.5 127.2 L467.5 127.2 L468.5 127.2 L469.5 127.3 L470.5 127.3 L471.5 127.3 L472.5 127.3 L473.5 127.4 L474.5 127.4 L475.5 127.3 L476.5 127.3 L477.5 127.3 L478.5 127.2 L479.5 127.1 L480.5 127 L481.5 126.8 L482.5 126.6 L483.5 126.3 L484.5 125.9 L485.5 125.5 L486.5 125 L487.5 124.4 L488.5 123.7 L489.5 122.9 L490.5 121.9 L491.5 120.9 L492.5 119.8 L493.5 118.5 L494.5 117.2 L495.5 115.9 L496.5 114.6 L497.5 113.2 L498.5 112 L499.5 110.9 L500.5 110.1 L501.5 109.5 L502.5 109.2 L503.5 109.3 L504.5 109.7 L505.5 110.5 L506.5 111.5 L507.5 112.7 L508.5 114.1 L509.5 115.5 L510.5 117 L511.5 118.5 L512.5 119.9 L513.5 121.3 L514.5 122.5 L515.5 123.7 L516.5 124.8 L517.5 125.7 L518.5 126.6 L519.5 127.3 L520.5 128 L521.5 128.5 L522.5 129 L523.5 129.4 L524.5 129.8 L525.5 130.1 L526.5 130.4 L527.5 130.6 L528.5 130.8 L529.5 131 L530.5 131.1 L531.5 131.3 L532.5 131.4 L533.5 131.5 L534.5 131.7 L535.5 131.8 L536.5 131.9 L537.5 132 L538.5 132.1 L539.5 132.2 L540.5 132.3 L541.5 132.3 L542.5 132.4 L543.5 132.5 L544.5 132.6 L545.5 132.7 L545.8 132.7" stroke="#ff30ff" stroke-width="1.2" fill="none"/>
<path d="M333.8 91.3 L334.2 91.5 L334.8 91.7 L335.5 91.9 L336.3 92.2 L337.1 92.5 L338 92.8 L338.9 93.1 L339.9 93.5 L340.9 93.9 L342 94.3 L343 94.6 L344 95 L344.9 95.4 L345.7 95.7 L346.6 96.1 L347.4 96.4 L348.2 96.7 L349 97 L349.8 97.2 L350.6 97.4 L351.3 97.5 L352.1 97.6 L353 97.8 L354 98 L355.2 98.3 L356.4 98.6 L357.8 99 L359.2 99.3 L360.6 99.7 L362 100 L363.3 100.3 L364.6 100.5 L365.8 100.7 L367.2 101 L368.5 101.2 L370 101.5 L371.6 101.8 L373.4 102.3 L375.3 102.7 L377.1 103.1 L378.9 103.4 L380.4 103.7 L381.7 103.8 L382.9 103.9 L384 103.9 L385.1 103.9 L386 103.9 L387 104 L387.9 104.1 L388.7 104.2 L389.4 104.4 L390.2 104.5 L391 104.8 L392 105.2 L393.1 105.7 L394.4 106.4 L395.7 107.2 L397.1 108 L398.5 108.8 L400 109.5 L401.6 110.1 L403.2 110.7 L404.9 111.3 L406.6 111.9 L408.3 112.5 L410 113 L411.7 113.6 L413.3 114.2 L415 114.8 L416.7 115.3 L418.3 115.7 L420 116 L421.6 116.2 L423.2 116.3 L424.8 116.2 L426.5 116.1 L428.2 115.8 L430 115.3 L432 114.6 L434.2 113.6 L436.4 112.4 L438.7 111.2 L440.9 110 L442.9 108.9 L444.8 107.9 L446.6 106.8 L448.4 105.8 L450.1 104.8 L451.7 103.9 L453.2 103.1 L454.6 102.3 L455.8 101.5 L456.9 100.7 L458 100.1 L459.1 99.7 L460.3 99.5 L461.6 99.7 L463 100.1 L464.5 100.7 L465.9 101.5 L467.3 102.3 L468.7 103.1 L470 104 L471.3 105 L472.6 106 L473.9 107.1 L475.2 108 L476.5 108.9 L477.8 109.7 L479.1 110.4 L480.5 111.1 L481.8 111.6 L483 112.1 L484.2 112.4 L485.3 112.5 L486.3 112.5 L487.3 112.4 L488.2 112.2 L489.1 111.9 L490 111.5 L490.9 111 L491.8 110.4 L492.6 109.7 L493.4 108.9 L494.2 108.2 L495 107.5 L495.8 106.8 L496.6 106.1 L497.3 105.3 L498 104.7 L498.6 104.1 L499 103.7" stroke="#f06a6a" stroke-width="1.35" fill="none" stroke-linejoin="round" stroke-linecap="round" />
<path d="M312.5 143.3 L380 148.2 L432 154.4 L466 157.6 L490 160 L545.8 163.8" stroke="#5a22ee" stroke-width="1.9" fill="none" stroke-linejoin="round"/>
<path d="M312.5 141.9 L312.5 141.9 L313.5 141.9 L314.5 141.9 L315.5 141.8 L316.5 141.8 L317.5 141.7 L318.5 141.6 L319.5 141.5 L320.5 141.4 L321.5 141.2 L322.5 141.1 L323.5 140.9 L324.5 140.7 L325.5 140.5 L326.5 140.2 L327.5 140 L328.5 139.7 L329.5 139.4 L330.5 139.1 L331.5 138.7 L332.5 138.4 L333.5 138 L334.5 137.6 L335.5 137.2 L336.5 136.8 L337.5 136.3 L338.5 135.9 L339.5 135.5 L340.5 135.1 L341.5 134.7 L342.5 134.3 L343.5 133.9 L344.5 133.6 L345.5 133.3 L346.5 133 L347.5 132.8 L348.5 132.7 L349.5 132.6 L350.5 132.6 L351.5 132.6 L352.5 132.8 L353.5 132.9 L354.5 133.2 L355.5 133.5 L356.5 133.9 L357.5 134.3 L358.5 134.8 L359.5 135.3 L360.5 135.8 L361.5 136.3 L362.5 136.9 L363.5 137.4 L364.5 138 L365.5 138.6 L366.5 139.1 L367.5 139.7 L368.5 140.2 L369.5 140.8 L370.5 141.3 L371.5 141.8 L372.5 142.3 L373.5 142.7 L374.5 143.2 L375.5 143.6 L376.5 144 L377.5 144.4 L378.5 144.7 L379.5 145.1 L380.5 145.4 L381.5 145.7 L382.5 146.1 L383.5 146.4 L384.5 146.7 L385.5 146.9 L386.5 147.2 L387.5 147.4 L388.5 147.7 L389.5 147.9 L390.5 148.1 L391.5 148.3 L392.5 148.5 L393.5 148.7 L394.5 148.9 L395.5 149.1 L396.5 149.2 L397.5 149.4 L398.5 149.6 L399.5 149.7 L400.5 149.9 L401.5 150 L402.5 150.2 L403.5 150.3 L404.5 150.5 L405.5 150.6 L406.5 150.8 L407.5 150.9 L408.5 151 L409.5 151.2 L410.5 151.3 L411.5 151.5 L412.5 151.6 L413.5 151.7 L414.5 151.9 L415.5 152 L416.5 152.1 L417.5 152.3 L418.5 152.4 L419.5 152.5 L420.5 152.6 L421.5 152.8 L422.5 152.9 L423.5 153 L424.5 153.2 L425.5 153.3 L426.5 153.4 L427.5 153.5 L428.5 153.7 L429.5 153.8 L430.5 153.9 L431.5 154 L432.5 154.2 L433.5 154.3 L434.5 154.4 L435.5 154.5 L436.5 154.6 L437.5 154.7 L438.5 154.8 L439.5 154.9 L440.5 155 L441.5 155.1 L442.5 155.2 L443.5 155.3 L444.5 155.4 L445.5 155.5 L446.5 155.6 L447.5 155.7 L448.5 155.8 L449.5 155.8 L450.5 155.9 L451.5 156 L452.5 156.1 L453.5 156.2 L454.5 156.3 L455.5 156.4 L456.5 156.5 L457.5 156.6 L458.5 156.7 L459.5 156.8 L460.5 156.9 L461.5 157 L462.5 157.1 L463.5 157.2 L464.5 157.3" stroke="#3a3af0" stroke-width="1.2" fill="none"/>
<path d="M334.5 144.8 L335.5 144.8 L336.5 144.9 L337.5 145 L338.5 145 L339.5 145.1 L340.5 145.1 L341.5 145.2 L342.5 145.3 L343.5 145.3 L344.5 145.4 L345.5 145.5 L346.5 145.5 L347.5 145.6 L348.5 145.6 L349.5 145.7 L350.5 145.8 L351.5 145.8 L352.5 145.9 L353.5 145.9 L354.5 146 L355.5 146 L356.5 146.1 L357.5 146.1 L358.5 146.2 L359.5 146.2 L360.5 146.2 L361.5 146.3 L362.5 146.3 L363.5 146.3 L364.5 146.3 L365.5 146.2 L366.5 146.2 L367.5 146.1 L368.5 146 L369.5 145.9 L370.5 145.7 L371.5 145.5 L372.5 145.2 L373.5 144.9 L374.5 144.6 L375.5 144.2 L376.5 143.8 L377.5 143.3 L378.5 142.7 L379.5 142.2 L380.5 141.7 L381.5 141.2 L382.5 140.7 L383.5 140.3 L384.5 139.9 L385.5 139.7 L386.5 139.6 L387.5 139.6 L388.5 139.8 L389.5 140.1 L390.5 140.6 L391.5 141.2 L392.5 141.9 L393.5 142.6 L394.5 143.3 L395.5 144.1 L396.5 144.8 L397.5 145.5 L398.5 146.2 L399.5 146.8 L400.5 147.4 L401.5 148 L402.5 148.5 L403.5 148.9 L404.5 149.3 L405.5 149.7 L406.5 150 L407.5 150.3 L408.5 150.6 L409.5 150.8 L410.5 151 L411.5 151.2 L412.5 151.4 L413.5 151.6 L414.5 151.8 L415.5 151.9 L416.5 152.1 L417.5 152.2 L418.5 152.4 L419.5 152.5 L420.5 152.7 L421.5 152.8 L422.5 152.9 L423.5 153.1 L424.5 153.2 L425.5 153.3 L426.5 153.5 L427.5 153.6 L428.5 153.7 L429.5 153.9 L430.5 154 L431.5 154.1 L432.5 154.2 L433.5 154.3 L434.5 154.5 L435.5 154.6 L436.5 154.7 L437.5 154.8 L438.5 154.9 L439.5 155 L440.5 155.1" stroke="#ff30ff" stroke-width="1.2" fill="none"/>
<path d="M325.5 144.1 L326.5 144.2 L327.5 144.2 L328.5 144.3 L329.5 144.4 L330.5 144.4 L331.5 144.5 L332.5 144.6 L333.5 144.7 L334.5 144.7 L335.5 144.8 L336.5 144.9 L337.5 144.9 L338.5 145 L339.5 145.1 L340.5 145.1 L341.5 145.2 L342.5 145.3 L343.5 145.4 L344.5 145.4 L345.5 145.5 L346.5 145.6 L347.5 145.6 L348.5 145.7 L349.5 145.8 L350.5 145.8 L351.5 145.9 L352.5 146 L353.5 146 L354.5 146.1 L355.5 146.2 L356.5 146.2 L357.5 146.3 L358.5 146.4 L359.5 146.4 L360.5 146.5 L361.5 146.6 L362.5 146.6 L363.5 146.7 L364.5 146.8 L365.5 146.8 L366.5 146.9 L367.5 147 L368.5 147 L369.5 147.1 L370.5 147.2 L371.5 147.2 L372.5 147.3 L373.5 147.4 L374.5 147.4 L375.5 147.5 L376.5 147.6 L377.5 147.6 L378.5 147.7 L379.5 147.7 L380.5 147.8 L381.5 147.9 L382.5 148 L383.5 148.2 L384.5 148.3 L385.5 148.4 L386.5 148.5 L387.5 148.6 L388.5 148.7 L389.5 148.8 L390.5 148.9 L391.5 149 L392.5 149.1 L393.5 149.2 L394.5 149.3 L395.5 149.4 L396.5 149.5 L397.5 149.6 L398.5 149.7 L399.5 149.8 L400.5 149.9 L401.5 150 L402.5 150.1 L403.5 150.2 L404.5 150.2 L405.5 150.3 L406.5 150.4 L407.5 150.5 L408.5 150.6 L409.5 150.6 L410.5 150.7 L411.5 150.8 L412.5 150.8 L413.5 150.9 L414.5 150.9 L415.5 151 L416.5 151 L417.5 151 L418.5 151 L419.5 151 L420.5 151 L421.5 151 L422.5 150.9 L423.5 150.9 L424.5 150.8 L425.5 150.6 L426.5 150.5 L427.5 150.3 L428.5 150.1 L429.5 149.9 L430.5 149.6 L431.5 149.3 L432.5 149 L433.5 148.6 L434.5 148.1 L435.5 147.6 L436.5 147.1 L437.5 146.5 L438.5 145.9 L439.5 145.3 L440.5 144.6 L441.5 143.9 L442.5 143.2 L443.5 142.4 L444.5 141.7 L445.5 140.9 L446.5 140.1 L447.5 139.4 L448.5 138.6 L449.5 137.9 L450.5 137.3 L451.5 136.7 L452.5 136.2 L453.5 135.8 L454.5 135.5 L455.5 135.3 L456.5 135.2 L457.5 135.3 L458.5 135.5 L459.5 135.8 L460.5 136.3 L461.5 136.8 L462.5 137.5 L463.5 138.2 L464.5 139 L465.5 139.9 L466.5 140.8 L467.5 141.8 L468.5 142.7 L469.5 143.7 L470.5 144.6 L471.5 145.6 L472.5 146.5 L473.5 147.4 L474.5 148.3 L475.5 149.2 L476.5 150 L477.5 150.8 L478.5 151.5 L479.5 152.2 L480.5 152.9 L481.5 153.5 L482.5 154 L483.5 154.6 L484.5 155.1 L485.5 155.6 L486.5 156 L487.5 156.4 L488.5 156.8 L489.5 157.1 L490.5 157.4 L491.5 157.7 L492.5 157.9 L493.5 158.2 L494.5 158.4 L495.5 158.6 L496.5 158.8 L497.5 158.9 L498.5 159.1 L499.5 159.2 L500.5 159.4 L501.5 159.5 L502.5 159.7 L503.5 159.8 L504.5 159.9 L505.5 160 L506.5 160.1 L507.5 160.2 L508.5 160.3 L509.5 160.4 L510.5 160.5 L511.5 160.6 L512.5 160.7 L513.5 160.8 L514.5 160.9 L515.5 161 L516.5 161.1 L517.5 161.2 L518.5 161.3 L519.5 161.4 L520.5 161.5 L521.5 161.5 L522.5 161.6 L523.5 161.7 L524.5 161.8 L525.5 161.9 L526.5 162 L527.5 162 L528.5 162.1 L529.5 162.2 L530.5 162.3 L531.5 162.4 L532.5 162.5 L533.5 162.5 L534.5 162.6 L535.5 162.7 L536.5 162.8 L537.5 162.8 L538.5 162.9 L539.5 163 L540.5 163.1 L541.5 163.2 L542.5 163.2 L543.5 163.3 L544.5 163.4 L545.5 163.5 L545.8 163.5" stroke="#3a3af0" stroke-width="1.2" fill="none"/>
<path d="M428.5 153.8 L429.5 153.9 L430.5 154.1 L431.5 154.2 L432.5 154.3 L433.5 154.4 L434.5 154.5 L435.5 154.5 L436.5 154.6 L437.5 154.7 L438.5 154.8 L439.5 154.9 L440.5 155 L441.5 155.1 L442.5 155.2 L443.5 155.3 L444.5 155.3 L445.5 155.4 L446.5 155.5 L447.5 155.6 L448.5 155.7 L449.5 155.8 L450.5 155.9 L451.5 155.9 L452.5 156 L453.5 156.1 L454.5 156.2 L455.5 156.3 L456.5 156.3 L457.5 156.4 L458.5 156.5 L459.5 156.6 L460.5 156.7 L461.5 156.7 L462.5 156.8 L463.5 156.9 L464.5 157 L465.5 157 L466.5 157.1 L467.5 157.2 L468.5 157.2 L469.5 157.3 L470.5 157.4 L471.5 157.4 L472.5 157.5 L473.5 157.5 L474.5 157.6 L475.5 157.6 L476.5 157.7 L477.5 157.7 L478.5 157.7 L479.5 157.7 L480.5 157.7 L481.5 157.6 L482.5 157.5 L483.5 157.4 L484.5 157.3 L485.5 157.1 L486.5 156.8 L487.5 156.5 L488.5 156.1 L489.5 155.6 L490.5 155 L491.5 154.2 L492.5 153.4 L493.5 152.5 L494.5 151.5 L495.5 150.4 L496.5 149.2 L497.5 148 L498.5 146.7 L499.5 145.5 L500.5 144.3 L501.5 143.2 L502.5 142.3 L503.5 141.6 L504.5 141.2 L505.5 141.1 L506.5 141.3 L507.5 141.8 L508.5 142.7 L509.5 143.7 L510.5 144.9 L511.5 146.3 L512.5 147.7 L513.5 149.1 L514.5 150.4 L515.5 151.7 L516.5 153 L517.5 154.1 L518.5 155.2 L519.5 156.1 L520.5 157 L521.5 157.8 L522.5 158.4 L523.5 159 L524.5 159.5 L525.5 159.9 L526.5 160.3 L527.5 160.6 L528.5 160.9 L529.5 161.2 L530.5 161.4 L531.5 161.6 L532.5 161.7 L533.5 161.9 L534.5 162 L535.5 162.2 L536.5 162.3 L537.5 162.4 L538.5 162.5 L539.5 162.7 L540.5 162.8 L541.5 162.9 L542.5 163 L543.5 163.1 L544.5 163.2 L545.5 163.2 L545.8 163.3" stroke="#ff30ff" stroke-width="1.2" fill="none"/>
<path d="M333.8 120.4 L334.3 120.7 L334.9 121.1 L335.6 121.5 L336.4 122 L337.2 122.5 L338 123 L338.7 123.4 L339.4 123.7 L340.1 124.1 L340.8 124.5 L341.6 124.9 L342.5 125.5 L343.6 126.2 L344.7 127.1 L346 128 L347.3 128.9 L348.6 129.8 L349.8 130.6 L351 131.3 L352.2 132 L353.4 132.6 L354.5 133.2 L355.8 133.8 L357 134.3 L358.2 134.8 L359.4 135.1 L360.7 135.5 L362 135.8 L363.4 136.2 L365 136.5 L366.9 136.9 L368.9 137.3 L371.1 137.7 L373.3 138.1 L375.5 138.4 L377.5 138.6 L379.4 138.6 L381.2 138.5 L383 138.2 L384.7 138 L386.2 137.9 L387.6 137.9 L388.7 138.1 L389.7 138.4 L390.5 138.7 L391.2 139.1 L392 139.6 L393 140 L394.1 140.5 L395.2 141 L396.4 141.5 L397.7 142 L399 142.5 L400.4 143 L401.9 143.4 L403.4 143.8 L405 144.1 L406.7 144.4 L408.4 144.7 L410 145 L411.6 145.3 L413.3 145.6 L415 145.8 L416.7 146.1 L418.3 146.3 L420 146.5 L421.6 146.8 L423.2 147.1 L424.8 147.5 L426.5 147.7 L428.2 147.8 L430 147.5 L432 146.9 L434.2 146 L436.5 144.8 L438.8 143.6 L440.9 142.4 L442.9 141.3 L444.7 140.2 L446.4 139.1 L447.9 138 L449.4 136.9 L450.8 136 L452 135.2 L453.1 134.6 L453.9 134.2 L454.7 133.9 L455.4 133.7 L456.2 133.5 L457 133.5 L457.9 133.6 L458.9 133.8 L460 134.1 L461 134.4 L462 134.8 L463 135.2 L464 135.6 L464.9 136 L465.8 136.5 L466.8 137 L467.7 137.5 L468.7 138.1 L469.7 138.8 L470.7 139.5 L471.8 140.3 L472.9 141 L473.9 141.8 L475 142.5 L476.1 143.2 L477.2 143.8 L478.3 144.5 L479.4 145.1 L480.5 145.6 L481.6 146 L482.7 146.4 L483.7 146.7 L484.8 146.9 L485.9 147 L486.9 147.1 L488 147 L489 146.8 L490.1 146.5 L491.1 146.1 L492.2 145.6 L493.3 145 L494.5 144.3 L495.9 143.4 L497.6 142.4 L499.4 141.2 L501 140.1 L502.4 139.2 L503.4 138.5" stroke="#f06a6a" stroke-width="1.35" fill="none" stroke-linejoin="round" stroke-linecap="round" />
<path d="M312.5 172.7 L350 175.5 L390 178.5 L432 181.3 L466 183.5 L509 186.8 L545.8 187.8" stroke="#5a22ee" stroke-width="1.9" fill="none" stroke-linejoin="round"/>
<path d="M312.5 171.7 L312.5 171.7 L313.5 171.7 L314.5 171.7 L315.5 171.7 L316.5 171.7 L317.5 171.6 L318.5 171.6 L319.5 171.6 L320.5 171.5 L321.5 171.4 L322.5 171.4 L323.5 171.3 L324.5 171.2 L325.5 171.2 L326.5 171.1 L327.5 171 L328.5 170.9 L329.5 170.8 L330.5 170.7 L331.5 170.6 L332.5 170.5 L333.5 170.4 L334.5 170.3 L335.5 170.2 L336.5 170.1 L337.5 170 L338.5 169.9 L339.5 169.8 L340.5 169.7 L341.5 169.7 L342.5 169.7 L343.5 169.7 L344.5 169.7 L345.5 169.7 L346.5 169.7 L347.5 169.8 L348.5 169.9 L349.5 170 L350.5 170.2 L351.5 170.3 L352.5 170.5 L353.5 170.7 L354.5 170.9 L355.5 171.1 L356.5 171.4 L357.5 171.6 L358.5 171.9 L359.5 172.1 L360.5 172.4 L361.5 172.6 L362.5 172.9 L363.5 173.2 L364.5 173.4 L365.5 173.7 L366.5 173.9 L367.5 174.1 L368.5 174.4 L369.5 174.6 L370.5 174.8 L371.5 175.1 L372.5 175.3 L373.5 175.5 L374.5 175.7 L375.5 175.9 L376.5 176 L377.5 176.2 L378.5 176.4 L379.5 176.5 L380.5 176.7 L381.5 176.9 L382.5 177 L383.5 177.1 L384.5 177.3 L385.5 177.4 L386.5 177.5 L387.5 177.7 L388.5 177.8 L389.5 177.9 L390.5 178 L391.5 178.1 L392.5 178.2 L393.5 178.3 L394.5 178.4 L395.5 178.5 L396.5 178.5 L397.5 178.6 L398.5 178.7 L399.5 178.8 L400.5 178.9 L401.5 179 L402.5 179 L403.5 179.1 L404.5 179.2 L405.5 179.3 L406.5 179.3 L407.5 179.4 L408.5 179.5 L409.5 179.6 L410.5 179.6 L411.5 179.7 L412.5 179.8 L413.5 179.9 L414.5 179.9 L415.5 180 L416.5 180.1 L417.5 180.1 L418.5 180.2 L419.5 180.3 L420.5 180.4 L421.5 180.4 L422.5 180.5 L423.5 180.6 L424.5 180.6 L425.5 180.7 L426.5 180.8" stroke="#3a3af0" stroke-width="1.2" fill="none"/>
<path d="M351.5 175.5 L352.5 175.5 L353.5 175.6 L354.5 175.7 L355.5 175.7 L356.5 175.8 L357.5 175.9 L358.5 175.9 L359.5 176 L360.5 176 L361.5 176.1 L362.5 176.1 L363.5 176.2 L364.5 176.2 L365.5 176.2 L366.5 176.2 L367.5 176.2 L368.5 176.2 L369.5 176.2 L370.5 176.2 L371.5 176.1 L372.5 176.1 L373.5 176 L374.5 175.9 L375.5 175.8 L376.5 175.7 L377.5 175.5 L378.5 175.4 L379.5 175.2 L380.5 175.1 L381.5 174.9 L382.5 174.7 L383.5 174.6 L384.5 174.5 L385.5 174.4 L386.5 174.3 L387.5 174.3 L388.5 174.4 L389.5 174.5 L390.5 174.7 L391.5 174.9 L392.5 175.1 L393.5 175.4 L394.5 175.6 L395.5 175.9 L396.5 176.3 L397.5 176.6 L398.5 176.9 L399.5 177.2 L400.5 177.4 L401.5 177.7 L402.5 177.9 L403.5 178.2 L404.5 178.4 L405.5 178.6 L406.5 178.8 L407.5 178.9 L408.5 179.1 L409.5 179.2 L410.5 179.4 L411.5 179.5 L412.5 179.6 L413.5 179.7 L414.5 179.8 L415.5 179.9 L416.5 180 L417.5 180.1 L418.5 180.2 L419.5 180.3 L420.5 180.3 L421.5 180.4 L422.5 180.5 L423.5 180.6 L424.5 180.6 L425.5 180.7" stroke="#ff30ff" stroke-width="1.2" fill="none"/>
<path d="M368.5 176.7 L369.5 176.8 L370.5 176.9 L371.5 177 L372.5 177 L373.5 177.1 L374.5 177.2 L375.5 177.2 L376.5 177.3 L377.5 177.4 L378.5 177.4 L379.5 177.5 L380.5 177.6 L381.5 177.7 L382.5 177.7 L383.5 177.8 L384.5 177.9 L385.5 177.9 L386.5 178 L387.5 178.1 L388.5 178.1 L389.5 178.2 L390.5 178.3 L391.5 178.3 L392.5 178.4 L393.5 178.5 L394.5 178.5 L395.5 178.6 L396.5 178.6 L397.5 178.7 L398.5 178.7 L399.5 178.8 L400.5 178.9 L401.5 178.9 L402.5 179 L403.5 179 L404.5 179.1 L405.5 179.1 L406.5 179.2 L407.5 179.2 L408.5 179.3 L409.5 179.3 L410.5 179.4 L411.5 179.4 L412.5 179.4 L413.5 179.5 L414.5 179.5 L415.5 179.5 L416.5 179.6 L417.5 179.6 L418.5 179.6 L419.5 179.6 L420.5 179.6 L421.5 179.6 L422.5 179.6 L423.5 179.6 L424.5 179.6 L425.5 179.5 L426.5 179.5 L427.5 179.4 L428.5 179.3 L429.5 179.2 L430.5 179.1 L431.5 179 L432.5 178.9 L433.5 178.7 L434.5 178.6 L435.5 178.4 L436.5 178.2 L437.5 177.9 L438.5 177.7 L439.5 177.5 L440.5 177.2 L441.5 176.9 L442.5 176.6 L443.5 176.3 L444.5 176 L445.5 175.7 L446.5 175.4 L447.5 175.1 L448.5 174.8 L449.5 174.6 L450.5 174.3 L451.5 174.1 L452.5 173.8 L453.5 173.7 L454.5 173.5 L455.5 173.5 L456.5 173.4 L457.5 173.5 L458.5 173.5 L459.5 173.7 L460.5 173.8 L461.5 174.1 L462.5 174.3 L463.5 174.7 L464.5 175 L465.5 175.4 L466.5 175.8 L467.5 176.2 L468.5 176.7 L469.5 177.1 L470.5 177.6 L471.5 178 L472.5 178.4 L473.5 178.9 L474.5 179.3 L475.5 179.7 L476.5 180.1 L477.5 180.5 L478.5 180.9 L479.5 181.2 L480.5 181.6 L481.5 181.9 L482.5 182.2 L483.5 182.5 L484.5 182.7 L485.5 183 L486.5 183.2 L487.5 183.5 L488.5 183.7 L489.5 183.9 L490.5 184.1 L491.5 184.2 L492.5 184.4 L493.5 184.6 L494.5 184.7 L495.5 184.9 L496.5 185 L497.5 185.1 L498.5 185.3 L499.5 185.4 L500.5 185.5 L501.5 185.6 L502.5 185.7 L503.5 185.8 L504.5 185.9 L505.5 186 L506.5 186.1 L507.5 186.2 L508.5 186.3 L509.5 186.4 L510.5 186.4 L511.5 186.5 L512.5 186.5 L513.5 186.6 L514.5 186.6 L515.5 186.6 L516.5 186.7 L517.5 186.7 L518.5 186.7 L519.5 186.8 L520.5 186.8 L521.5 186.9 L522.5 186.9 L523.5 186.9 L524.5 187 L525.5 187 L526.5 187 L527.5 187.1 L528.5 187.1 L529.5 187.1 L530.5 187.2 L531.5 187.2 L532.5 187.2 L533.5 187.3 L534.5 187.3 L535.5 187.3 L536.5 187.4 L537.5 187.4 L538.5 187.4 L539.5 187.5 L540.5 187.5 L541.5 187.5 L542.5 187.5 L543.5 187.6 L544.5 187.6 L545.5 187.6 L545.8 187.6" stroke="#3a3af0" stroke-width="1.2" fill="none"/>
<path d="M446.5 182.1 L447.5 182.1 L448.5 182.2 L449.5 182.3 L450.5 182.3 L451.5 182.4 L452.5 182.4 L453.5 182.5 L454.5 182.6 L455.5 182.6 L456.5 182.7 L457.5 182.7 L458.5 182.8 L459.5 182.8 L460.5 182.9 L461.5 182.9 L462.5 183 L463.5 183 L464.5 183.1 L465.5 183.1 L466.5 183.2 L467.5 183.2 L468.5 183.3 L469.5 183.3 L470.5 183.4 L471.5 183.4 L472.5 183.5 L473.5 183.5 L474.5 183.5 L475.5 183.5 L476.5 183.5 L477.5 183.5 L478.5 183.5 L479.5 183.4 L480.5 183.3 L481.5 183.2 L482.5 183.1 L483.5 183 L484.5 182.8 L485.5 182.5 L486.5 182.3 L487.5 182 L488.5 181.6 L489.5 181.3 L490.5 180.9 L491.5 180.5 L492.5 180 L493.5 179.6 L494.5 179.2 L495.5 178.8 L496.5 178.4 L497.5 178.1 L498.5 177.8 L499.5 177.7 L500.5 177.7 L501.5 177.7 L502.5 177.9 L503.5 178.2 L504.5 178.6 L505.5 179.1 L506.5 179.6 L507.5 180.2 L508.5 180.8 L509.5 181.3 L510.5 181.9 L511.5 182.4 L512.5 182.9 L513.5 183.3 L514.5 183.8 L515.5 184.2 L516.5 184.5 L517.5 184.9 L518.5 185.2 L519.5 185.4 L520.5 185.7 L521.5 185.9 L522.5 186 L523.5 186.2 L524.5 186.3 L525.5 186.5 L526.5 186.6 L527.5 186.7 L528.5 186.7 L529.5 186.8 L530.5 186.9 L531.5 186.9 L532.5 187 L533.5 187.1 L534.5 187.1 L535.5 187.2 L536.5 187.2 L537.5 187.3 L538.5 187.3 L539.5 187.3 L540.5 187.4 L541.5 187.4 L542.5 187.5 L543.5 187.5 L544.5 187.5 L545.5 187.6 L545.8 187.6" stroke="#ff30ff" stroke-width="1.2" fill="none"/>
<path d="M326.2 152 L326.6 152.4 L327.2 152.9 L327.9 153.5 L328.6 154.2 L329.3 154.8 L330 155.5 L330.6 156.2 L331.3 156.9 L331.9 157.6 L332.6 158.4 L333.2 159 L333.8 159.6 L334.4 160.1 L334.9 160.5 L335.5 160.8 L336 161.1 L336.6 161.4 L337.1 161.6 L337.6 161.8 L338.2 161.9 L338.7 162 L339.2 162.1 L339.8 162.2 L340.4 162.4 L341 162.7 L341.7 162.9 L342.3 163.3 L343.1 163.6 L343.8 164 L344.7 164.4 L345.6 164.8 L346.6 165.3 L347.6 165.8 L348.7 166.3 L349.9 166.8 L351.3 167.3 L352.8 167.8 L354.5 168.3 L356.2 168.8 L358.1 169.3 L360.1 169.7 L362.2 170.1 L364.5 170.4 L367.1 170.8 L369.8 171 L372.6 171.3 L375.2 171.5 L377.5 171.6 L379.6 171.6 L381.5 171.5 L383.3 171.3 L385 171.2 L386.7 171.1 L388.4 171.2 L390 171.4 L391.6 171.7 L393.1 172.1 L394.7 172.5 L396.3 173 L398 173.5 L399.9 174 L401.9 174.7 L404 175.4 L406.1 176 L408.1 176.6 L410 177 L411.7 177.3 L413.3 177.5 L414.8 177.6 L416.4 177.6 L418.1 177.6 L420 177.5 L422.2 177.3 L424.7 177 L427.3 176.7 L430 176.3 L432.6 175.9 L435 175.5 L437.3 175.2 L439.6 174.8 L441.8 174.4 L444 174.1 L446 173.8 L448 173.5 L449.8 173.3 L451.5 173.1 L453.1 172.9 L454.6 172.8 L456.2 172.7 L457.8 172.8 L459.5 173 L461.1 173.3 L462.8 173.8 L464.5 174.2 L466.2 174.6 L468 175 L469.9 175.4 L471.8 175.8 L473.7 176.2 L475.7 176.6 L477.7 176.8 L479.6 176.7 L481.5 176.3 L483.5 175.7 L485.4 175 L487.3 174.1 L489.1 173.3 L490.7 172.5 L492.2 171.8 L493.6 171.1 L494.8 170.4 L496 169.7 L497 169.1 L498 168.5 L498.9 168 L499.6 167.5 L500.3 167 L500.8 166.6 L501.3 166.3 L501.6 166" stroke="#f06a6a" stroke-width="1.35" fill="none" stroke-linejoin="round" stroke-linecap="round" />
<path d="M356 50 L351.1 174" stroke="#4a4af0" stroke-width="0.8" stroke-dasharray="2.5 1.5" fill="none"/>
<path d="M386.7 41 L388.2 181.5" stroke="#ff40ff" stroke-width="0.8" stroke-dasharray="2.5 1.5" fill="none"/>
<path d="M461.7 55 L458.3 182" stroke="#4a4af0" stroke-width="0.8" stroke-dasharray="2.5 1.5" fill="none"/>
<path d="M508 55 L501.7 186" stroke="#ff40ff" stroke-width="0.8" stroke-dasharray="2.5 1.5" fill="none"/>
<rect x="312.5" y="4.5" width="233.3" height="187.9" fill="none" stroke="#3a3a3a" stroke-width="1.2"/>
<path d="M331.4 192.4 v3.5 M370.4 192.4 v3.5 M409.4 192.4 v3.5 M448.4 192.4 v3.5 M487.4 192.4 v3.5 M526.4 192.4 v3.5 M350.9 192.4 v2.2 M389.9 192.4 v2.2 M428.9 192.4 v2.2 M467.9 192.4 v2.2 M506.9 192.4 v2.2" stroke="#333" stroke-width="1" fill="none"/>
<text transform="translate(331.4 206.8) scale(1 1.12)" font-size="9.7" fill="#1a1a1a" stroke="#1a1a1a" stroke-width="0.2" text-anchor="middle">344</text>
<text transform="translate(370.4 206.8) scale(1 1.12)" font-size="9.7" fill="#1a1a1a" stroke="#1a1a1a" stroke-width="0.2" text-anchor="middle">342</text>
<text transform="translate(409.4 206.8) scale(1 1.12)" font-size="9.7" fill="#1a1a1a" stroke="#1a1a1a" stroke-width="0.2" text-anchor="middle">340</text>
<text transform="translate(448.4 206.8) scale(1 1.12)" font-size="9.7" fill="#1a1a1a" stroke="#1a1a1a" stroke-width="0.2" text-anchor="middle">338</text>
<text transform="translate(487.4 206.8) scale(1 1.12)" font-size="9.7" fill="#1a1a1a" stroke="#1a1a1a" stroke-width="0.2" text-anchor="middle">336</text>
<text transform="translate(526.4 206.8) scale(1 1.12)" font-size="9.7" fill="#1a1a1a" stroke="#1a1a1a" stroke-width="0.2" text-anchor="middle">334</text>
<text x="429.4" y="223.3" font-size="10.5" fill="#1a1a1a" text-anchor="middle"  stroke="#1a1a1a" stroke-width="0.22">Binding Energy (eV)</text>
<text x="304.1" y="98.5" font-size="11" fill="#222" text-anchor="middle" transform="rotate(-90 304.1 98.5)" stroke="#222" stroke-width="0.22">Intensity (a.u.)</text>
<text x="317.8" y="15.4" font-size="7.9" fill="#222" text-anchor="start"  stroke="#222" stroke-width="0.15">(B)</text>
<text x="538.8" y="18.8" font-size="9.0" fill="#222" text-anchor="end"  stroke="#222" stroke-width="0.22">Pd 3d</text>
<text transform="translate(397.2 58.7) scale(1 1.15)" font-size="6.4" fill="#1a1a1a" text-anchor="start"  stroke="#1a1a1a" stroke-width="0.15">0.6Pt-0.4Pd/CZL</text>
<text transform="translate(397.2 69) scale(1 1.15)" font-size="6.4" fill="#1a1a1a" text-anchor="start"  stroke="#1a1a1a" stroke-width="0.15">-a(R700)</text>
<text transform="translate(394.5 95.7) scale(1 1.15)" font-size="6.4" fill="#1a1a1a" text-anchor="start"  stroke="#1a1a1a" stroke-width="0.15">0.6Pt-0.4Pd/CZL</text>
<text transform="translate(394.5 105.6) scale(1 1.15)" font-size="6.4" fill="#1a1a1a" text-anchor="start"  stroke="#1a1a1a" stroke-width="0.15">-a(R550)</text>
<text transform="translate(390.4 134.8) scale(1 1.15)" font-size="6.4" fill="#1a1a1a" text-anchor="start"  stroke="#1a1a1a" stroke-width="0.15">0.6Pt-0.4Pd/CZL-a</text>
<text transform="translate(395.5 167.4) scale(1 1.15)" font-size="6.4" fill="#1a1a1a" text-anchor="start"  stroke="#1a1a1a" stroke-width="0.15">0.6Pt-0.4Pd/CZL</text>
<text x="350.9" y="44.7" font-size="8.8" fill="#2c2cb8" stroke="#2c2cb8" stroke-width="0.3">Pd<tspan font-size="5.8" dy="-3.5">2+</tspan></text>
<text x="381.7" y="36" font-size="8.8" fill="#ff33ff" stroke="#ff33ff" stroke-width="0.3">Pd<tspan font-size="5.8" dy="-3.5">0</tspan></text>
<text x="455" y="48.8" font-size="8.8" fill="#2c2cb8" stroke="#2c2cb8" stroke-width="0.3">Pd<tspan font-size="5.8" dy="-3.5">2+</tspan></text>
<text x="505" y="51.3" font-size="8.8" fill="#ff33ff" stroke="#ff33ff" stroke-width="0.3">Pd<tspan font-size="5.8" dy="-3.5">0</tspan></text>
<path d="M166.3 289.9 L215 294.6 L295 304.3 L335 309.3 L399.8 318.8" stroke="#3c3c3c" stroke-width="1.0" fill="none"/>
<path d="M166.3 289 L215 293.5 L295 303 L335 307.8 L399.8 317.1" stroke="#7ac13e" stroke-width="1.25" fill="none"/>
<path d="M166.3 289.2 L166.3 289.2 L167.3 289.2 L168.3 289.3 L169.3 289.4 L170.3 289.4 L171.3 289.5 L172.3 289.5 L173.3 289.6 L174.3 289.6 L175.3 289.7 L176.3 289.7 L177.3 289.7 L178.3 289.8 L179.3 289.8 L180.3 289.8 L181.3 289.7 L182.3 289.7 L183.3 289.6 L184.3 289.5 L185.3 289.3 L186.3 289.1 L187.3 288.8 L188.3 288.3 L189.3 287.7 L190.3 286.8 L191.3 285.5 L192.3 283.9 L193.3 281.9 L194.3 279.4 L195.3 276.7 L196.3 274 L197.3 272 L198.3 271.5 L199.3 272.5 L200.3 274.9 L201.3 277.8 L202.3 280.7 L203.3 283.2 L204.3 285.4 L205.3 287.1 L206.3 288.5 L207.3 289.5 L208.3 290.3 L209.3 290.9 L210.3 291.4 L211.3 291.8 L212.3 292.1 L213.3 292.4 L214.3 292.7 L215.3 292.9 L216.3 293.1 L217.3 293.4 L218.3 293.6 L219.3 293.8 L220.3 293.9 L221.3 294.1 L222.3 294.3 L223.3 294.4 L224.3 294.6 L225.3 294.8 L226.3 294.9 L227.3 295.1 L228.3 295.2 L229.3 295.3 L230.3 295.5 L231.3 295.6 L232.3 295.8 L233.3 295.9 L234.3 296 L235.3 296.2 L236.3 296.3 L237.3 296.4 L238.3 296.5 L239.3 296.7 L240.3 296.8 L241.3 296.9 L242.3 297.1 L243.3 297.2 L244.3 297.3 L245.3 297.4 L246.3 297.6 L247.3 297.7" stroke="#7a3535" stroke-width="0.9" fill="none"/>
<path d="M209.3 293.3 L210.3 293.4 L211.3 293.5 L212.3 293.6 L213.3 293.7 L214.3 293.7 L215.3 293.8 L216.3 293.9 L217.3 294 L218.3 294.1 L219.3 294.2 L220.3 294.3 L221.3 294.4 L222.3 294.4 L223.3 294.5 L224.3 294.5 L225.3 294.5 L226.3 294.5 L227.3 294.5 L228.3 294.4 L229.3 294.3 L230.3 294.2 L231.3 294 L232.3 293.8 L233.3 293.6 L234.3 293.3 L235.3 293 L236.3 292.7 L237.3 292.4 L238.3 292.1 L239.3 291.8 L240.3 291.5 L241.3 291.3 L242.3 291.1 L243.3 291 L244.3 291 L245.3 291.1 L246.3 291.3 L247.3 291.6 L248.3 292 L249.3 292.4 L250.3 292.9 L251.3 293.5 L252.3 294 L253.3 294.6 L254.3 295.1 L255.3 295.7 L256.3 296.2 L257.3 296.7 L258.3 297.1 L259.3 297.5 L260.3 297.9 L261.3 298.2 L262.3 298.6 L263.3 298.8 L264.3 299.1 L265.3 299.3 L266.3 299.5 L267.3 299.7 L268.3 299.9 L269.3 300.1 L270.3 300.2 L271.3 300.4 L272.3 300.5 L273.3 300.7 L274.3 300.8 L275.3 301 L276.3 301.1 L277.3 301.2 L278.3 301.4 L279.3 301.5 L280.3 301.6" stroke="#88c540" stroke-width="0.9" fill="none"/>
<path d="M240.3 296.9 L241.3 297 L242.3 297.1 L243.3 297.2 L244.3 297.3 L245.3 297.4 L246.3 297.5 L247.3 297.6 L248.3 297.7 L249.3 297.7 L250.3 297.8 L251.3 297.9 L252.3 297.9 L253.3 297.8 L254.3 297.8 L255.3 297.6 L256.3 297.3 L257.3 296.9 L258.3 296.4 L259.3 295.7 L260.3 294.9 L261.3 294 L262.3 293.1 L263.3 292.2 L264.3 291.4 L265.3 290.8 L266.3 290.6 L267.3 290.8 L268.3 291.4 L269.3 292.3 L270.3 293.4 L271.3 294.6 L272.3 295.7 L273.3 296.9 L274.3 297.8 L275.3 298.7 L276.3 299.4 L277.3 300 L278.3 300.4 L279.3 300.8 L280.3 301.1 L281.3 301.4 L282.3 301.6 L283.3 301.8 L284.3 301.9 L285.3 302.1 L286.3 302.2 L287.3 302.4 L288.3 302.5 L289.3 302.6 L290.3 302.8 L291.3 302.9 L292.3 303" stroke="#22c8d2" stroke-width="0.9" fill="none"/>
<path d="M242.3 297.1 L243.3 297.2 L244.3 297.3 L245.3 297.4 L246.3 297.5 L247.3 297.6 L248.3 297.8 L249.3 297.9 L250.3 298 L251.3 298.1 L252.3 298.2 L253.3 298.3 L254.3 298.4 L255.3 298.5 L256.3 298.6 L257.3 298.7 L258.3 298.7 L259.3 298.8 L260.3 298.9 L261.3 299 L262.3 299 L263.3 299.1 L264.3 299.1 L265.3 299.2 L266.3 299.2 L267.3 299.1 L268.3 299 L269.3 298.8 L270.3 298.5 L271.3 297.9 L272.3 297.1 L273.3 296 L274.3 294.5 L275.3 292.6 L276.3 290.4 L277.3 288.1 L278.3 285.7 L279.3 283.6 L280.3 282.2 L281.3 281.9 L282.3 282.7 L283.3 284.5 L284.3 286.9 L285.3 289.5 L286.3 292.1 L287.3 294.5 L288.3 296.5 L289.3 298.2 L290.3 299.4 L291.3 300.4 L292.3 301.2 L293.3 301.7 L294.3 302.1 L295.3 302.5 L296.3 302.8 L297.3 303 L298.3 303.2 L299.3 303.4 L300.3 303.6 L301.3 303.7 L302.3 303.9 L303.3 304.1 L304.3 304.2 L305.3 304.4 L306.3 304.5 L307.3 304.7 L308.3 304.8 L309.3 304.9 L310.3 305.1 L311.3 305.2 L312.3 305.4 L313.3 305.5 L314.3 305.6 L315.3 305.8 L316.3 305.9 L317.3 306 L318.3 306.1 L319.3 306.3" stroke="#5aa5e6" stroke-width="0.9" fill="none"/>
<path d="M279.3 301.5 L280.3 301.6 L281.3 301.7 L282.3 301.8 L283.3 301.8 L284.3 301.9 L285.3 301.8 L286.3 301.6 L287.3 301.1 L288.3 299.9 L289.3 298 L290.3 295.4 L291.3 292.9 L292.3 291.7 L293.3 292.7 L294.3 295.3 L295.3 298.2 L296.3 300.5 L297.3 302.1 L298.3 302.9 L299.3 303.4 L300.3 303.7 L301.3 303.9 L302.3 304.1 L303.3 304.3 L304.3 304.4 L305.3 304.6" stroke="#f08c28" stroke-width="0.9" fill="none"/>
<path d="M271.3 300.5 L272.3 300.6 L273.3 300.8 L274.3 300.9 L275.3 301 L276.3 301.1 L277.3 301.1 L278.3 301.2 L279.3 301.3 L280.3 301.4 L281.3 301.5 L282.3 301.5 L283.3 301.6 L284.3 301.6 L285.3 301.6 L286.3 301.5 L287.3 301.3 L288.3 300.9 L289.3 300 L290.3 298.5 L291.3 296.3 L292.3 293.3 L293.3 289.8 L294.3 287 L295.3 286 L296.3 287.7 L297.3 291 L298.3 294.6 L299.3 297.8 L300.3 300.1 L301.3 301.7 L302.3 302.7 L303.3 303.3 L304.3 303.7 L305.3 304 L306.3 304.2 L307.3 304.4 L308.3 304.6 L309.3 304.8 L310.3 305 L311.3 305.1 L312.3 305.3 L313.3 305.5 L314.3 305.6 L315.3 305.7 L316.3 305.9 L317.3 306 L318.3 306.1 L319.3 306.3" stroke="#d8a828" stroke-width="0.9" fill="none"/>
<path d="M309.3 305.1 L310.3 305.2 L311.3 305.3 L312.3 305.4 L313.3 305.5 L314.3 305.6 L315.3 305.7 L316.3 305.8 L317.3 305.9 L318.3 306 L319.3 306 L320.3 306.1 L321.3 306.1 L322.3 306.2 L323.3 306.2 L324.3 306.1 L325.3 306.1 L326.3 306 L327.3 305.9 L328.3 305.8 L329.3 305.7 L330.3 305.5 L331.3 305.3 L332.3 305 L333.3 304.8 L334.3 304.6 L335.3 304.3 L336.3 304.1 L337.3 303.9 L338.3 303.8 L339.3 303.7 L340.3 303.7 L341.3 303.7 L342.3 303.9 L343.3 304.1 L344.3 304.4 L345.3 304.8 L346.3 305.2 L347.3 305.7 L348.3 306.2 L349.3 306.7 L350.3 307.2 L351.3 307.7 L352.3 308.2 L353.3 308.7 L354.3 309.1 L355.3 309.5 L356.3 309.9 L357.3 310.3 L358.3 310.6 L359.3 310.9 L360.3 311.2 L361.3 311.5 L362.3 311.7 L363.3 311.9 L364.3 312.1 L365.3 312.3 L366.3 312.5 L367.3 312.7 L368.3 312.8 L369.3 313 L370.3 313.2 L371.3 313.3 L372.3 313.5 L373.3 313.6 L374.3 313.8" stroke="#a8a030" stroke-width="0.9" fill="none"/>
<path d="M311.3 305.3 L312.3 305.4 L313.3 305.5 L314.3 305.6 L315.3 305.8 L316.3 305.9 L317.3 306 L318.3 306.1 L319.3 306.2 L320.3 306.3 L321.3 306.4 L322.3 306.5 L323.3 306.6 L324.3 306.8 L325.3 306.9 L326.3 307 L327.3 307.1 L328.3 307.2 L329.3 307.3 L330.3 307.4 L331.3 307.5 L332.3 307.6 L333.3 307.7 L334.3 307.8 L335.3 307.9 L336.3 308 L337.3 308.1 L338.3 308.1 L339.3 308.2 L340.3 308.3 L341.3 308.3 L342.3 308.3 L343.3 308.3 L344.3 308.2 L345.3 308.1 L346.3 307.9 L347.3 307.7 L348.3 307.3 L349.3 306.9 L350.3 306.3 L351.3 305.6 L352.3 304.8 L353.3 303.9 L354.3 302.9 L355.3 301.8 L356.3 300.7 L357.3 299.5 L358.3 298.4 L359.3 297.3 L360.3 296.3 L361.3 295.6 L362.3 295.1 L363.3 294.9 L364.3 295 L365.3 295.5 L366.3 296.3 L367.3 297.3 L368.3 298.6 L369.3 299.9 L370.3 301.4 L371.3 302.8 L372.3 304.3 L373.3 305.7 L374.3 306.9 L375.3 308.1 L376.3 309.2 L377.3 310.2 L378.3 311 L379.3 311.8 L380.3 312.4 L381.3 313 L382.3 313.4 L383.3 313.8 L384.3 314.2 L385.3 314.5 L386.3 314.8 L387.3 315 L388.3 315.3 L389.3 315.5 L390.3 315.7 L391.3 315.9 L392.3 316 L393.3 316.2 L394.3 316.4 L395.3 316.6 L396.3 316.7 L397.3 316.9 L398.3 317 L399.3 317.2 L399.8 317.3" stroke="#b57af0" stroke-width="0.9" fill="none"/>
<path d="M340.3 308.9 L341.3 309 L342.3 309.2 L343.3 309.3 L344.3 309.4 L345.3 309.6 L346.3 309.7 L347.3 309.8 L348.3 310 L349.3 310.1 L350.3 310.2 L351.3 310.3 L352.3 310.5 L353.3 310.6 L354.3 310.7 L355.3 310.8 L356.3 310.9 L357.3 311 L358.3 311.1 L359.3 311.2 L360.3 311.2 L361.3 311.3 L362.3 311.3 L363.3 311.3 L364.3 311.3 L365.3 311.2 L366.3 310.9 L367.3 310.5 L368.3 309.7 L369.3 308.5 L370.3 306.8 L371.3 304.5 L372.3 301.5 L373.3 298.1 L374.3 294.5 L375.3 291.5 L376.3 289.6 L377.3 289.5 L378.3 291.4 L379.3 294.6 L380.3 298.3 L381.3 302.1 L382.3 305.5 L383.3 308.2 L384.3 310.4 L385.3 311.9 L386.3 313.1 L387.3 313.9 L388.3 314.4 L389.3 314.9 L390.3 315.2 L391.3 315.5 L392.3 315.7 L393.3 316 L394.3 316.2 L395.3 316.4 L396.3 316.6 L397.3 316.8 L398.3 317 L399.3 317.1 L399.8 317.2" stroke="#8a5548" stroke-width="0.9" fill="none"/>
<path d="M378.3 314.4 L379.3 314.5 L380.3 314.5 L381.3 314.4 L382.3 314.2 L383.3 313.9 L384.3 313.6 L385.3 313.5 L386.3 313.7 L387.3 314.2 L388.3 314.8 L389.3 315.4 L390.3 315.8 L391.3 316.1 L392.3 316.4" stroke="#40c080" stroke-width="0.9" fill="none"/>
<path d="M166.3 288.7 L167 288.8 L167.7 288.8 L168.4 288.9 L169.1 288.9 L169.8 289 L170.5 289 L171.2 289 L171.9 289.1 L172.6 289.1 L173.3 289.2 L174 289.2 L174.7 289.2 L175.4 289.2 L176.1 289.3 L176.8 289.3 L177.5 289.3 L178.2 289.3 L178.9 289.3 L179.6 289.3 L180.3 289.3 L181 289.3 L181.7 289.2 L182.4 289.2 L183.1 289.2 L183.8 289.1 L184.5 289 L185.2 288.9 L185.9 288.7 L186.6 288.5 L187.3 288.3 L188 288 L188.7 287.6 L189.4 287.1 L190.1 286.5 L190.8 285.7 L191.5 284.7 L192.2 283.6 L192.9 282.2 L193.6 280.6 L194.3 278.9 L195 277 L195.7 275 L196.4 273.2 L197.1 271.8 L197.8 271 L198.5 271 L199.2 271.8 L199.9 273.3 L200.6 275.1 L201.3 277.2 L202 279.2 L202.7 281.1 L203.4 282.9 L204.1 284.4 L204.8 285.7 L205.5 286.8 L206.2 287.7 L206.9 288.5 L207.6 289.1 L208.3 289.6 L209 290.1 L209.7 290.4 L210.4 290.8 L211.1 291 L211.8 291.3 L212.5 291.5 L213.2 291.6 L213.9 291.8 L214.6 292 L215.3 292.1 L216 292.3 L216.7 292.4 L217.4 292.5 L218.1 292.6 L218.8 292.7 L219.5 292.8 L220.2 292.9 L220.9 293 L221.6 293.1 L222.3 293.1 L223 293.2 L223.7 293.2 L224.4 293.2 L225.1 293.3 L225.8 293.2 L226.5 293.2 L227.2 293.2 L227.9 293.1 L228.6 293.1 L229.3 293 L230 292.9 L230.7 292.7 L231.4 292.6 L232.1 292.4 L232.8 292.2 L233.5 292 L234.2 291.8 L234.9 291.5 L235.6 291.2 L236.3 290.9 L237 290.6 L237.7 290.3 L238.4 290 L239.1 289.7 L239.8 289.4 L240.5 289.2 L241.2 288.9 L241.9 288.7 L242.6 288.4 L243.3 288.3 L244 288.1 L244.7 288.1 L245.4 288 L246.1 288 L246.8 288.1 L247.5 288.2 L248.2 288.3 L248.9 288.5 L249.6 288.6 L250.3 288.8 L251 289.1 L251.7 289.3 L252.4 289.5 L253.1 289.7 L253.8 289.9 L254.5 290 L255.2 290.1 L255.9 290.2 L256.6 290.1 L257.3 290.1 L258 289.9 L258.7 289.7 L259.4 289.4 L260.1 289 L260.8 288.6 L261.5 288.1 L262.2 287.6 L262.9 287 L263.6 286.5 L264.3 286.1 L265 285.8 L265.7 285.6 L266.4 285.6 L267.1 285.8 L267.8 286.1 L268.5 286.5 L269.2 287.1 L269.9 287.6 L270.6 288.1 L271.3 288.6 L272 288.8 L272.7 288.9 L273.4 288.8 L274.1 288.3 L274.8 287.6 L275.5 286.6 L276.2 285.3 L276.9 283.7 L277.6 282.1 L278.3 280.3 L279 278.7 L279.7 277.3 L280.4 276.4 L281.1 276.2 L281.8 276.5 L282.5 277.6 L283.2 279.1 L283.9 281 L284.6 283 L285.3 285 L286 286.8 L286.7 288.3 L287.4 289.1 L288.1 289.2 L288.8 288.2 L289.5 286.2 L290.2 283.1 L290.9 279.3 L291.6 275.3 L292.3 272.2 L293 270.5 L293.7 270.4 L294.4 271.6 L295.1 274 L295.8 277.2 L296.5 280.9 L297.2 284.7 L297.9 288.1 L298.6 291 L299.3 293.4 L300 295.3 L300.7 296.9 L301.4 298 L302.1 299 L302.8 299.7 L303.5 300.3 L304.2 300.9 L304.9 301.3 L305.6 301.7 L306.3 302.1 L307 302.4 L307.7 302.6 L308.4 302.9 L309.1 303.1 L309.8 303.3 L310.5 303.5 L311.2 303.6 L311.9 303.8 L312.6 303.9 L313.3 304 L314 304.1 L314.7 304.2 L315.4 304.3 L316.1 304.4 L316.8 304.5 L317.5 304.6 L318.2 304.7 L318.9 304.7 L319.6 304.8 L320.3 304.8 L321 304.9 L321.7 304.9 L322.4 304.9 L323.1 304.9 L323.8 304.9 L324.5 304.8 L325.2 304.8 L325.9 304.7 L326.6 304.7 L327.3 304.6 L328 304.4 L328.7 304.3 L329.4 304.2 L330.1 304 L330.8 303.8 L331.5 303.6 L332.2 303.3 L332.9 303.1 L333.6 302.8 L334.3 302.5 L335 302.3 L335.7 302 L336.4 301.7 L337.1 301.5 L337.8 301.2 L338.5 300.9 L339.2 300.7 L339.9 300.5 L340.6 300.3 L341.3 300.2 L342 300 L342.7 299.9 L343.4 299.8 L344.1 299.8 L344.8 299.7 L345.5 299.7 L346.2 299.7 L346.9 299.6 L347.6 299.6 L348.3 299.5 L349 299.4 L349.7 299.3 L350.4 299.1 L351.1 298.9 L351.8 298.6 L352.5 298.3 L353.2 298 L353.9 297.6 L354.6 297.1 L355.3 296.6 L356 296 L356.7 295.5 L357.4 294.9 L358.1 294.3 L358.8 293.7 L359.5 293.1 L360.2 292.6 L360.9 292.1 L361.6 291.7 L362.3 291.3 L363 291 L363.7 290.9 L364.4 290.7 L365.1 290.6 L365.8 290.6 L366.5 290.5 L367.2 290.4 L367.9 290.3 L368.6 290.1 L369.3 289.8 L370 289.5 L370.7 289 L371.4 288.3 L372.1 287.3 L372.8 286.1 L373.5 284.6 L374.2 282.9 L374.9 281.2 L375.6 279.8 L376.3 279.1 L377 279.3 L377.7 280.6 L378.4 282.8 L379.1 285.5 L379.8 288.5 L380.5 291.4 L381.2 293.9 L381.9 296.1 L382.6 297.8 L383.3 299 L384 299.9 L384.7 300.7 L385.4 301.4 L386.1 302.3 L386.8 303.4 L387.5 304.6 L388.2 305.9 L388.9 307.2 L389.6 308.4 L390.3 309.5 L391 310.5 L391.7 311.4 L392.4 312.1 L393.1 312.8 L393.8 313.3 L394.5 313.8 L395.2 314.3 L395.9 314.6 L396.6 314.9 L397.3 315.2 L398 315.4 L398.7 315.7 L399.4 315.9 L399.8 316" stroke="#ff5c5c" stroke-width="1.3" fill="none"/>
<path d="M172.3 289.5 L172.3 289.5 L173.3 289.6 L174.3 289.6 L175.3 289.7 L176.3 289.7 L177.3 289.7 L178.3 289.8 L179.3 289.8 L180.3 289.8 L181.3 289.7 L182.3 289.7 L183.3 289.6 L184.3 289.5 L185.3 289.3 L186.3 289.1 L187.3 288.8 L188.3 288.3 L189.3 287.7 L190.3 286.8 L191.3 285.5 L192.3 283.9 L193.3 281.9 L194.3 279.4 L195.3 276.7 L196.3 274 L197.3 272 L198.3 271.5 L199.3 272.5 L200.3 274.9 L201.3 277.8 L202.3 280.7 L203.3 283.2 L204.3 285.4 L205.3 287.1 L206.3 288.5 L207.3 289.5 L208.3 290.3 L209.3 290.9 L210.3 291.4 L211.3 291.8 L212.3 292.1 L213.3 292.4 L214.3 292.7 L215.3 292.9 L216.3 293.1 L217.3 293.4 L218.3 293.6 L219.3 293.8 L220.3 293.9 L221.3 294.1 L222.3 294.3 L223.3 294.4 L224.3 294.6 L225.3 294.8 L226.3 294.9 L227.3 295.1 L228.3 295.2 L229.3 295.3 L230.3 295.5 L231.3 295.6 L232 295.7" stroke="#6a2828" stroke-width="0.8" fill="none"/>
<path d="M166.3 329.9 L270 341.5 L399.8 357.9" stroke="#3c3c3c" stroke-width="1.0" fill="none"/>
<path d="M166.3 329 L270 340.2 L399.8 356.2" stroke="#7ac13e" stroke-width="1.25" fill="none"/>
<path d="M166.3 329.2 L166.3 329.2 L167.3 329.3 L168.3 329.4 L169.3 329.4 L170.3 329.5 L171.3 329.6 L172.3 329.7 L173.3 329.8 L174.3 329.8 L175.3 329.9 L176.3 329.9 L177.3 330 L178.3 330 L179.3 330.1 L180.3 330.1 L181.3 330.1 L182.3 330.1 L183.3 330 L184.3 329.9 L185.3 329.8 L186.3 329.6 L187.3 329.4 L188.3 329 L189.3 328.4 L190.3 327.6 L191.3 326.5 L192.3 325.1 L193.3 323.2 L194.3 321 L195.3 318.6 L196.3 316.2 L197.3 314.5 L198.3 314 L199.3 315 L200.3 317.1 L201.3 319.8 L202.3 322.4 L203.3 324.7 L204.3 326.7 L205.3 328.3 L206.3 329.5 L207.3 330.5 L208.3 331.2 L209.3 331.8 L210.3 332.3 L211.3 332.7 L212.3 333 L213.3 333.3 L214.3 333.5 L215.3 333.8 L216.3 334 L217.3 334.2 L218.3 334.4 L219.3 334.5 L220.3 334.7 L221.3 334.9 L222.3 335 L223.3 335.2 L224.3 335.3 L225.3 335.4 L226.3 335.6 L227.3 335.7 L228.3 335.8 L229.3 336 L230.3 336.1 L231.3 336.2 L232.3 336.4 L233.3 336.5 L234.3 336.6 L235.3 336.7 L236.3 336.8 L237.3 337 L238.3 337.1 L239.3 337.2 L240.3 337.3 L241.3 337.4 L242.3 337.5 L243.3 337.7 L244.3 337.8" stroke="#7a3535" stroke-width="0.9" fill="none"/>
<path d="M207.3 333.8 L208.3 333.9 L209.3 334 L210.3 334.1 L211.3 334.2 L212.3 334.3 L213.3 334.4 L214.3 334.5 L215.3 334.6 L216.3 334.6 L217.3 334.7 L218.3 334.8 L219.3 334.9 L220.3 334.9 L221.3 335 L222.3 335 L223.3 335 L224.3 335 L225.3 335 L226.3 335 L227.3 334.9 L228.3 334.8 L229.3 334.6 L230.3 334.5 L231.3 334.2 L232.3 334 L233.3 333.7 L234.3 333.4 L235.3 333 L236.3 332.7 L237.3 332.3 L238.3 331.9 L239.3 331.6 L240.3 331.3 L241.3 331.1 L242.3 330.9 L243.3 330.9 L244.3 330.9 L245.3 331.1 L246.3 331.3 L247.3 331.7 L248.3 332.1 L249.3 332.6 L250.3 333.2 L251.3 333.8 L252.3 334.3 L253.3 334.9 L254.3 335.5 L255.3 336 L256.3 336.5 L257.3 337 L258.3 337.5 L259.3 337.9 L260.3 338.2 L261.3 338.5 L262.3 338.8 L263.3 339.1 L264.3 339.4 L265.3 339.6 L266.3 339.8 L267.3 339.9 L268.3 340.1 L269.3 340.3 L270.3 340.4 L271.3 340.6 L272.3 340.7 L273.3 340.9 L274.3 341 L275.3 341.1 L276.3 341.3 L277.3 341.4 L278.3 341.6 L279.3 341.7 L280.3 341.8 L281.3 341.9" stroke="#88c540" stroke-width="0.9" fill="none"/>
<path d="M242.3 337.6 L243.3 337.7 L244.3 337.8 L245.3 337.8 L246.3 337.9 L247.3 338 L248.3 338.1 L249.3 338.2 L250.3 338.2 L251.3 338.3 L252.3 338.3 L253.3 338.3 L254.3 338.2 L255.3 338 L256.3 337.8 L257.3 337.5 L258.3 337 L259.3 336.4 L260.3 335.7 L261.3 334.9 L262.3 334 L263.3 333.2 L264.3 332.5 L265.3 332 L266.3 331.8 L267.3 332 L268.3 332.5 L269.3 333.3 L270.3 334.3 L271.3 335.4 L272.3 336.5 L273.3 337.5 L274.3 338.4 L275.3 339.1 L276.3 339.8 L277.3 340.3 L278.3 340.8 L279.3 341.1 L280.3 341.4 L281.3 341.6 L282.3 341.8 L283.3 342 L284.3 342.2 L285.3 342.3 L286.3 342.5 L287.3 342.6 L288.3 342.8 L289.3 342.9 L290.3 343 L291.3 343.2" stroke="#22c8d2" stroke-width="0.9" fill="none"/>
<path d="M244.3 337.8 L245.3 337.9 L246.3 338 L247.3 338.1 L248.3 338.2 L249.3 338.3 L250.3 338.4 L251.3 338.5 L252.3 338.6 L253.3 338.6 L254.3 338.7 L255.3 338.8 L256.3 338.9 L257.3 339 L258.3 339.1 L259.3 339.1 L260.3 339.2 L261.3 339.3 L262.3 339.3 L263.3 339.4 L264.3 339.4 L265.3 339.4 L266.3 339.4 L267.3 339.3 L268.3 339.2 L269.3 338.9 L270.3 338.5 L271.3 337.9 L272.3 337.1 L273.3 335.9 L274.3 334.4 L275.3 332.6 L276.3 330.6 L277.3 328.5 L278.3 326.6 L279.3 325.1 L280.3 324.5 L281.3 324.9 L282.3 326.2 L283.3 328.2 L284.3 330.5 L285.3 332.8 L286.3 335 L287.3 336.9 L288.3 338.4 L289.3 339.7 L290.3 340.7 L291.3 341.4 L292.3 342 L293.3 342.4 L294.3 342.7 L295.3 343 L296.3 343.2 L297.3 343.4 L298.3 343.6 L299.3 343.8 L300.3 344 L301.3 344.1 L302.3 344.3 L303.3 344.5 L304.3 344.6 L305.3 344.7 L306.3 344.9 L307.3 345 L308.3 345.2 L309.3 345.3 L310.3 345.5 L311.3 345.6 L312.3 345.7 L313.3 345.9 L314.3 346 L315.3 346.1 L316.3 346.3" stroke="#5aa5e6" stroke-width="0.9" fill="none"/>
<path d="M281.3 341.9 L282.3 342 L283.3 342.1 L284.3 342.2 L285.3 342.2 L286.3 342 L287.3 341.5 L288.3 340.5 L289.3 339 L290.3 337.2 L291.3 335.7 L292.3 335.5 L293.3 336.8 L294.3 338.8 L295.3 340.8 L296.3 342.2 L297.3 343.1 L298.3 343.7 L299.3 344 L300.3 344.2 L301.3 344.4 L302.3 344.5 L303.3 344.7" stroke="#f08c28" stroke-width="0.9" fill="none"/>
<path d="M267.3 340.3 L268.3 340.4 L269.3 340.5 L270.3 340.6 L271.3 340.7 L272.3 340.8 L273.3 340.9 L274.3 341 L275.3 341.1 L276.3 341.2 L277.3 341.3 L278.3 341.3 L279.3 341.4 L280.3 341.5 L281.3 341.5 L282.3 341.6 L283.3 341.6 L284.3 341.5 L285.3 341.4 L286.3 341.2 L287.3 340.8 L288.3 339.9 L289.3 338.4 L290.3 335.9 L291.3 332.3 L292.3 328 L293.3 323.8 L294.3 321.4 L295.3 322.1 L296.3 325.7 L297.3 330.3 L298.3 334.7 L299.3 338.1 L300.3 340.5 L301.3 342 L302.3 342.9 L303.3 343.5 L304.3 343.9 L305.3 344.2 L306.3 344.4 L307.3 344.7 L308.3 344.9 L309.3 345.1 L310.3 345.3 L311.3 345.4 L312.3 345.6 L313.3 345.7 L314.3 345.9 L315.3 346 L316.3 346.2 L317.3 346.3 L318.3 346.5 L319.3 346.6 L320.3 346.7 L321.3 346.9" stroke="#d8a828" stroke-width="0.9" fill="none"/>
<path d="M304.3 344.8 L305.3 344.9 L306.3 345 L307.3 345.1 L308.3 345.2 L309.3 345.4 L310.3 345.5 L311.3 345.6 L312.3 345.7 L313.3 345.8 L314.3 345.9 L315.3 346 L316.3 346 L317.3 346.1 L318.3 346.2 L319.3 346.2 L320.3 346.3 L321.3 346.3 L322.3 346.3 L323.3 346.2 L324.3 346.2 L325.3 346.1 L326.3 345.9 L327.3 345.7 L328.3 345.5 L329.3 345.3 L330.3 345 L331.3 344.7 L332.3 344.4 L333.3 344 L334.3 343.7 L335.3 343.3 L336.3 343 L337.3 342.7 L338.3 342.5 L339.3 342.4 L340.3 342.4 L341.3 342.5 L342.3 342.7 L343.3 343 L344.3 343.4 L345.3 343.8 L346.3 344.4 L347.3 344.9 L348.3 345.5 L349.3 346.1 L350.3 346.7 L351.3 347.3 L352.3 347.8 L353.3 348.4 L354.3 348.8 L355.3 349.3 L356.3 349.7 L357.3 350.1 L358.3 350.4 L359.3 350.7 L360.3 351 L361.3 351.2 L362.3 351.5 L363.3 351.7 L364.3 351.9 L365.3 352.1 L366.3 352.2 L367.3 352.4 L368.3 352.5 L369.3 352.7 L370.3 352.8 L371.3 353 L372.3 353.1 L373.3 353.2 L374.3 353.4 L375.3 353.5 L376.3 353.6 L377.3 353.8" stroke="#a8a030" stroke-width="0.9" fill="none"/>
<path d="M310.3 345.5 L311.3 345.6 L312.3 345.8 L313.3 345.9 L314.3 346 L315.3 346.1 L316.3 346.2 L317.3 346.3 L318.3 346.5 L319.3 346.6 L320.3 346.7 L321.3 346.8 L322.3 346.9 L323.3 347 L324.3 347.1 L325.3 347.2 L326.3 347.4 L327.3 347.5 L328.3 347.6 L329.3 347.7 L330.3 347.8 L331.3 347.9 L332.3 348 L333.3 348.1 L334.3 348.2 L335.3 348.3 L336.3 348.3 L337.3 348.4 L338.3 348.5 L339.3 348.5 L340.3 348.6 L341.3 348.6 L342.3 348.6 L343.3 348.5 L344.3 348.4 L345.3 348.2 L346.3 348 L347.3 347.7 L348.3 347.3 L349.3 346.8 L350.3 346.2 L351.3 345.5 L352.3 344.6 L353.3 343.7 L354.3 342.6 L355.3 341.5 L356.3 340.3 L357.3 339.1 L358.3 338 L359.3 336.9 L360.3 336 L361.3 335.3 L362.3 334.8 L363.3 334.7 L364.3 334.9 L365.3 335.5 L366.3 336.3 L367.3 337.4 L368.3 338.6 L369.3 340 L370.3 341.4 L371.3 342.9 L372.3 344.3 L373.3 345.6 L374.3 346.8 L375.3 348 L376.3 349 L377.3 349.9 L378.3 350.7 L379.3 351.4 L380.3 352 L381.3 352.5 L382.3 353 L383.3 353.3 L384.3 353.7 L385.3 353.9 L386.3 354.2 L387.3 354.4 L388.3 354.6 L389.3 354.8 L390.3 355 L391.3 355.1 L392.3 355.3 L393.3 355.5 L394.3 355.6 L395.3 355.8 L396.3 355.9 L397.3 356 L398.3 356.2 L399.3 356.3 L399.8 356.4" stroke="#b57af0" stroke-width="0.9" fill="none"/>
<path d="M338.3 349 L339.3 349.1 L340.3 349.2 L341.3 349.3 L342.3 349.4 L343.3 349.5 L344.3 349.7 L345.3 349.8 L346.3 349.9 L347.3 350 L348.3 350.1 L349.3 350.2 L350.3 350.3 L351.3 350.4 L352.3 350.5 L353.3 350.6 L354.3 350.7 L355.3 350.8 L356.3 350.8 L357.3 350.9 L358.3 351 L359.3 351 L360.3 351.1 L361.3 351.1 L362.3 351.1 L363.3 351 L364.3 350.9 L365.3 350.7 L366.3 350.3 L367.3 349.6 L368.3 348.5 L369.3 346.9 L370.3 344.6 L371.3 341.7 L372.3 338.3 L373.3 334.6 L374.3 331.1 L375.3 328.6 L376.3 327.8 L377.3 329 L378.3 331.9 L379.3 335.7 L380.3 339.7 L381.3 343.3 L382.3 346.4 L383.3 348.8 L384.3 350.6 L385.3 351.9 L386.3 352.8 L387.3 353.4 L388.3 353.9 L389.3 354.3 L390.3 354.5 L391.3 354.8 L392.3 355 L393.3 355.2 L394.3 355.4 L395.3 355.6 L396.3 355.8 L397.3 355.9 L398.3 356.1 L399.3 356.3 L399.8 356.3" stroke="#8a5548" stroke-width="0.9" fill="none"/>
<path d="M378.3 353.9 L379.3 354 L380.3 353.9 L381.3 353.8 L382.3 353.6 L383.3 353.2 L384.3 353 L385.3 352.9 L386.3 353.2 L387.3 353.7 L388.3 354.3 L389.3 354.8 L390.3 355.2 L391.3 355.4 L392.3 355.6" stroke="#40c080" stroke-width="0.9" fill="none"/>
<path d="M166.3 328.8 L167 328.8 L167.7 328.9 L168.4 329 L169.1 329 L169.8 329.1 L170.5 329.1 L171.2 329.2 L171.9 329.2 L172.6 329.3 L173.3 329.3 L174 329.4 L174.7 329.4 L175.4 329.5 L176.1 329.5 L176.8 329.5 L177.5 329.6 L178.2 329.6 L178.9 329.6 L179.6 329.6 L180.3 329.6 L181 329.6 L181.7 329.6 L182.4 329.6 L183.1 329.6 L183.8 329.5 L184.5 329.5 L185.2 329.4 L185.9 329.2 L186.6 329.1 L187.3 328.9 L188 328.6 L188.7 328.3 L189.4 327.8 L190.1 327.3 L190.8 326.6 L191.5 325.8 L192.2 324.7 L192.9 323.5 L193.6 322.1 L194.3 320.5 L195 318.8 L195.7 317.1 L196.4 315.5 L197.1 314.2 L197.8 313.5 L198.5 313.5 L199.2 314.2 L199.9 315.6 L200.6 317.3 L201.3 319.2 L202 321 L202.7 322.8 L203.4 324.4 L204.1 325.8 L204.8 326.9 L205.5 328 L206.2 328.8 L206.9 329.5 L207.6 330.1 L208.3 330.6 L209 331 L209.7 331.4 L210.4 331.7 L211.1 331.9 L211.8 332.1 L212.5 332.3 L213.2 332.5 L213.9 332.7 L214.6 332.8 L215.3 333 L216 333.1 L216.7 333.2 L217.4 333.3 L218.1 333.4 L218.8 333.5 L219.5 333.6 L220.2 333.7 L220.9 333.8 L221.6 333.8 L222.3 333.8 L223 333.9 L223.7 333.9 L224.4 333.9 L225.1 333.9 L225.8 333.9 L226.5 333.8 L227.2 333.8 L227.9 333.7 L228.6 333.6 L229.3 333.5 L230 333.3 L230.7 333.2 L231.4 333 L232.1 332.8 L232.8 332.5 L233.5 332.3 L234.2 332 L234.9 331.8 L235.6 331.5 L236.3 331.2 L237 330.8 L237.7 330.5 L238.4 330.2 L239.1 329.9 L239.8 329.6 L240.5 329.4 L241.2 329.1 L241.9 328.9 L242.6 328.8 L243.3 328.7 L244 328.6 L244.7 328.6 L245.4 328.6 L246.1 328.7 L246.8 328.8 L247.5 329 L248.2 329.2 L248.9 329.4 L249.6 329.7 L250.3 330 L251 330.2 L251.7 330.5 L252.4 330.8 L253.1 331 L253.8 331.2 L254.5 331.4 L255.2 331.6 L255.9 331.6 L256.6 331.7 L257.3 331.6 L258 331.5 L258.7 331.3 L259.4 331.1 L260.1 330.8 L260.8 330.4 L261.5 329.9 L262.2 329.5 L262.9 329 L263.6 328.5 L264.3 328.1 L265 327.8 L265.7 327.6 L266.4 327.6 L267.1 327.7 L267.8 327.9 L268.5 328.2 L269.2 328.6 L269.9 329 L270.6 329.3 L271.3 329.6 L272 329.6 L272.7 329.5 L273.4 329 L274.1 328.3 L274.8 327.3 L275.5 326 L276.2 324.5 L276.9 322.7 L277.6 320.8 L278.3 319.1 L279 317.5 L279.7 316.4 L280.4 316 L281.1 316.3 L281.8 317.4 L282.5 319 L283.2 321 L283.9 323.2 L284.6 325.3 L285.3 327.3 L286 329 L286.7 330.2 L287.4 330.8 L288.1 330.6 L288.8 329.6 L289.5 327.6 L290.2 324.7 L290.9 321.3 L291.6 317.8 L292.3 314.9 L293 312.8 L293.7 312 L294.4 312.5 L295.1 314.5 L295.8 317.7 L296.5 321.5 L297.2 325.3 L297.9 328.8 L298.6 331.8 L299.3 334.2 L300 336.1 L300.7 337.6 L301.4 338.7 L302.1 339.6 L302.8 340.3 L303.5 340.9 L304.2 341.4 L304.9 341.8 L305.6 342.2 L306.3 342.5 L307 342.8 L307.7 343.1 L308.4 343.3 L309.1 343.5 L309.8 343.7 L310.5 343.9 L311.2 344 L311.9 344.1 L312.6 344.3 L313.3 344.4 L314 344.5 L314.7 344.6 L315.4 344.7 L316.1 344.8 L316.8 344.8 L317.5 344.9 L318.2 345 L318.9 345 L319.6 345.1 L320.3 345.1 L321 345.1 L321.7 345.1 L322.4 345.1 L323.1 345.1 L323.8 345.1 L324.5 345 L325.2 344.9 L325.9 344.8 L326.6 344.7 L327.3 344.6 L328 344.4 L328.7 344.2 L329.4 344 L330.1 343.8 L330.8 343.6 L331.5 343.3 L332.2 343 L332.9 342.8 L333.6 342.5 L334.3 342.2 L335 341.9 L335.7 341.6 L336.4 341.3 L337.1 341.1 L337.8 340.8 L338.5 340.6 L339.2 340.5 L339.9 340.3 L340.6 340.2 L341.3 340.2 L342 340.2 L342.7 340.2 L343.4 340.2 L344.1 340.3 L344.8 340.4 L345.5 340.5 L346.2 340.6 L346.9 340.6 L347.6 340.7 L348.3 340.7 L349 340.7 L349.7 340.6 L350.4 340.5 L351.1 340.3 L351.8 340 L352.5 339.7 L353.2 339.3 L353.9 338.8 L354.6 338.3 L355.3 337.7 L356 337.1 L356.7 336.5 L357.4 335.8 L358.1 335.1 L358.8 334.5 L359.5 333.8 L360.2 333.2 L360.9 332.7 L361.6 332.2 L362.3 331.8 L363 331.5 L363.7 331.2 L364.4 331 L365.1 330.9 L365.8 330.8 L366.5 330.6 L367.2 330.4 L367.9 330.2 L368.6 329.8 L369.3 329.4 L370 328.8 L370.7 328.1 L371.4 327.1 L372.1 325.9 L372.8 324.4 L373.5 322.8 L374.2 321.3 L374.9 320.1 L375.6 319.5 L376.3 319.8 L377 321.1 L377.7 323.3 L378.4 326.1 L379.1 329.2 L379.8 332.3 L380.5 335.2 L381.2 337.7 L381.9 339.8 L382.6 341.5 L383.3 342.8 L384 343.8 L384.7 344.6 L385.4 345.4 L386.1 346.3 L386.8 347.3 L387.5 348.2 L388.2 349.2 L388.9 350.1 L389.6 350.8 L390.3 351.5 L391 352.1 L391.7 352.6 L392.4 353 L393.1 353.4 L393.8 353.7 L394.5 354 L395.2 354.2 L395.9 354.4 L396.6 354.6 L397.3 354.8 L398 355 L398.7 355.1 L399.4 355.3 L399.8 355.4" stroke="#ff5c5c" stroke-width="1.3" fill="none"/>
<path d="M172.3 329.7 L172.3 329.7 L173.3 329.8 L174.3 329.8 L175.3 329.9 L176.3 329.9 L177.3 330 L178.3 330 L179.3 330.1 L180.3 330.1 L181.3 330.1 L182.3 330.1 L183.3 330 L184.3 329.9 L185.3 329.8 L186.3 329.6 L187.3 329.4 L188.3 329 L189.3 328.4 L190.3 327.6 L191.3 326.5 L192.3 325.1 L193.3 323.2 L194.3 321 L195.3 318.6 L196.3 316.2 L197.3 314.5 L198.3 314 L199.3 315 L200.3 317.1 L201.3 319.8 L202.3 322.4 L203.3 324.7 L204.3 326.7 L205.3 328.3 L206.3 329.5 L207.3 330.5 L208.3 331.2 L209.3 331.8 L210.3 332.3 L211.3 332.7 L212.3 333 L213.3 333.3 L214.3 333.5 L215.3 333.8 L216.3 334 L217.3 334.2 L218.3 334.4 L219.3 334.5 L220.3 334.7 L221.3 334.9 L222.3 335 L223.3 335.2 L224.3 335.3 L225.3 335.4 L226.3 335.6 L227.3 335.7 L228.3 335.8 L229.3 336 L230.3 336.1 L231.3 336.2 L232 336.3" stroke="#6a2828" stroke-width="0.8" fill="none"/>
<path d="M166.3 371.4 L270 383.4 L399.8 400.2" stroke="#3c3c3c" stroke-width="1.0" fill="none"/>
<path d="M166.3 370.5 L270 382.1 L399.8 398.5" stroke="#7ac13e" stroke-width="1.25" fill="none"/>
<path d="M166.3 370.7 L166.3 370.7 L167.3 370.7 L168.3 370.8 L169.3 370.9 L170.3 371 L171.3 371.1 L172.3 371.1 L173.3 371.2 L174.3 371.3 L175.3 371.3 L176.3 371.4 L177.3 371.4 L178.3 371.5 L179.3 371.5 L180.3 371.5 L181.3 371.5 L182.3 371.5 L183.3 371.4 L184.3 371.3 L185.3 371.2 L186.3 371 L187.3 370.6 L188.3 370.2 L189.3 369.5 L190.3 368.6 L191.3 367.4 L192.3 365.8 L193.3 363.7 L194.3 361.2 L195.3 358.4 L196.3 355.7 L197.3 353.8 L198.3 353.2 L199.3 354.3 L200.3 356.7 L201.3 359.7 L202.3 362.6 L203.3 365.3 L204.3 367.5 L205.3 369.3 L206.3 370.7 L207.3 371.7 L208.3 372.6 L209.3 373.2 L210.3 373.7 L211.3 374.1 L212.3 374.5 L213.3 374.8 L214.3 375.1 L215.3 375.3 L216.3 375.6 L217.3 375.8 L218.3 376 L219.3 376.2 L220.3 376.3 L221.3 376.5 L222.3 376.7 L223.3 376.8 L224.3 377 L225.3 377.1 L226.3 377.3 L227.3 377.4 L228.3 377.5 L229.3 377.7 L230.3 377.8 L231.3 377.9 L232.3 378.1 L233.3 378.2 L234.3 378.3 L235.3 378.5 L236.3 378.6 L237.3 378.7 L238.3 378.8 L239.3 379 L240.3 379.1 L241.3 379.2 L242.3 379.3 L243.3 379.4 L244.3 379.6 L245.3 379.7 L246.3 379.8 L247.3 379.9" stroke="#7a3535" stroke-width="0.9" fill="none"/>
<path d="M208.3 375.6 L209.3 375.7 L210.3 375.8 L211.3 375.9 L212.3 376 L213.3 376.1 L214.3 376.2 L215.3 376.2 L216.3 376.3 L217.3 376.4 L218.3 376.5 L219.3 376.6 L220.3 376.6 L221.3 376.7 L222.3 376.7 L223.3 376.7 L224.3 376.7 L225.3 376.7 L226.3 376.7 L227.3 376.6 L228.3 376.5 L229.3 376.3 L230.3 376.2 L231.3 375.9 L232.3 375.7 L233.3 375.4 L234.3 375.1 L235.3 374.8 L236.3 374.5 L237.3 374.1 L238.3 373.8 L239.3 373.6 L240.3 373.3 L241.3 373.2 L242.3 373.1 L243.3 373.1 L244.3 373.2 L245.3 373.5 L246.3 373.8 L247.3 374.2 L248.3 374.6 L249.3 375.1 L250.3 375.7 L251.3 376.2 L252.3 376.8 L253.3 377.3 L254.3 377.8 L255.3 378.3 L256.3 378.8 L257.3 379.2 L258.3 379.6 L259.3 380 L260.3 380.3 L261.3 380.6 L262.3 380.9 L263.3 381.1 L264.3 381.4 L265.3 381.6 L266.3 381.7 L267.3 381.9 L268.3 382.1 L269.3 382.2 L270.3 382.4 L271.3 382.5 L272.3 382.7 L273.3 382.8 L274.3 382.9 L275.3 383.1 L276.3 383.2 L277.3 383.4 L278.3 383.5 L279.3 383.6" stroke="#88c540" stroke-width="0.9" fill="none"/>
<path d="M240.3 379.1 L241.3 379.2 L242.3 379.3 L243.3 379.4 L244.3 379.5 L245.3 379.6 L246.3 379.7 L247.3 379.8 L248.3 379.9 L249.3 380 L250.3 380 L251.3 380.1 L252.3 380.1 L253.3 380 L254.3 379.9 L255.3 379.8 L256.3 379.5 L257.3 379.1 L258.3 378.5 L259.3 377.9 L260.3 377.1 L261.3 376.2 L262.3 375.2 L263.3 374.3 L264.3 373.5 L265.3 372.9 L266.3 372.7 L267.3 372.9 L268.3 373.5 L269.3 374.4 L270.3 375.5 L271.3 376.7 L272.3 377.8 L273.3 378.9 L274.3 379.9 L275.3 380.8 L276.3 381.5 L277.3 382.1 L278.3 382.6 L279.3 383 L280.3 383.3 L281.3 383.5 L282.3 383.7 L283.3 383.9 L284.3 384.1 L285.3 384.3 L286.3 384.4 L287.3 384.6 L288.3 384.7 L289.3 384.9 L290.3 385 L291.3 385.1 L292.3 385.3" stroke="#22c8d2" stroke-width="0.9" fill="none"/>
<path d="M238.3 378.9 L239.3 379 L240.3 379.1 L241.3 379.2 L242.3 379.3 L243.3 379.4 L244.3 379.5 L245.3 379.6 L246.3 379.7 L247.3 379.8 L248.3 379.9 L249.3 380 L250.3 380.1 L251.3 380.2 L252.3 380.3 L253.3 380.4 L254.3 380.5 L255.3 380.6 L256.3 380.6 L257.3 380.7 L258.3 380.8 L259.3 380.8 L260.3 380.9 L261.3 380.9 L262.3 381 L263.3 381 L264.3 381 L265.3 381 L266.3 380.9 L267.3 380.7 L268.3 380.4 L269.3 379.9 L270.3 379.2 L271.3 378.1 L272.3 376.7 L273.3 374.8 L274.3 372.6 L275.3 370 L276.3 367.2 L277.3 364.5 L278.3 362.3 L279.3 361 L280.3 361 L281.3 362.3 L282.3 364.6 L283.3 367.5 L284.3 370.5 L285.3 373.4 L286.3 376 L287.3 378.2 L288.3 380 L289.3 381.4 L290.3 382.4 L291.3 383.2 L292.3 383.7 L293.3 384.2 L294.3 384.5 L295.3 384.8 L296.3 385.1 L297.3 385.3 L298.3 385.5 L299.3 385.7 L300.3 385.9 L301.3 386 L302.3 386.2 L303.3 386.4 L304.3 386.5 L305.3 386.7 L306.3 386.8 L307.3 387 L308.3 387.1 L309.3 387.3 L310.3 387.4 L311.3 387.6 L312.3 387.7 L313.3 387.8 L314.3 388 L315.3 388.1 L316.3 388.3 L317.3 388.4 L318.3 388.5 L319.3 388.7 L320.3 388.8 L321.3 388.9" stroke="#5aa5e6" stroke-width="0.9" fill="none"/>
<path d="M279.3 383.6 L280.3 383.7 L281.3 383.8 L282.3 383.9 L283.3 384 L284.3 384 L285.3 383.9 L286.3 383.5 L287.3 382.7 L288.3 381.1 L289.3 379 L290.3 376.8 L291.3 375.4 L292.3 375.9 L293.3 378 L294.3 380.5 L295.3 382.7 L296.3 384.2 L297.3 385.1 L298.3 385.6 L299.3 385.9 L300.3 386.1 L301.3 386.3 L302.3 386.5 L303.3 386.6 L304.3 386.8" stroke="#f08c28" stroke-width="0.9" fill="none"/>
<path d="M268.3 382.3 L269.3 382.4 L270.3 382.5 L271.3 382.6 L272.3 382.7 L273.3 382.8 L274.3 382.9 L275.3 383 L276.3 383.1 L277.3 383.2 L278.3 383.3 L279.3 383.4 L280.3 383.4 L281.3 383.5 L282.3 383.5 L283.3 383.5 L284.3 383.5 L285.3 383.4 L286.3 383.1 L287.3 382.5 L288.3 381.4 L289.3 379.6 L290.3 376.9 L291.3 373.3 L292.3 369.4 L293.3 366.4 L294.3 365.8 L295.3 368.1 L296.3 372 L297.3 376.1 L298.3 379.5 L299.3 382 L300.3 383.7 L301.3 384.7 L302.3 385.4 L303.3 385.8 L304.3 386.1 L305.3 386.4 L306.3 386.6 L307.3 386.8 L308.3 387 L309.3 387.2 L310.3 387.3 L311.3 387.5 L312.3 387.7 L313.3 387.8 L314.3 388 L315.3 388.1 L316.3 388.3 L317.3 388.4 L318.3 388.5 L319.3 388.7" stroke="#d8a828" stroke-width="0.9" fill="none"/>
<path d="M304.3 386.8 L305.3 386.9 L306.3 387 L307.3 387.1 L308.3 387.3 L309.3 387.4 L310.3 387.5 L311.3 387.6 L312.3 387.7 L313.3 387.8 L314.3 387.9 L315.3 388 L316.3 388.1 L317.3 388.1 L318.3 388.2 L319.3 388.2 L320.3 388.3 L321.3 388.3 L322.3 388.2 L323.3 388.2 L324.3 388.1 L325.3 388 L326.3 387.8 L327.3 387.6 L328.3 387.4 L329.3 387.1 L330.3 386.8 L331.3 386.5 L332.3 386.1 L333.3 385.8 L334.3 385.5 L335.3 385.1 L336.3 384.9 L337.3 384.6 L338.3 384.5 L339.3 384.4 L340.3 384.5 L341.3 384.6 L342.3 384.9 L343.3 385.3 L344.3 385.7 L345.3 386.2 L346.3 386.8 L347.3 387.4 L348.3 388 L349.3 388.6 L350.3 389.2 L351.3 389.7 L352.3 390.3 L353.3 390.8 L354.3 391.2 L355.3 391.6 L356.3 392 L357.3 392.4 L358.3 392.7 L359.3 393 L360.3 393.3 L361.3 393.5 L362.3 393.7 L363.3 393.9 L364.3 394.1 L365.3 394.3 L366.3 394.4 L367.3 394.6 L368.3 394.8 L369.3 394.9 L370.3 395 L371.3 395.2 L372.3 395.3 L373.3 395.5 L374.3 395.6 L375.3 395.7 L376.3 395.9 L377.3 396" stroke="#a8a030" stroke-width="0.9" fill="none"/>
<path d="M310.3 387.5 L311.3 387.7 L312.3 387.8 L313.3 387.9 L314.3 388 L315.3 388.1 L316.3 388.3 L317.3 388.4 L318.3 388.5 L319.3 388.6 L320.3 388.7 L321.3 388.9 L322.3 389 L323.3 389.1 L324.3 389.2 L325.3 389.3 L326.3 389.4 L327.3 389.5 L328.3 389.6 L329.3 389.7 L330.3 389.9 L331.3 390 L332.3 390.1 L333.3 390.2 L334.3 390.3 L335.3 390.3 L336.3 390.4 L337.3 390.5 L338.3 390.6 L339.3 390.6 L340.3 390.7 L341.3 390.7 L342.3 390.6 L343.3 390.6 L344.3 390.5 L345.3 390.3 L346.3 390 L347.3 389.7 L348.3 389.3 L349.3 388.8 L350.3 388.1 L351.3 387.4 L352.3 386.5 L353.3 385.5 L354.3 384.5 L355.3 383.3 L356.3 382.2 L357.3 381 L358.3 379.8 L359.3 378.8 L360.3 377.9 L361.3 377.3 L362.3 376.9 L363.3 376.9 L364.3 377.2 L365.3 377.8 L366.3 378.7 L367.3 379.8 L368.3 381.1 L369.3 382.5 L370.3 384 L371.3 385.4 L372.3 386.8 L373.3 388.1 L374.3 389.3 L375.3 390.5 L376.3 391.5 L377.3 392.3 L378.3 393.1 L379.3 393.8 L380.3 394.4 L381.3 394.9 L382.3 395.3 L383.3 395.6 L384.3 395.9 L385.3 396.2 L386.3 396.5 L387.3 396.7 L388.3 396.9 L389.3 397.1 L390.3 397.3 L391.3 397.4 L392.3 397.6 L393.3 397.7 L394.3 397.9 L395.3 398 L396.3 398.2 L397.3 398.3 L398.3 398.5 L399.3 398.6 L399.8 398.7" stroke="#b57af0" stroke-width="0.9" fill="none"/>
<path d="M336.3 390.8 L337.3 391 L338.3 391.1 L339.3 391.2 L340.3 391.3 L341.3 391.4 L342.3 391.5 L343.3 391.6 L344.3 391.8 L345.3 391.9 L346.3 392 L347.3 392.1 L348.3 392.2 L349.3 392.3 L350.3 392.4 L351.3 392.5 L352.3 392.6 L353.3 392.7 L354.3 392.8 L355.3 392.9 L356.3 392.9 L357.3 393 L358.3 393 L359.3 393.1 L360.3 393.1 L361.3 393.1 L362.3 393.1 L363.3 393 L364.3 392.8 L365.3 392.4 L366.3 391.8 L367.3 390.8 L368.3 389.2 L369.3 387 L370.3 384.2 L371.3 380.6 L372.3 376.7 L373.3 372.8 L374.3 369.6 L375.3 368 L376.3 368.6 L377.3 371.1 L378.3 375 L379.3 379.2 L380.3 383.3 L381.3 386.8 L382.3 389.7 L383.3 391.9 L384.3 393.4 L385.3 394.5 L386.3 395.3 L387.3 395.8 L388.3 396.2 L389.3 396.6 L390.3 396.8 L391.3 397.1 L392.3 397.3 L393.3 397.5 L394.3 397.7 L395.3 397.9 L396.3 398.1 L397.3 398.2 L398.3 398.4 L399.3 398.5 L399.8 398.6" stroke="#8a5548" stroke-width="0.9" fill="none"/>
<path d="M378.3 396.1 L379.3 396.2 L380.3 396.1 L381.3 396 L382.3 395.7 L383.3 395.4 L384.3 395.1 L385.3 395.2 L386.3 395.5 L387.3 396.1 L388.3 396.6 L389.3 397.1 L390.3 397.5 L391.3 397.7 L392.3 397.9" stroke="#40c080" stroke-width="0.9" fill="none"/>
<path d="M166.3 370.2 L167 370.3 L167.7 370.4 L168.4 370.4 L169.1 370.5 L169.8 370.5 L170.5 370.6 L171.2 370.6 L171.9 370.7 L172.6 370.7 L173.3 370.8 L174 370.8 L174.7 370.9 L175.4 370.9 L176.1 370.9 L176.8 371 L177.5 371 L178.2 371 L178.9 371 L179.6 371 L180.3 371 L181 371 L181.7 371 L182.4 371 L183.1 371 L183.8 370.9 L184.5 370.8 L185.2 370.7 L185.9 370.6 L186.6 370.4 L187.3 370.2 L188 369.9 L188.7 369.5 L189.4 369 L190.1 368.3 L190.8 367.6 L191.5 366.6 L192.2 365.4 L192.9 364 L193.6 362.5 L194.3 360.7 L195 358.7 L195.7 356.8 L196.4 354.9 L197.1 353.5 L197.8 352.7 L198.5 352.7 L199.2 353.6 L199.9 355.1 L200.6 357 L201.3 359.1 L202 361.2 L202.7 363.1 L203.4 364.9 L204.1 366.5 L204.8 367.8 L205.5 368.9 L206.2 369.9 L206.9 370.7 L207.6 371.3 L208.3 371.9 L209 372.3 L209.7 372.7 L210.4 373.1 L211.1 373.4 L211.8 373.6 L212.5 373.8 L213.2 374 L213.9 374.2 L214.6 374.4 L215.3 374.5 L216 374.7 L216.7 374.8 L217.4 374.9 L218.1 375 L218.8 375.1 L219.5 375.2 L220.2 375.3 L220.9 375.3 L221.6 375.4 L222.3 375.4 L223 375.5 L223.7 375.5 L224.4 375.5 L225.1 375.5 L225.8 375.4 L226.5 375.4 L227.2 375.3 L227.9 375.3 L228.6 375.1 L229.3 375 L230 374.9 L230.7 374.7 L231.4 374.5 L232.1 374.3 L232.8 374.1 L233.5 373.8 L234.2 373.6 L234.9 373.3 L235.6 373 L236.3 372.7 L237 372.4 L237.7 372.2 L238.4 371.9 L239.1 371.6 L239.8 371.3 L240.5 371.1 L241.2 370.9 L241.9 370.8 L242.6 370.6 L243.3 370.6 L244 370.5 L244.7 370.5 L245.4 370.6 L246.1 370.7 L246.8 370.8 L247.5 371 L248.2 371.2 L248.9 371.4 L249.6 371.7 L250.3 371.9 L251 372.1 L251.7 372.4 L252.4 372.6 L253.1 372.8 L253.8 373 L254.5 373.1 L255.2 373.2 L255.9 373.2 L256.6 373.2 L257.3 373 L258 372.9 L258.7 372.6 L259.4 372.2 L260.1 371.8 L260.8 371.3 L261.5 370.8 L262.2 370.2 L262.9 369.6 L263.6 369.1 L264.3 368.6 L265 368.2 L265.7 368 L266.4 367.9 L267.1 367.9 L267.8 368.1 L268.5 368.3 L269.2 368.6 L269.9 368.9 L270.6 369.1 L271.3 369.2 L272 369 L272.7 368.6 L273.4 367.9 L274.1 366.9 L274.8 365.7 L275.5 364.2 L276.2 362.5 L276.9 360.8 L277.6 359.2 L278.3 357.8 L279 356.9 L279.7 356.5 L280.4 356.8 L281.1 357.8 L281.8 359.4 L282.5 361.3 L283.2 363.4 L283.9 365.6 L284.6 367.6 L285.3 369.4 L286 370.7 L286.7 371.4 L287.4 371.3 L288.1 370.1 L288.8 367.9 L289.5 364.6 L290.2 360.6 L290.9 356.7 L291.6 353.5 L292.3 351.8 L293 351.6 L293.7 353 L294.4 355.7 L295.1 359.3 L295.8 363.4 L296.5 367.4 L297.2 370.9 L297.9 373.8 L298.6 376.1 L299.3 378 L300 379.4 L300.7 380.5 L301.4 381.4 L302.1 382.1 L302.8 382.7 L303.5 383.2 L304.2 383.6 L304.9 384 L305.6 384.3 L306.3 384.6 L307 384.9 L307.7 385.1 L308.4 385.4 L309.1 385.6 L309.8 385.7 L310.5 385.9 L311.2 386 L311.9 386.2 L312.6 386.3 L313.3 386.4 L314 386.5 L314.7 386.6 L315.4 386.7 L316.1 386.8 L316.8 386.8 L317.5 386.9 L318.2 386.9 L318.9 387 L319.6 387 L320.3 387 L321 387.1 L321.7 387.1 L322.4 387 L323.1 387 L323.8 386.9 L324.5 386.9 L325.2 386.8 L325.9 386.6 L326.6 386.5 L327.3 386.3 L328 386.2 L328.7 386 L329.4 385.7 L330.1 385.5 L330.8 385.2 L331.5 385 L332.2 384.7 L332.9 384.4 L333.6 384.1 L334.3 383.8 L335 383.5 L335.7 383.2 L336.4 382.9 L337.1 382.7 L337.8 382.4 L338.5 382.3 L339.2 382.1 L339.9 382 L340.6 381.9 L341.3 381.9 L342 381.9 L342.7 381.9 L343.4 382 L344.1 382.1 L344.8 382.2 L345.5 382.3 L346.2 382.3 L346.9 382.4 L347.6 382.4 L348.3 382.4 L349 382.4 L349.7 382.3 L350.4 382.2 L351.1 381.9 L351.8 381.7 L352.5 381.3 L353.2 380.9 L353.9 380.4 L354.6 379.9 L355.3 379.3 L356 378.7 L356.7 378.1 L357.4 377.4 L358.1 376.7 L358.8 376.1 L359.5 375.4 L360.2 374.9 L360.9 374.3 L361.6 373.9 L362.3 373.5 L363 373.1 L363.7 372.9 L364.4 372.6 L365.1 372.4 L365.8 372.2 L366.5 371.9 L367.2 371.6 L367.9 371.1 L368.6 370.5 L369.3 369.8 L370 368.8 L370.7 367.6 L371.4 366.1 L372.1 364.4 L372.8 362.4 L373.5 360.5 L374.2 359 L374.9 358.1 L375.6 358.2 L376.3 359.6 L377 362 L377.7 365.3 L378.4 368.9 L379.1 372.7 L379.8 376.2 L380.5 379.3 L381.2 381.9 L381.9 384 L382.6 385.6 L383.3 386.9 L384 387.9 L384.7 388.7 L385.4 389.5 L386.1 390.4 L386.8 391.3 L387.5 392.1 L388.2 392.9 L388.9 393.6 L389.6 394.2 L390.3 394.7 L391 395.1 L391.7 395.5 L392.4 395.8 L393.1 396.1 L393.8 396.3 L394.5 396.5 L395.2 396.7 L395.9 396.9 L396.6 397.1 L397.3 397.2 L398 397.4 L398.7 397.5 L399.4 397.7 L399.8 397.7" stroke="#ff5c5c" stroke-width="1.3" fill="none"/>
<path d="M172.3 371.1 L172.3 371.1 L173.3 371.2 L174.3 371.3 L175.3 371.3 L176.3 371.4 L177.3 371.4 L178.3 371.5 L179.3 371.5 L180.3 371.5 L181.3 371.5 L182.3 371.5 L183.3 371.4 L184.3 371.3 L185.3 371.2 L186.3 371 L187.3 370.6 L188.3 370.2 L189.3 369.5 L190.3 368.6 L191.3 367.4 L192.3 365.8 L193.3 363.7 L194.3 361.2 L195.3 358.4 L196.3 355.7 L197.3 353.8 L198.3 353.2 L199.3 354.3 L200.3 356.7 L201.3 359.7 L202.3 362.6 L203.3 365.3 L204.3 367.5 L205.3 369.3 L206.3 370.7 L207.3 371.7 L208.3 372.6 L209.3 373.2 L210.3 373.7 L211.3 374.1 L212.3 374.5 L213.3 374.8 L214.3 375.1 L215.3 375.3 L216.3 375.6 L217.3 375.8 L218.3 376 L219.3 376.2 L220.3 376.3 L221.3 376.5 L222.3 376.7 L223.3 376.8 L224.3 377 L225.3 377.1 L226.3 377.3 L227.3 377.4 L228.3 377.5 L229.3 377.7 L230.3 377.8 L231.3 377.9 L232 378" stroke="#6a2828" stroke-width="0.8" fill="none"/>
<path d="M166.3 407.4 L270 416 L399.8 426.8" stroke="#3c3c3c" stroke-width="1.0" fill="none"/>
<path d="M166.3 406.5 L270 414.7 L399.8 425.1" stroke="#7ac13e" stroke-width="1.25" fill="none"/>
<path d="M166.3 406.8 L166.3 406.8 L167.3 406.8 L168.3 406.9 L169.3 407 L170.3 407 L171.3 407.1 L172.3 407.1 L173.3 407.2 L174.3 407.2 L175.3 407.3 L176.3 407.3 L177.3 407.4 L178.3 407.4 L179.3 407.4 L180.3 407.4 L181.3 407.4 L182.3 407.4 L183.3 407.4 L184.3 407.3 L185.3 407.2 L186.3 407.1 L187.3 406.9 L188.3 406.6 L189.3 406.2 L190.3 405.6 L191.3 404.8 L192.3 403.7 L193.3 402.4 L194.3 400.7 L195.3 398.9 L196.3 397.2 L197.3 395.9 L198.3 395.5 L199.3 396.3 L200.3 397.8 L201.3 399.8 L202.3 401.7 L203.3 403.5 L204.3 404.9 L205.3 406.1 L206.3 407 L207.3 407.7 L208.3 408.3 L209.3 408.7 L210.3 409 L211.3 409.3 L212.3 409.6 L213.3 409.8 L214.3 410 L215.3 410.1 L216.3 410.3 L217.3 410.4 L218.3 410.6 L219.3 410.7 L220.3 410.8 L221.3 410.9 L222.3 411 L223.3 411.1 L224.3 411.2 L225.3 411.4 L226.3 411.5 L227.3 411.6 L228.3 411.6 L229.3 411.7 L230.3 411.8 L231.3 411.9 L232.3 412 L233.3 412.1 L234.3 412.2 L235.3 412.3 L236.3 412.4 L237.3 412.5 L238.3 412.5" stroke="#7a3535" stroke-width="0.9" fill="none"/>
<path d="M213.3 410.6 L214.3 410.6 L215.3 410.7 L216.3 410.8 L217.3 410.8 L218.3 410.9 L219.3 410.9 L220.3 411 L221.3 411 L222.3 411 L223.3 411 L224.3 411 L225.3 411 L226.3 410.9 L227.3 410.9 L228.3 410.8 L229.3 410.7 L230.3 410.5 L231.3 410.4 L232.3 410.2 L233.3 410 L234.3 409.8 L235.3 409.5 L236.3 409.3 L237.3 409.1 L238.3 408.9 L239.3 408.7 L240.3 408.6 L241.3 408.5 L242.3 408.5 L243.3 408.6 L244.3 408.7 L245.3 408.9 L246.3 409.2 L247.3 409.5 L248.3 409.8 L249.3 410.2 L250.3 410.6 L251.3 411 L252.3 411.3 L253.3 411.7 L254.3 412.1 L255.3 412.4 L256.3 412.7 L257.3 413 L258.3 413.2 L259.3 413.5 L260.3 413.7 L261.3 413.9 L262.3 414.1 L263.3 414.2 L264.3 414.4 L265.3 414.5 L266.3 414.6 L267.3 414.7 L268.3 414.8 L269.3 414.9 L270.3 415 L271.3 415.1 L272.3 415.2" stroke="#88c540" stroke-width="0.9" fill="none"/>
<path d="M244.3 413 L245.3 413.1 L246.3 413.2 L247.3 413.2 L248.3 413.3 L249.3 413.3 L250.3 413.4 L251.3 413.4 L252.3 413.4 L253.3 413.4 L254.3 413.3 L255.3 413.2 L256.3 412.9 L257.3 412.7 L258.3 412.3 L259.3 411.8 L260.3 411.2 L261.3 410.5 L262.3 409.8 L263.3 409.1 L264.3 408.5 L265.3 408.1 L266.3 407.9 L267.3 408.1 L268.3 408.5 L269.3 409.1 L270.3 409.9 L271.3 410.8 L272.3 411.7 L273.3 412.5 L274.3 413.2 L275.3 413.8 L276.3 414.3 L277.3 414.7 L278.3 415.1 L279.3 415.3 L280.3 415.6 L281.3 415.7 L282.3 415.9 L283.3 416 L284.3 416.1 L285.3 416.2 L286.3 416.3 L287.3 416.4 L288.3 416.5" stroke="#22c8d2" stroke-width="0.9" fill="none"/>
<path d="M251.3 413.6 L252.3 413.6 L253.3 413.7 L254.3 413.8 L255.3 413.8 L256.3 413.9 L257.3 414 L258.3 414 L259.3 414.1 L260.3 414.1 L261.3 414.2 L262.3 414.2 L263.3 414.2 L264.3 414.2 L265.3 414.2 L266.3 414.2 L267.3 414.1 L268.3 413.9 L269.3 413.6 L270.3 413.2 L271.3 412.6 L272.3 411.8 L273.3 410.8 L274.3 409.7 L275.3 408.4 L276.3 407.1 L277.3 405.9 L278.3 405.2 L279.3 404.9 L280.3 405.4 L281.3 406.3 L282.3 407.7 L283.3 409.1 L284.3 410.6 L285.3 411.9 L286.3 413 L287.3 414 L288.3 414.7 L289.3 415.3 L290.3 415.7 L291.3 416 L292.3 416.3 L293.3 416.5 L294.3 416.6 L295.3 416.8 L296.3 416.9 L297.3 417 L298.3 417.2 L299.3 417.3 L300.3 417.4 L301.3 417.5 L302.3 417.6 L303.3 417.7 L304.3 417.8 L305.3 417.9 L306.3 417.9 L307.3 418" stroke="#5aa5e6" stroke-width="0.9" fill="none"/>
<path d="M281.3 416 L282.3 416 L283.3 416.1 L284.3 416 L285.3 415.9 L286.3 415.6 L287.3 415 L288.3 413.9 L289.3 412.6 L290.3 411.3 L291.3 410.9 L292.3 411.6 L293.3 413.1 L294.3 414.6 L295.3 415.7 L296.3 416.5 L297.3 416.9 L298.3 417.2 L299.3 417.3 L300.3 417.5 L301.3 417.6" stroke="#f08c28" stroke-width="0.9" fill="none"/>
<path d="M271.3 415.2 L272.3 415.2 L273.3 415.3 L274.3 415.4 L275.3 415.4 L276.3 415.5 L277.3 415.5 L278.3 415.6 L279.3 415.6 L280.3 415.6 L281.3 415.7 L282.3 415.7 L283.3 415.6 L284.3 415.6 L285.3 415.4 L286.3 415.1 L287.3 414.5 L288.3 413.4 L289.3 411.7 L290.3 409.3 L291.3 406.5 L292.3 403.9 L293.3 402.6 L294.3 403.4 L295.3 405.9 L296.3 409 L297.3 411.7 L298.3 413.8 L299.3 415.2 L300.3 416.1 L301.3 416.6 L302.3 417 L303.3 417.2 L304.3 417.4 L305.3 417.6 L306.3 417.7 L307.3 417.8 L308.3 418 L309.3 418.1 L310.3 418.2 L311.3 418.3 L312.3 418.4 L313.3 418.5 L314.3 418.6 L315.3 418.7" stroke="#d8a828" stroke-width="0.9" fill="none"/>
<path d="M307.3 418 L308.3 418.1 L309.3 418.2 L310.3 418.3 L311.3 418.3 L312.3 418.4 L313.3 418.4 L314.3 418.5 L315.3 418.5 L316.3 418.6 L317.3 418.6 L318.3 418.6 L319.3 418.6 L320.3 418.6 L321.3 418.6 L322.3 418.5 L323.3 418.5 L324.3 418.3 L325.3 418.2 L326.3 418.1 L327.3 417.9 L328.3 417.6 L329.3 417.4 L330.3 417.1 L331.3 416.8 L332.3 416.5 L333.3 416.3 L334.3 416 L335.3 415.7 L336.3 415.5 L337.3 415.4 L338.3 415.3 L339.3 415.3 L340.3 415.3 L341.3 415.5 L342.3 415.7 L343.3 416.1 L344.3 416.4 L345.3 416.8 L346.3 417.3 L347.3 417.7 L348.3 418.2 L349.3 418.6 L350.3 419 L351.3 419.4 L352.3 419.8 L353.3 420.2 L354.3 420.5 L355.3 420.8 L356.3 421.1 L357.3 421.3 L358.3 421.5 L359.3 421.7 L360.3 421.9 L361.3 422.1 L362.3 422.2 L363.3 422.3 L364.3 422.5 L365.3 422.6 L366.3 422.7 L367.3 422.8 L368.3 422.9 L369.3 423 L370.3 423.1 L371.3 423.2 L372.3 423.3" stroke="#a8a030" stroke-width="0.9" fill="none"/>
<path d="M323.3 419.3 L324.3 419.4 L325.3 419.5 L326.3 419.5 L327.3 419.6 L328.3 419.7 L329.3 419.8 L330.3 419.8 L331.3 419.9 L332.3 420 L333.3 420 L334.3 420.1 L335.3 420.1 L336.3 420.2 L337.3 420.2 L338.3 420.3 L339.3 420.3 L340.3 420.3 L341.3 420.3 L342.3 420.3 L343.3 420.3 L344.3 420.2 L345.3 420.1 L346.3 420 L347.3 419.8 L348.3 419.6 L349.3 419.3 L350.3 418.9 L351.3 418.4 L352.3 417.9 L353.3 417.4 L354.3 416.8 L355.3 416.1 L356.3 415.4 L357.3 414.8 L358.3 414.1 L359.3 413.6 L360.3 413.1 L361.3 412.8 L362.3 412.6 L363.3 412.7 L364.3 412.9 L365.3 413.3 L366.3 413.9 L367.3 414.6 L368.3 415.3 L369.3 416.1 L370.3 417 L371.3 417.8 L372.3 418.6 L373.3 419.3 L374.3 420 L375.3 420.7 L376.3 421.2 L377.3 421.7 L378.3 422.2 L379.3 422.5 L380.3 422.9 L381.3 423.1 L382.3 423.4 L383.3 423.6 L384.3 423.8 L385.3 423.9 L386.3 424.1 L387.3 424.2 L388.3 424.3 L389.3 424.4 L390.3 424.5 L391.3 424.6 L392.3 424.7 L393.3 424.8 L394.3 424.9 L395.3 425 L396.3 425.1 L397.3 425.2 L398.3 425.3 L399.3 425.4 L399.8 425.4" stroke="#b57af0" stroke-width="0.9" fill="none"/>
<path d="M348.3 421.3 L349.3 421.4 L350.3 421.5 L351.3 421.5 L352.3 421.6 L353.3 421.7 L354.3 421.7 L355.3 421.8 L356.3 421.8 L357.3 421.9 L358.3 421.9 L359.3 421.9 L360.3 422 L361.3 422 L362.3 422 L363.3 421.9 L364.3 421.8 L365.3 421.5 L366.3 421.1 L367.3 420.5 L368.3 419.6 L369.3 418.3 L370.3 416.8 L371.3 414.9 L372.3 413 L373.3 411.3 L374.3 410.3 L375.3 410.2 L376.3 411.2 L377.3 412.8 L378.3 414.9 L379.3 416.9 L380.3 418.8 L381.3 420.3 L382.3 421.5 L383.3 422.3 L384.3 422.9 L385.3 423.4 L386.3 423.7 L387.3 423.9 L388.3 424.1 L389.3 424.3 L390.3 424.4 L391.3 424.5 L392.3 424.7 L393.3 424.8 L394.3 424.9 L395.3 425 L396.3 425.1 L397.3 425.2 L398.3 425.3 L399.3 425.4 L399.8 425.4" stroke="#8a5548" stroke-width="0.9" fill="none"/>
<path d="M378.3 423.8 L379.3 423.8 L380.3 423.7 L381.3 423.5 L382.3 423.3 L383.3 423 L384.3 422.9 L385.3 423 L386.3 423.3 L387.3 423.7 L388.3 424.1 L389.3 424.4 L390.3 424.6 L391.3 424.8" stroke="#40c080" stroke-width="0.9" fill="none"/>
<path d="M166.3 406.4 L167 406.4 L167.7 406.5 L168.4 406.5 L169.1 406.6 L169.8 406.6 L170.5 406.6 L171.2 406.7 L171.9 406.7 L172.6 406.8 L173.3 406.8 L174 406.8 L174.7 406.9 L175.4 406.9 L176.1 406.9 L176.8 406.9 L177.5 407 L178.2 407 L178.9 407 L179.6 407 L180.3 407 L181 407 L181.7 407 L182.4 407 L183.1 407 L183.8 406.9 L184.5 406.9 L185.2 406.8 L185.9 406.7 L186.6 406.6 L187.3 406.5 L188 406.3 L188.7 406 L189.4 405.7 L190.1 405.3 L190.8 404.8 L191.5 404.2 L192.2 403.4 L192.9 402.5 L193.6 401.5 L194.3 400.3 L195 399 L195.7 397.7 L196.4 396.6 L197.1 395.6 L197.8 395.1 L198.5 395.1 L199.2 395.7 L199.9 396.7 L200.6 397.9 L201.3 399.3 L202 400.7 L202.7 402 L203.4 403.1 L204.1 404.1 L204.8 405 L205.5 405.8 L206.2 406.4 L206.9 406.9 L207.6 407.4 L208.3 407.7 L209 408 L209.7 408.3 L210.4 408.5 L211.1 408.7 L211.8 408.8 L212.5 409 L213.2 409.1 L213.9 409.2 L214.6 409.4 L215.3 409.5 L216 409.6 L216.7 409.6 L217.4 409.7 L218.1 409.8 L218.8 409.8 L219.5 409.9 L220.2 410 L220.9 410 L221.6 410 L222.3 410 L223 410.1 L223.7 410.1 L224.4 410.1 L225.1 410 L225.8 410 L226.5 410 L227.2 409.9 L227.9 409.9 L228.6 409.8 L229.3 409.7 L230 409.6 L230.7 409.4 L231.4 409.3 L232.1 409.1 L232.8 409 L233.5 408.8 L234.2 408.6 L234.9 408.4 L235.6 408.2 L236.3 408 L237 407.8 L237.7 407.6 L238.4 407.4 L239.1 407.2 L239.8 407.1 L240.5 406.9 L241.2 406.8 L241.9 406.7 L242.6 406.7 L243.3 406.7 L244 406.7 L244.7 406.7 L245.4 406.8 L246.1 406.9 L246.8 407 L247.5 407.1 L248.2 407.3 L248.9 407.4 L249.6 407.6 L250.3 407.8 L251 407.9 L251.7 408.1 L252.4 408.2 L253.1 408.4 L253.8 408.5 L254.5 408.6 L255.2 408.6 L255.9 408.6 L256.6 408.5 L257.3 408.4 L258 408.3 L258.7 408.1 L259.4 407.8 L260.1 407.5 L260.8 407.1 L261.5 406.7 L262.2 406.3 L262.9 405.9 L263.6 405.5 L264.3 405.1 L265 404.8 L265.7 404.6 L266.4 404.5 L267.1 404.6 L267.8 404.7 L268.5 404.9 L269.2 405.2 L269.9 405.4 L270.6 405.6 L271.3 405.8 L272 405.7 L272.7 405.5 L273.4 405.2 L274.1 404.6 L274.8 403.9 L275.5 403 L276.2 402 L276.9 401.1 L277.6 400.2 L278.3 399.6 L279 399.3 L279.7 399.4 L280.4 400 L281.1 401 L281.8 402.2 L282.5 403.5 L283.2 404.9 L283.9 406.2 L284.6 407.4 L285.3 408.2 L286 408.7 L286.7 408.8 L287.4 408.3 L288.1 407.1 L288.8 405.3 L289.5 403 L290.2 400.4 L290.9 397.9 L291.6 396.1 L292.3 395.2 L293 395.3 L293.7 396.5 L294.4 398.6 L295.1 401.3 L295.8 404 L296.5 406.5 L297.2 408.6 L297.9 410.3 L298.6 411.7 L299.3 412.7 L300 413.5 L300.7 414.1 L301.4 414.6 L302.1 415 L302.8 415.3 L303.5 415.6 L304.2 415.9 L304.9 416.1 L305.6 416.3 L306.3 416.4 L307 416.6 L307.7 416.7 L308.4 416.8 L309.1 417 L309.8 417.1 L310.5 417.1 L311.2 417.2 L311.9 417.3 L312.6 417.4 L313.3 417.4 L314 417.5 L314.7 417.5 L315.4 417.6 L316.1 417.6 L316.8 417.7 L317.5 417.7 L318.2 417.7 L318.9 417.7 L319.6 417.7 L320.3 417.7 L321 417.7 L321.7 417.7 L322.4 417.6 L323.1 417.6 L323.8 417.5 L324.5 417.4 L325.2 417.3 L325.9 417.2 L326.6 417 L327.3 416.8 L328 416.7 L328.7 416.5 L329.4 416.3 L330.1 416 L330.8 415.8 L331.5 415.5 L332.2 415.3 L332.9 415 L333.6 414.7 L334.3 414.5 L335 414.2 L335.7 414 L336.4 413.7 L337.1 413.5 L337.8 413.3 L338.5 413.2 L339.2 413.1 L339.9 413 L340.6 412.9 L341.3 412.9 L342 412.9 L342.7 413 L343.4 413 L344.1 413.1 L344.8 413.2 L345.5 413.3 L346.2 413.4 L346.9 413.5 L347.6 413.6 L348.3 413.6 L349 413.7 L349.7 413.7 L350.4 413.7 L351.1 413.6 L351.8 413.6 L352.5 413.4 L353.2 413.3 L353.9 413.1 L354.6 412.9 L355.3 412.6 L356 412.3 L356.7 412.1 L357.4 411.7 L358.1 411.4 L358.8 411.1 L359.5 410.9 L360.2 410.6 L360.9 410.4 L361.6 410.2 L362.3 410 L363 409.9 L363.7 409.8 L364.4 409.7 L365.1 409.6 L365.8 409.5 L366.5 409.3 L367.2 409.2 L367.9 408.9 L368.6 408.7 L369.3 408.3 L370 407.9 L370.7 407.3 L371.4 406.5 L372.1 405.7 L372.8 404.9 L373.5 404.2 L374.2 403.8 L374.9 403.9 L375.6 404.5 L376.3 405.7 L377 407.4 L377.7 409.2 L378.4 411 L379.1 412.8 L379.8 414.3 L380.5 415.5 L381.2 416.5 L381.9 417.2 L382.6 417.7 L383.3 418 L384 418.4 L384.7 418.7 L385.4 419.1 L386.1 419.7 L386.8 420.3 L387.5 420.8 L388.2 421.4 L388.9 421.9 L389.6 422.3 L390.3 422.7 L391 423 L391.7 423.2 L392.4 423.5 L393.1 423.6 L393.8 423.8 L394.5 423.9 L395.2 424.1 L395.9 424.2 L396.6 424.3 L397.3 424.4 L398 424.5 L398.7 424.6 L399.4 424.7 L399.8 424.7" stroke="#ff5c5c" stroke-width="1.3" fill="none"/>
<path d="M172.3 407.1 L172.3 407.1 L173.3 407.2 L174.3 407.2 L175.3 407.3 L176.3 407.3 L177.3 407.4 L178.3 407.4 L179.3 407.4 L180.3 407.4 L181.3 407.4 L182.3 407.4 L183.3 407.4 L184.3 407.3 L185.3 407.2 L186.3 407.1 L187.3 406.9 L188.3 406.6 L189.3 406.2 L190.3 405.6 L191.3 404.8 L192.3 403.7 L193.3 402.4 L194.3 400.7 L195.3 398.9 L196.3 397.2 L197.3 395.9 L198.3 395.5 L199.3 396.3 L200.3 397.8 L201.3 399.8 L202.3 401.7 L203.3 403.5 L204.3 404.9 L205.3 406.1 L206.3 407 L207.3 407.7 L208.3 408.3 L209.3 408.7 L210.3 409 L211.3 409.3 L212.3 409.6 L213.3 409.8 L214.3 410 L215.3 410.1 L216.3 410.3 L217.3 410.4 L218.3 410.6 L219.3 410.7 L220.3 410.8 L221.3 410.9 L222.3 411 L223.3 411.1 L224.3 411.2 L225.3 411.4 L226.3 411.5 L227.3 411.6 L228.3 411.6 L229.3 411.7 L230.3 411.8 L231.3 411.9 L232 412" stroke="#6a2828" stroke-width="0.8" fill="none"/>
<path d="M197.4 271 L197.4 410.5" stroke="#444" stroke-width="0.65" stroke-dasharray="2 1.4" fill="none"/>
<path d="M245 284 L243.1 414.1" stroke="#444" stroke-width="0.65" stroke-dasharray="2 1.4" fill="none"/>
<path d="M266.6 269.5 L266.6 415.9" stroke="#444" stroke-width="0.65" stroke-dasharray="2 1.4" fill="none"/>
<path d="M281.2 270 L279.2 416.9" stroke="#444" stroke-width="0.65" stroke-dasharray="2 1.4" fill="none"/>
<path d="M292.4 266 L291.2 417.9" stroke="#444" stroke-width="0.65" stroke-dasharray="2 1.4" fill="none"/>
<path d="M295.2 277.5 L293.4 418.1" stroke="#444" stroke-width="0.65" stroke-dasharray="2 1.4" fill="none"/>
<path d="M341.8 276 L339.9 421.8" stroke="#444" stroke-width="0.65" stroke-dasharray="2 1.4" fill="none"/>
<path d="M363.8 270 L363 423.7" stroke="#444" stroke-width="0.65" stroke-dasharray="2 1.4" fill="none"/>
<path d="M376.9 275 L374.9 424.6" stroke="#444" stroke-width="0.65" stroke-dasharray="2 1.4" fill="none"/>
<path d="M385.6 276 L384.8 425.4" stroke="#444" stroke-width="0.65" stroke-dasharray="2 1.4" fill="none"/>
<rect x="166.3" y="240" width="233.5" height="188.4" fill="none" stroke="#3a3a3a" stroke-width="1.2"/>
<path d="M181.9 428.4 v3.5 M233.8 428.4 v3.5 M285.6 428.4 v3.5 M337.5 428.4 v3.5 M389.4 428.4 v3.5 M207.8 428.4 v2.2 M259.7 428.4 v2.2 M311.6 428.4 v2.2 M363.5 428.4 v2.2" stroke="#333" stroke-width="1" fill="none"/>
<text transform="translate(181.9 442.5) scale(1 1.12)" font-size="9.7" fill="#1a1a1a" stroke="#1a1a1a" stroke-width="0.2" text-anchor="middle">920</text>
<text transform="translate(233.8 442.5) scale(1 1.12)" font-size="9.7" fill="#1a1a1a" stroke="#1a1a1a" stroke-width="0.2" text-anchor="middle">910</text>
<text transform="translate(285.6 442.5) scale(1 1.12)" font-size="9.7" fill="#1a1a1a" stroke="#1a1a1a" stroke-width="0.2" text-anchor="middle">900</text>
<text transform="translate(337.5 442.5) scale(1 1.12)" font-size="9.7" fill="#1a1a1a" stroke="#1a1a1a" stroke-width="0.2" text-anchor="middle">890</text>
<text transform="translate(389.4 442.5) scale(1 1.12)" font-size="9.7" fill="#1a1a1a" stroke="#1a1a1a" stroke-width="0.2" text-anchor="middle">880</text>
<text x="283.4" y="459.6" font-size="10.5" fill="#1a1a1a" text-anchor="middle"  stroke="#1a1a1a" stroke-width="0.22">Binding Energy (eV)</text>
<text x="158.4" y="333.8" font-size="11" fill="#222" text-anchor="middle" transform="rotate(-90 158.4 333.8)" stroke="#222" stroke-width="0.22">Intensity (a.u.)</text>
<text x="171.6" y="251.4" font-size="8.6" fill="#222" text-anchor="start"  stroke="#222" stroke-width="0.15">(C)</text>
<text x="394.2" y="251.4" font-size="9.0" fill="#222" text-anchor="end"  stroke="#222" stroke-width="0.22">Ce 3d</text>
<text transform="translate(168 268.2) scale(1 1.15)" font-size="7.1" fill="#1a1a1a" text-anchor="start"  stroke="#1a1a1a" stroke-width="0.15">0.6Pt-0.4Pd/CZL-a(R700)</text>
<text transform="translate(168 309.2) scale(1 1.15)" font-size="7.1" fill="#1a1a1a" text-anchor="start"  stroke="#1a1a1a" stroke-width="0.15">0.6Pt-0.4Pd/CZL-a(R550)</text>
<text transform="translate(168 350.9) scale(1 1.15)" font-size="7.1" fill="#1a1a1a" text-anchor="start"  stroke="#1a1a1a" stroke-width="0.15">0.6Pt-0.4Pd/CZL-a</text>
<text transform="translate(168 393.1) scale(1 1.15)" font-size="7.1" fill="#1a1a1a" text-anchor="start"  stroke="#1a1a1a" stroke-width="0.15">0.6Pt-0.4Pd/CZL</text>
<text x="202.8" y="277.3" font-size="9.6" fill="#333" class="serif">u</text>
<path d="M209 270 l-0.5 2.4 M211.2 270 l-0.5 2.4 M213.4 270 l-0.5 2.4" stroke="#444" stroke-width="0.75" fill="none" stroke-linecap="round"/>
<text x="240.6" y="279.4" font-size="9.6" fill="#333" class="serif">u</text>
<path d="M246.8 272.1 l-0.5 2.4 M249 272.1 l-0.5 2.4" stroke="#444" stroke-width="0.75" fill="none" stroke-linecap="round"/>
<text x="263.4" y="266.3" font-size="9.6" fill="#333" class="serif">u</text>
<path d="M269.6 259 l-0.5 2.4" stroke="#444" stroke-width="0.75" fill="none" stroke-linecap="round"/>
<text x="278.2" y="265.8" font-size="9.6" fill="#333" class="serif">u</text>
<text x="288" y="262.4" font-size="9.6" fill="#333" class="serif">v</text>
<path d="M294.2 255.1 l-0.5 2.4 M296.4 255.1 l-0.5 2.4 M298.6 255.1 l-0.5 2.4" stroke="#444" stroke-width="0.75" fill="none" stroke-linecap="round"/>
<text x="298.4" y="278.3" font-size="9.6" fill="#333" class="serif">u<tspan font-size="6.9" dy="2.1">0</tspan></text>
<text x="340.2" y="273.2" font-size="9.6" fill="#333" class="serif">v</text>
<path d="M346.4 265.9 l-0.5 2.4 M348.6 265.9 l-0.5 2.4" stroke="#444" stroke-width="0.75" fill="none" stroke-linecap="round"/>
<text x="361" y="268" font-size="9.6" fill="#333" class="serif">v</text>
<path d="M367.2 260.7 l-0.5 2.4" stroke="#444" stroke-width="0.75" fill="none" stroke-linecap="round"/>
<text x="374.4" y="272.8" font-size="9.6" fill="#333" class="serif">v</text>
<text x="381.6" y="270.6" font-size="9.6" fill="#333" class="serif">v<tspan font-size="6.9" dy="2.1">0</tspan></text>
</svg>
</div>
</body></html>
